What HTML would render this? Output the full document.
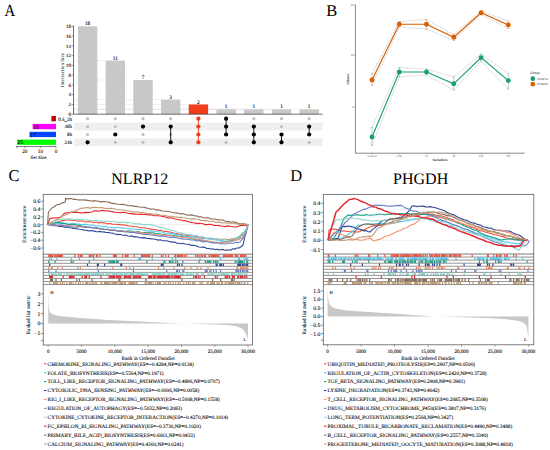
<!DOCTYPE html>
<html><head><meta charset="utf-8"><style>
html,body{margin:0;padding:0;background:#fff;width:550px;height:450px;overflow:hidden}
svg{display:block}
text{text-rendering:geometricPrecision}
.s{stroke:#111;stroke-width:0.1px}
</style></head><body>
<svg width="550" height="450" viewBox="0 0 550 450">
<rect width="550" height="450" fill="#fff"/>
<text x="4.5" y="15.8" font-family='"Liberation Serif", serif' font-size="16.5" transform="translate(4.5,15.8) scale(0.9,1.03) translate(-4.5,-15.8)">A</text>
<line x1="73.50" y1="60.52" x2="105.60" y2="60.52" stroke="#e2e2e2" stroke-width="0.5" />
<line x1="73.50" y1="80.04" x2="133.30" y2="80.04" stroke="#e2e2e2" stroke-width="0.5" />
<line x1="73.50" y1="99.56" x2="161.00" y2="99.56" stroke="#e2e2e2" stroke-width="0.5" />
<line x1="73.50" y1="104.44" x2="188.70" y2="104.44" stroke="#e2e2e2" stroke-width="0.5" />
<line x1="73.50" y1="109.32" x2="216.40" y2="109.32" stroke="#e2e2e2" stroke-width="0.5" />
<line x1="73.50" y1="109.32" x2="244.10" y2="109.32" stroke="#e2e2e2" stroke-width="0.5" />
<line x1="73.50" y1="109.32" x2="271.80" y2="109.32" stroke="#e2e2e2" stroke-width="0.5" />
<line x1="73.50" y1="109.32" x2="299.50" y2="109.32" stroke="#e2e2e2" stroke-width="0.5" />
<rect x="77.90" y="26.36" width="19.40" height="87.84" fill="#c8c8c8"/>
<text class="s" x="87.60" y="25.46" font-family='"Liberation Serif", serif' font-size="5.4" text-anchor="middle" fill="#111" >18</text>
<rect x="105.60" y="60.52" width="19.40" height="53.68" fill="#c8c8c8"/>
<text class="s" x="115.30" y="59.62" font-family='"Liberation Serif", serif' font-size="5.4" text-anchor="middle" fill="#111" >11</text>
<rect x="133.30" y="80.04" width="19.40" height="34.16" fill="#c8c8c8"/>
<text class="s" x="143.00" y="79.14" font-family='"Liberation Serif", serif' font-size="5.4" text-anchor="middle" fill="#111" >7</text>
<rect x="161.00" y="99.56" width="19.40" height="14.64" fill="#c8c8c8"/>
<text class="s" x="170.70" y="98.66" font-family='"Liberation Serif", serif' font-size="5.4" text-anchor="middle" fill="#111" >3</text>
<rect x="188.70" y="104.44" width="19.40" height="9.76" fill="#f23d1a"/>
<text class="s" x="198.40" y="103.54" font-family='"Liberation Serif", serif' font-size="5.4" text-anchor="middle" fill="#111" >2</text>
<rect x="216.40" y="109.32" width="19.40" height="4.88" fill="#c8c8c8"/>
<text class="s" x="226.10" y="108.42" font-family='"Liberation Serif", serif' font-size="5.4" text-anchor="middle" fill="#111" >1</text>
<rect x="244.10" y="109.32" width="19.40" height="4.88" fill="#c8c8c8"/>
<text class="s" x="253.80" y="108.42" font-family='"Liberation Serif", serif' font-size="5.4" text-anchor="middle" fill="#111" >1</text>
<rect x="271.80" y="109.32" width="19.40" height="4.88" fill="#c8c8c8"/>
<text class="s" x="281.50" y="108.42" font-family='"Liberation Serif", serif' font-size="5.4" text-anchor="middle" fill="#111" >1</text>
<rect x="299.50" y="109.32" width="19.40" height="4.88" fill="#c8c8c8"/>
<text class="s" x="309.20" y="108.42" font-family='"Liberation Serif", serif' font-size="5.4" text-anchor="middle" fill="#111" >1</text>
<line x1="73.50" y1="25.50" x2="73.50" y2="114.20" stroke="#333" stroke-width="0.7" />
<line x1="73.50" y1="114.20" x2="322.70" y2="114.20" stroke="#333" stroke-width="0.7" />
<line x1="71.50" y1="114.20" x2="73.50" y2="114.20" stroke="#333" stroke-width="0.5" />
<text class="s" x="70.90" y="115.90" font-family='"Liberation Serif", serif' font-size="5.0" text-anchor="end" fill="#111" stroke="none">0</text>
<line x1="71.50" y1="104.44" x2="73.50" y2="104.44" stroke="#333" stroke-width="0.5" />
<text class="s" x="70.90" y="106.14" font-family='"Liberation Serif", serif' font-size="5.0" text-anchor="end" fill="#111" stroke="none">2</text>
<line x1="71.50" y1="94.68" x2="73.50" y2="94.68" stroke="#333" stroke-width="0.5" />
<text class="s" x="70.90" y="96.38" font-family='"Liberation Serif", serif' font-size="5.0" text-anchor="end" fill="#111" stroke="none">4</text>
<line x1="71.50" y1="84.92" x2="73.50" y2="84.92" stroke="#333" stroke-width="0.5" />
<text class="s" x="70.90" y="86.62" font-family='"Liberation Serif", serif' font-size="5.0" text-anchor="end" fill="#111" stroke="none">6</text>
<line x1="71.50" y1="75.16" x2="73.50" y2="75.16" stroke="#333" stroke-width="0.5" />
<text class="s" x="70.90" y="76.86" font-family='"Liberation Serif", serif' font-size="5.0" text-anchor="end" fill="#111" stroke="none">8</text>
<line x1="71.50" y1="65.40" x2="73.50" y2="65.40" stroke="#333" stroke-width="0.5" />
<text class="s" x="70.90" y="67.10" font-family='"Liberation Serif", serif' font-size="5.0" text-anchor="end" fill="#111" stroke="none">10</text>
<line x1="71.50" y1="55.64" x2="73.50" y2="55.64" stroke="#333" stroke-width="0.5" />
<text class="s" x="70.90" y="57.34" font-family='"Liberation Serif", serif' font-size="5.0" text-anchor="end" fill="#111" stroke="none">12</text>
<line x1="71.50" y1="45.88" x2="73.50" y2="45.88" stroke="#333" stroke-width="0.5" />
<text class="s" x="70.90" y="47.58" font-family='"Liberation Serif", serif' font-size="5.0" text-anchor="end" fill="#111" stroke="none">14</text>
<line x1="71.50" y1="36.12" x2="73.50" y2="36.12" stroke="#333" stroke-width="0.5" />
<text class="s" x="70.90" y="37.82" font-family='"Liberation Serif", serif' font-size="5.0" text-anchor="end" fill="#111" stroke="none">16</text>
<line x1="71.50" y1="26.36" x2="73.50" y2="26.36" stroke="#333" stroke-width="0.5" />
<text class="s" x="70.90" y="28.06" font-family='"Liberation Serif", serif' font-size="5.0" text-anchor="end" fill="#111" stroke="none">18</text>
<text transform="translate(64.4,70) rotate(-90)" font-family='"Liberation Serif", serif' font-size="5.1" text-anchor="middle" fill="#111">Intersection Size</text>
<rect x="74.00" y="122.70" width="248.70" height="7.80" fill="#efefef"/>
<rect x="74.00" y="138.40" width="248.70" height="7.80" fill="#efefef"/>
<text class="s" x="72.00" y="120.50" font-family='"Liberation Serif", serif' font-size="5.0" text-anchor="end" fill="#111" >0.5_2h</text>
<text class="s" x="72.00" y="128.40" font-family='"Liberation Serif", serif' font-size="5.0" text-anchor="end" fill="#111" >48h</text>
<text class="s" x="72.00" y="136.30" font-family='"Liberation Serif", serif' font-size="5.0" text-anchor="end" fill="#111" >8h</text>
<text class="s" x="72.00" y="144.10" font-family='"Liberation Serif", serif' font-size="5.0" text-anchor="end" fill="#111" >24h</text>
<circle cx="87.60" cy="118.70" r="1.60" fill="#c0c0c0"/>
<circle cx="87.60" cy="126.60" r="1.60" fill="#c0c0c0"/>
<circle cx="87.60" cy="134.50" r="1.60" fill="#c0c0c0"/>
<circle cx="87.60" cy="142.30" r="1.60" fill="#c0c0c0"/>
<circle cx="87.60" cy="142.30" r="2.10" fill="#000"/>
<circle cx="115.30" cy="118.70" r="1.60" fill="#c0c0c0"/>
<circle cx="115.30" cy="126.60" r="1.60" fill="#c0c0c0"/>
<circle cx="115.30" cy="134.50" r="1.60" fill="#c0c0c0"/>
<circle cx="115.30" cy="142.30" r="1.60" fill="#c0c0c0"/>
<circle cx="115.30" cy="134.50" r="2.10" fill="#000"/>
<circle cx="143.00" cy="118.70" r="1.60" fill="#c0c0c0"/>
<circle cx="143.00" cy="126.60" r="1.60" fill="#c0c0c0"/>
<circle cx="143.00" cy="134.50" r="1.60" fill="#c0c0c0"/>
<circle cx="143.00" cy="142.30" r="1.60" fill="#c0c0c0"/>
<circle cx="143.00" cy="126.60" r="2.10" fill="#000"/>
<circle cx="170.70" cy="118.70" r="1.60" fill="#c0c0c0"/>
<circle cx="170.70" cy="126.60" r="1.60" fill="#c0c0c0"/>
<circle cx="170.70" cy="134.50" r="1.60" fill="#c0c0c0"/>
<circle cx="170.70" cy="142.30" r="1.60" fill="#c0c0c0"/>
<line x1="170.70" y1="126.60" x2="170.70" y2="142.30" stroke="#000" stroke-width="0.9" />
<circle cx="170.70" cy="126.60" r="2.10" fill="#000"/>
<circle cx="170.70" cy="142.30" r="2.10" fill="#000"/>
<circle cx="198.40" cy="118.70" r="1.60" fill="#c0c0c0"/>
<circle cx="198.40" cy="126.60" r="1.60" fill="#c0c0c0"/>
<circle cx="198.40" cy="134.50" r="1.60" fill="#c0c0c0"/>
<circle cx="198.40" cy="142.30" r="1.60" fill="#c0c0c0"/>
<line x1="198.40" y1="118.70" x2="198.40" y2="142.30" stroke="#f23d1a" stroke-width="0.9" />
<circle cx="198.40" cy="118.70" r="2.10" fill="#f23d1a"/>
<circle cx="198.40" cy="126.60" r="2.10" fill="#f23d1a"/>
<circle cx="198.40" cy="134.50" r="2.10" fill="#f23d1a"/>
<circle cx="198.40" cy="142.30" r="2.10" fill="#f23d1a"/>
<circle cx="226.10" cy="118.70" r="1.60" fill="#c0c0c0"/>
<circle cx="226.10" cy="126.60" r="1.60" fill="#c0c0c0"/>
<circle cx="226.10" cy="134.50" r="1.60" fill="#c0c0c0"/>
<circle cx="226.10" cy="142.30" r="1.60" fill="#c0c0c0"/>
<line x1="226.10" y1="118.70" x2="226.10" y2="134.50" stroke="#000" stroke-width="0.9" />
<circle cx="226.10" cy="118.70" r="2.10" fill="#000"/>
<circle cx="226.10" cy="126.60" r="2.10" fill="#000"/>
<circle cx="226.10" cy="134.50" r="2.10" fill="#000"/>
<circle cx="253.80" cy="118.70" r="1.60" fill="#c0c0c0"/>
<circle cx="253.80" cy="126.60" r="1.60" fill="#c0c0c0"/>
<circle cx="253.80" cy="134.50" r="1.60" fill="#c0c0c0"/>
<circle cx="253.80" cy="142.30" r="1.60" fill="#c0c0c0"/>
<line x1="253.80" y1="126.60" x2="253.80" y2="142.30" stroke="#000" stroke-width="0.9" />
<circle cx="253.80" cy="126.60" r="2.10" fill="#000"/>
<circle cx="253.80" cy="134.50" r="2.10" fill="#000"/>
<circle cx="253.80" cy="142.30" r="2.10" fill="#000"/>
<circle cx="281.50" cy="118.70" r="1.60" fill="#c0c0c0"/>
<circle cx="281.50" cy="126.60" r="1.60" fill="#c0c0c0"/>
<circle cx="281.50" cy="134.50" r="1.60" fill="#c0c0c0"/>
<circle cx="281.50" cy="142.30" r="1.60" fill="#c0c0c0"/>
<line x1="281.50" y1="134.50" x2="281.50" y2="142.30" stroke="#000" stroke-width="0.9" />
<circle cx="281.50" cy="134.50" r="2.10" fill="#000"/>
<circle cx="281.50" cy="142.30" r="2.10" fill="#000"/>
<circle cx="309.20" cy="118.70" r="1.60" fill="#c0c0c0"/>
<circle cx="309.20" cy="126.60" r="1.60" fill="#c0c0c0"/>
<circle cx="309.20" cy="134.50" r="1.60" fill="#c0c0c0"/>
<circle cx="309.20" cy="142.30" r="1.60" fill="#c0c0c0"/>
<line x1="309.20" y1="126.60" x2="309.20" y2="134.50" stroke="#000" stroke-width="0.9" />
<circle cx="309.20" cy="126.60" r="2.10" fill="#000"/>
<circle cx="309.20" cy="134.50" r="2.10" fill="#000"/>
<rect x="51.32" y="116.00" width="4.68" height="5.30" fill="#ff0000"/>
<text class="s" x="51.92" y="120.70" font-family='"Liberation Serif", serif' font-size="5.6" text-anchor="start" fill="#111" >3</text>
<rect x="32.60" y="123.90" width="23.40" height="5.30" fill="#ff00ff"/>
<text class="s" x="33.20" y="128.60" font-family='"Liberation Serif", serif' font-size="5.6" text-anchor="start" fill="#111" >15</text>
<rect x="29.48" y="131.80" width="26.52" height="5.30" fill="#0047ff"/>
<text class="s" x="30.08" y="136.50" font-family='"Liberation Serif", serif' font-size="5.6" text-anchor="start" fill="#111" >17</text>
<rect x="17.00" y="139.60" width="39.00" height="5.30" fill="#00ff00"/>
<text class="s" x="17.60" y="144.30" font-family='"Liberation Serif", serif' font-size="5.6" text-anchor="start" fill="#111" >25</text>
<line x1="16.00" y1="146.50" x2="56.00" y2="146.50" stroke="#333" stroke-width="0.6" />
<line x1="56.00" y1="146.50" x2="56.00" y2="148.30" stroke="#333" stroke-width="0.5" />
<line x1="40.40" y1="146.50" x2="40.40" y2="148.30" stroke="#333" stroke-width="0.5" />
<line x1="24.80" y1="146.50" x2="24.80" y2="148.30" stroke="#333" stroke-width="0.5" />
<line x1="17.00" y1="146.50" x2="17.00" y2="148.30" stroke="#333" stroke-width="0.5" />
<text class="s" x="56.00" y="153.30" font-family='"Liberation Serif", serif' font-size="5.2" text-anchor="middle" fill="#111" >0</text>
<text class="s" x="40.40" y="153.30" font-family='"Liberation Serif", serif' font-size="5.2" text-anchor="middle" fill="#111" >10</text>
<text class="s" x="24.80" y="153.30" font-family='"Liberation Serif", serif' font-size="5.2" text-anchor="middle" fill="#111" >20</text>
<text class="s" x="38.50" y="158.60" font-family='"Liberation Serif", serif' font-size="4.9" text-anchor="middle" fill="#111" >Set Size</text>
<text x="326.20" y="15.90" font-family='"Liberation Serif", serif' font-size="16.5" text-anchor="start" fill="#000" >B</text>
<line x1="355.40" y1="4.50" x2="355.40" y2="153.20" stroke="#555" stroke-width="0.7" />
<line x1="355.40" y1="153.20" x2="524.70" y2="153.20" stroke="#555" stroke-width="0.7" />
<line x1="354.20" y1="5.30" x2="355.40" y2="5.30" stroke="#555" stroke-width="0.4" />
<text x="353.80" y="6.20" font-family='"Liberation Sans", sans-serif' font-size="2.8" text-anchor="end" fill="#666" >15</text>
<line x1="354.20" y1="55.40" x2="355.40" y2="55.40" stroke="#555" stroke-width="0.4" />
<text x="353.80" y="56.30" font-family='"Liberation Sans", sans-serif' font-size="2.8" text-anchor="end" fill="#666" >10</text>
<line x1="354.20" y1="106.70" x2="355.40" y2="106.70" stroke="#555" stroke-width="0.4" />
<text x="353.80" y="107.60" font-family='"Liberation Sans", sans-serif' font-size="2.8" text-anchor="end" fill="#666" >5</text>
<line x1="372.00" y1="153.20" x2="372.00" y2="154.40" stroke="#555" stroke-width="0.4" />
<text x="372.00" y="157.20" font-family='"Liberation Sans", sans-serif' font-size="2.8" text-anchor="middle" fill="#666" >Control</text>
<line x1="399.30" y1="153.20" x2="399.30" y2="154.40" stroke="#555" stroke-width="0.4" />
<text x="399.30" y="157.20" font-family='"Liberation Sans", sans-serif' font-size="2.8" text-anchor="middle" fill="#666" >2.5h</text>
<line x1="426.50" y1="153.20" x2="426.50" y2="154.40" stroke="#555" stroke-width="0.4" />
<text x="426.50" y="157.20" font-family='"Liberation Sans", sans-serif' font-size="2.8" text-anchor="middle" fill="#666" >24</text>
<line x1="453.80" y1="153.20" x2="453.80" y2="154.40" stroke="#555" stroke-width="0.4" />
<text x="453.80" y="157.20" font-family='"Liberation Sans", sans-serif' font-size="2.8" text-anchor="middle" fill="#666" >48</text>
<line x1="481.10" y1="153.20" x2="481.10" y2="154.40" stroke="#555" stroke-width="0.4" />
<text x="481.10" y="157.20" font-family='"Liberation Sans", sans-serif' font-size="2.8" text-anchor="middle" fill="#666" >148</text>
<line x1="508.30" y1="153.20" x2="508.30" y2="154.40" stroke="#555" stroke-width="0.4" />
<text x="508.30" y="157.20" font-family='"Liberation Sans", sans-serif' font-size="2.8" text-anchor="middle" fill="#666" >407</text>
<text x="440.00" y="160.60" font-family='"Liberation Sans", sans-serif' font-size="3.4" text-anchor="middle" fill="#444" font-weight="bold">Variables</text>
<text transform="translate(349.2,79.3) rotate(-90)" font-family='"Liberation Sans", sans-serif' font-size="3.4" text-anchor="middle" fill="#444" font-weight="bold">Values</text>
<polyline points="372.0,73.5 399.3,21.5 426.5,19.5 453.8,34.5 481.1,11.0 508.3,21.0" fill="none" stroke="#aaaaaa" stroke-width="0.6" stroke-dasharray="1.6,1.2"/>
<polyline points="372.0,85.5 399.3,27.0 426.5,29.0 453.8,40.5 481.1,14.5 508.3,28.5" fill="none" stroke="#aaaaaa" stroke-width="0.6" stroke-dasharray="1.6,1.2"/>
<polyline points="372.0,80.0 399.3,24.2 426.5,24.2 453.8,37.3 481.1,12.7 508.3,24.9" fill="none" stroke="#d95f02" stroke-width="1.15"/>
<line x1="372.00" y1="73.50" x2="372.00" y2="85.50" stroke="#e8a070" stroke-width="0.6" />
<line x1="370.80" y1="73.50" x2="373.20" y2="73.50" stroke="#e8a070" stroke-width="0.6" />
<line x1="370.80" y1="85.50" x2="373.20" y2="85.50" stroke="#e8a070" stroke-width="0.6" />
<line x1="399.30" y1="21.50" x2="399.30" y2="27.00" stroke="#e8a070" stroke-width="0.6" />
<line x1="398.10" y1="21.50" x2="400.50" y2="21.50" stroke="#e8a070" stroke-width="0.6" />
<line x1="398.10" y1="27.00" x2="400.50" y2="27.00" stroke="#e8a070" stroke-width="0.6" />
<line x1="426.50" y1="19.50" x2="426.50" y2="29.00" stroke="#e8a070" stroke-width="0.6" />
<line x1="425.30" y1="19.50" x2="427.70" y2="19.50" stroke="#e8a070" stroke-width="0.6" />
<line x1="425.30" y1="29.00" x2="427.70" y2="29.00" stroke="#e8a070" stroke-width="0.6" />
<line x1="453.80" y1="34.50" x2="453.80" y2="40.50" stroke="#e8a070" stroke-width="0.6" />
<line x1="452.60" y1="34.50" x2="455.00" y2="34.50" stroke="#e8a070" stroke-width="0.6" />
<line x1="452.60" y1="40.50" x2="455.00" y2="40.50" stroke="#e8a070" stroke-width="0.6" />
<line x1="481.10" y1="11.00" x2="481.10" y2="14.50" stroke="#e8a070" stroke-width="0.6" />
<line x1="479.90" y1="11.00" x2="482.30" y2="11.00" stroke="#e8a070" stroke-width="0.6" />
<line x1="479.90" y1="14.50" x2="482.30" y2="14.50" stroke="#e8a070" stroke-width="0.6" />
<line x1="508.30" y1="21.00" x2="508.30" y2="28.50" stroke="#e8a070" stroke-width="0.6" />
<line x1="507.10" y1="21.00" x2="509.50" y2="21.00" stroke="#e8a070" stroke-width="0.6" />
<line x1="507.10" y1="28.50" x2="509.50" y2="28.50" stroke="#e8a070" stroke-width="0.6" />
<circle cx="372.00" cy="80.00" r="2.45" fill="#d95f02"/>
<circle cx="399.30" cy="24.20" r="2.45" fill="#d95f02"/>
<circle cx="426.50" cy="24.20" r="2.45" fill="#d95f02"/>
<circle cx="453.80" cy="37.30" r="2.45" fill="#d95f02"/>
<circle cx="481.10" cy="12.70" r="2.45" fill="#d95f02"/>
<circle cx="508.30" cy="24.90" r="2.45" fill="#d95f02"/>
<polyline points="372.0,127.5 399.3,67.5 426.5,69.0 453.8,77.0 481.1,54.0 508.3,73.5" fill="none" stroke="#aaaaaa" stroke-width="0.6" stroke-dasharray="1.6,1.2"/>
<polyline points="372.0,145.5 399.3,77.0 426.5,75.0 453.8,90.0 481.1,61.0 508.3,89.0" fill="none" stroke="#aaaaaa" stroke-width="0.6" stroke-dasharray="1.6,1.2"/>
<polyline points="372.0,137.0 399.3,72.0 426.5,72.0 453.8,83.8 481.1,57.6 508.3,80.6" fill="none" stroke="#1b9e77" stroke-width="1.15"/>
<line x1="372.00" y1="127.50" x2="372.00" y2="145.50" stroke="#70c0a8" stroke-width="0.6" />
<line x1="370.80" y1="127.50" x2="373.20" y2="127.50" stroke="#70c0a8" stroke-width="0.6" />
<line x1="370.80" y1="145.50" x2="373.20" y2="145.50" stroke="#70c0a8" stroke-width="0.6" />
<line x1="399.30" y1="67.50" x2="399.30" y2="77.00" stroke="#70c0a8" stroke-width="0.6" />
<line x1="398.10" y1="67.50" x2="400.50" y2="67.50" stroke="#70c0a8" stroke-width="0.6" />
<line x1="398.10" y1="77.00" x2="400.50" y2="77.00" stroke="#70c0a8" stroke-width="0.6" />
<line x1="426.50" y1="69.00" x2="426.50" y2="75.00" stroke="#70c0a8" stroke-width="0.6" />
<line x1="425.30" y1="69.00" x2="427.70" y2="69.00" stroke="#70c0a8" stroke-width="0.6" />
<line x1="425.30" y1="75.00" x2="427.70" y2="75.00" stroke="#70c0a8" stroke-width="0.6" />
<line x1="453.80" y1="77.00" x2="453.80" y2="90.00" stroke="#70c0a8" stroke-width="0.6" />
<line x1="452.60" y1="77.00" x2="455.00" y2="77.00" stroke="#70c0a8" stroke-width="0.6" />
<line x1="452.60" y1="90.00" x2="455.00" y2="90.00" stroke="#70c0a8" stroke-width="0.6" />
<line x1="481.10" y1="54.00" x2="481.10" y2="61.00" stroke="#70c0a8" stroke-width="0.6" />
<line x1="479.90" y1="54.00" x2="482.30" y2="54.00" stroke="#70c0a8" stroke-width="0.6" />
<line x1="479.90" y1="61.00" x2="482.30" y2="61.00" stroke="#70c0a8" stroke-width="0.6" />
<line x1="508.30" y1="73.50" x2="508.30" y2="89.00" stroke="#70c0a8" stroke-width="0.6" />
<line x1="507.10" y1="73.50" x2="509.50" y2="73.50" stroke="#70c0a8" stroke-width="0.6" />
<line x1="507.10" y1="89.00" x2="509.50" y2="89.00" stroke="#70c0a8" stroke-width="0.6" />
<circle cx="372.00" cy="137.00" r="2.45" fill="#1b9e77"/>
<circle cx="399.30" cy="72.00" r="2.45" fill="#1b9e77"/>
<circle cx="426.50" cy="72.00" r="2.45" fill="#1b9e77"/>
<circle cx="453.80" cy="83.80" r="2.45" fill="#1b9e77"/>
<circle cx="481.10" cy="57.60" r="2.45" fill="#1b9e77"/>
<circle cx="508.30" cy="80.60" r="2.45" fill="#1b9e77"/>
<text x="530.00" y="73.80" font-family='"Liberation Sans", sans-serif' font-size="3.5" text-anchor="start" fill="#222" >Group</text>
<circle cx="532.80" cy="78.70" r="2.35" fill="#1b9e77"/>
<circle cx="532.80" cy="84.20" r="2.35" fill="#d95f02"/>
<text x="537.30" y="79.70" font-family='"Liberation Sans", sans-serif' font-size="2.9" text-anchor="start" fill="#444" >NLRP12</text>
<text x="537.30" y="85.20" font-family='"Liberation Sans", sans-serif' font-size="2.9" text-anchor="start" fill="#444" >PHGDH</text>
<text x="8.50" y="180.60" font-family='"Liberation Serif", serif' font-size="16.5" text-anchor="start" fill="#000" >C</text>
<text x="111.30" y="184.20" font-family='"Liberation Serif", serif' font-size="16" text-anchor="start" fill="#000" >NLRP12</text>
<rect x="43.2" y="194.3" width="209.39999999999998" height="150.7" fill="none" stroke="#555" stroke-width="0.75"/>
<line x1="43.20" y1="254.20" x2="252.60" y2="254.20" stroke="#333" stroke-width="0.65" />
<line x1="40.70" y1="201.20" x2="43.20" y2="201.20" stroke="#444" stroke-width="0.55" />
<text class="s" x="40.30" y="203.15" font-family='"Liberation Serif", serif' font-size="5.7" text-anchor="end" fill="#111" >0.6</text>
<line x1="40.70" y1="209.00" x2="43.20" y2="209.00" stroke="#444" stroke-width="0.55" />
<text class="s" x="40.30" y="210.95" font-family='"Liberation Serif", serif' font-size="5.7" text-anchor="end" fill="#111" >0.4</text>
<line x1="40.70" y1="216.80" x2="43.20" y2="216.80" stroke="#444" stroke-width="0.55" />
<text class="s" x="40.30" y="218.75" font-family='"Liberation Serif", serif' font-size="5.7" text-anchor="end" fill="#111" >0.2</text>
<line x1="40.70" y1="224.60" x2="43.20" y2="224.60" stroke="#444" stroke-width="0.55" />
<text class="s" x="40.30" y="226.55" font-family='"Liberation Serif", serif' font-size="5.7" text-anchor="end" fill="#111" >0.0</text>
<line x1="40.70" y1="232.40" x2="43.20" y2="232.40" stroke="#444" stroke-width="0.55" />
<text class="s" x="40.30" y="234.35" font-family='"Liberation Serif", serif' font-size="5.7" text-anchor="end" fill="#111" >−0.2</text>
<line x1="40.70" y1="240.20" x2="43.20" y2="240.20" stroke="#444" stroke-width="0.55" />
<text class="s" x="40.30" y="242.15" font-family='"Liberation Serif", serif' font-size="5.7" text-anchor="end" fill="#111" >−0.4</text>
<line x1="40.70" y1="248.00" x2="43.20" y2="248.00" stroke="#444" stroke-width="0.55" />
<text class="s" x="40.30" y="249.95" font-family='"Liberation Serif", serif' font-size="5.7" text-anchor="end" fill="#111" >−0.6</text>
<text transform="translate(25.8,224.2) rotate(-90)" font-family='"Liberation Serif", serif' font-size="5.3" text-anchor="middle" fill="#000" stroke="#000" stroke-width="0.06">Enrichment score</text>
<line x1="43.20" y1="224.60" x2="252.60" y2="224.60" stroke="#dddddd" stroke-width="0.5" />
<polyline points="47.6,224.6 49.6,223.9 51.7,223.3 53.7,223.2 55.8,222.2 57.8,222.1 59.9,221.4 61.9,220.6 64.0,220.5 66.0,220.0 68.0,219.7 70.0,220.2 72.0,220.1 74.0,220.2 76.0,220.7 78.0,221.2 80.0,220.7 82.0,221.0 84.0,221.5 86.0,221.9 88.0,221.8 90.0,221.8 92.0,222.0 94.0,222.6 96.0,222.0 98.0,222.9 100.0,222.6 102.0,222.7 104.0,222.9 106.0,223.2 108.0,223.9 110.0,223.5 112.0,224.1 114.0,224.3 116.0,224.3 118.0,224.6 120.0,224.4 122.0,225.0 124.0,224.9 126.0,225.3 128.0,226.0 130.0,226.0 132.0,226.2 134.0,226.7 136.0,226.8 138.0,227.0 140.0,227.7 142.0,227.8 144.0,227.7 146.0,228.3 148.0,228.5 150.0,229.1 152.0,229.0 154.1,229.6 156.1,229.6 158.2,230.6 160.2,230.2 162.3,230.8 164.4,231.5 166.4,231.3 168.5,232.0 170.6,232.0 172.6,232.9 174.7,233.4 176.8,233.6 178.8,234.2 180.9,234.1 182.9,234.8 185.0,235.0 187.0,235.4 189.0,235.6 191.0,235.8 193.0,236.4 195.0,236.8 197.0,236.6 199.0,237.1 201.0,236.8 203.0,237.7 205.0,237.9 207.0,238.5 209.0,238.6 211.0,238.4 213.0,238.8 215.0,239.3 217.0,239.0 219.0,239.7 221.0,240.0 223.0,239.6 225.0,239.4 227.0,239.2 229.0,239.7 231.0,239.0 233.0,238.9 235.0,239.0 237.0,237.9 239.0,237.3 241.0,235.6 243.0,235.0 246.0,230.0 248.0,224.6" fill="none" stroke="#f0503c" stroke-width="1.1" stroke-linejoin="round"/>
<polyline points="47.6,224.6 49.7,224.3 51.7,224.1 53.8,224.1 55.9,223.8 57.9,223.6 60.0,223.0 62.0,222.9 64.0,223.2 66.0,223.3 68.0,223.9 70.0,224.1 72.0,223.5 74.0,223.6 76.0,223.8 78.0,224.0 80.0,224.3 82.0,224.5 84.0,224.4 86.0,224.3 88.0,224.8 90.0,225.0 92.0,225.1 94.0,225.5 96.0,226.0 98.0,226.0 100.0,226.0 102.0,226.3 104.0,226.6 106.0,226.2 108.0,227.2 110.0,227.3 112.0,227.5 114.0,227.7 116.0,227.5 118.0,227.7 120.0,227.6 122.0,228.3 124.0,228.0 126.0,228.2 128.0,228.5 130.0,229.0 132.0,228.9 134.0,229.3 136.0,229.2 138.0,229.4 140.0,229.7 142.0,229.8 144.0,230.3 146.0,230.2 148.0,231.1 150.0,231.1 152.0,230.9 154.0,231.2 156.0,231.5 158.0,231.7 160.0,232.0 162.0,232.0 164.0,232.9 166.0,233.3 168.0,233.2 170.0,233.5 172.0,233.4 174.0,233.7 176.0,234.3 178.0,234.5 180.0,235.3 182.0,235.0 184.0,235.2 186.0,236.3 188.0,236.2 190.0,236.2 192.0,236.8 194.0,236.7 196.0,237.4 198.0,238.1 200.0,238.0 202.1,238.6 204.2,238.7 206.2,238.5 208.3,238.9 210.4,239.0 212.5,239.7 214.6,239.8 216.7,240.3 218.8,240.1 220.8,240.3 222.9,241.0 225.0,241.0 227.0,241.3 229.0,241.0 231.0,240.8 233.0,240.6 235.0,240.4 237.0,240.0 239.3,238.4 241.7,237.3 244.0,236.0 246.0,230.2 248.0,224.6" fill="none" stroke="#5cc6ee" stroke-width="1.1" stroke-linejoin="round"/>
<polyline points="47.6,224.6 49.7,223.7 51.8,223.3 53.8,223.1 55.9,222.6 58.0,222.4 60.0,222.9 62.0,223.4 64.0,223.3 66.0,224.0 68.0,224.3 70.0,224.6 72.0,224.4 74.0,224.5 76.0,224.9 78.0,225.1 80.0,225.4 82.0,226.0 84.0,226.4 86.0,226.9 88.0,227.1 90.0,227.0 92.0,227.5 94.0,227.9 96.0,227.5 98.0,228.3 100.0,228.8 102.0,228.9 104.0,229.2 106.0,229.2 108.0,229.2 110.0,230.0 112.0,230.0 114.0,230.0 116.0,230.6 118.0,230.9 120.0,230.5 122.0,230.7 124.0,231.3 126.0,231.3 128.0,230.9 130.0,231.0 132.0,231.2 134.0,232.0 136.0,232.1 138.0,231.6 140.0,232.4 142.0,232.7 144.0,232.5 146.0,232.4 148.0,232.7 150.0,232.5 152.0,233.0 154.1,232.8 156.1,233.9 158.2,233.9 160.2,234.0 162.3,234.6 164.4,234.4 166.4,235.1 168.5,235.3 170.6,235.0 172.6,235.3 174.7,235.6 176.8,235.8 178.8,236.3 180.9,236.3 182.9,236.7 185.0,237.0 187.0,237.1 189.0,238.2 191.0,238.1 193.0,238.6 195.0,239.1 197.0,239.8 199.0,239.7 201.0,240.6 203.0,240.6 205.0,241.0 207.0,241.4 209.0,241.4 211.0,242.1 213.0,242.3 215.0,243.0 217.0,242.3 219.0,242.8 221.0,242.0 223.0,242.0 225.0,242.0 227.0,241.6 229.0,241.1 231.0,241.0 233.2,239.8 235.5,238.5 237.8,237.5 240.0,236.0 242.0,233.6 244.0,232.1 246.0,230.0 248.0,224.6" fill="none" stroke="#14a38b" stroke-width="1.1" stroke-linejoin="round"/>
<polyline points="47.6,224.6 49.7,224.6 51.7,224.9 53.8,225.6 55.8,225.6 57.9,225.9 59.9,226.4 62.0,226.4 64.0,227.1 66.0,227.0 68.0,227.5 70.0,227.7 72.0,228.0 74.0,228.5 76.0,228.6 78.0,229.0 80.0,229.3 82.0,229.5 84.0,230.1 86.0,230.2 88.0,230.6 90.0,230.9 92.0,230.5 94.0,231.1 96.0,231.6 98.0,231.8 100.0,231.4 102.0,232.0 104.0,231.9 106.0,232.5 108.0,232.5 110.0,232.9 112.0,233.0 114.0,233.8 116.0,234.2 118.0,234.6 120.0,234.2 122.0,235.0 124.0,235.2 126.0,235.0 128.0,236.0 130.0,236.3 132.0,235.9 134.0,236.9 136.0,236.7 138.0,237.0 140.0,237.8 142.0,237.9 144.0,237.6 146.0,238.1 148.0,238.5 150.0,238.6 152.0,239.0 154.1,239.0 156.1,239.5 158.2,240.1 160.2,239.8 162.3,240.6 164.4,240.8 166.4,240.8 168.5,241.3 170.6,241.9 172.6,242.1 174.7,242.0 176.8,243.2 178.8,243.3 180.9,243.8 182.9,243.3 185.0,244.0 187.0,244.2 189.0,244.3 191.0,245.4 193.0,245.3 195.0,245.5 197.0,246.2 199.0,247.0 201.0,247.3 203.0,247.1 205.0,247.4 207.0,248.5 209.0,248.5 211.0,249.0 213.0,248.9 215.0,249.6 217.0,249.3 219.0,249.9 221.0,249.7 223.0,249.4 225.0,250.3 227.0,250.1 229.0,250.0 231.0,249.9 233.0,248.8 235.0,249.1 237.0,248.0 239.0,248.0 241.0,246.8 243.0,245.0 245.0,236.0 248.0,224.6" fill="none" stroke="#2e4596" stroke-width="1.1" stroke-linejoin="round"/>
<polyline points="47.6,224.6 49.6,224.7 51.7,224.7 53.7,225.0 55.7,225.5 57.8,225.0 59.8,225.0 61.8,225.4 63.9,225.3 65.9,225.3 67.9,225.5 70.0,225.5 72.0,226.0 74.0,225.9 76.0,226.2 78.0,226.4 80.0,227.0 82.0,226.8 84.0,227.2 86.0,227.1 88.0,227.5 90.0,227.4 92.0,227.8 94.0,227.8 96.0,228.6 98.0,228.6 100.0,228.5 102.0,229.0 104.0,229.2 106.0,229.8 108.0,229.2 110.0,230.1 112.0,229.9 114.0,230.2 116.0,230.7 118.0,230.5 120.0,230.8 122.0,231.2 124.0,231.6 126.0,231.3 128.0,231.9 130.0,232.0 132.0,232.1 134.0,232.1 136.0,232.3 138.0,232.2 140.0,232.5 142.0,232.6 144.0,233.4 146.0,233.2 148.0,233.3 150.0,233.4 152.0,234.0 154.0,234.5 156.0,234.8 158.0,234.8 160.0,234.6 162.0,234.8 164.0,235.1 166.0,235.4 168.0,235.4 170.0,235.8 172.0,235.9 174.0,236.7 176.0,237.0 178.0,236.8 180.0,236.7 182.0,237.6 184.0,237.2 186.0,237.4 188.0,237.3 190.0,238.0 192.1,238.3 194.2,238.7 196.2,239.2 198.3,239.3 200.4,239.9 202.5,239.9 204.5,240.5 206.6,240.7 208.7,241.4 210.8,241.4 212.8,241.8 214.9,242.4 217.0,243.0 219.0,242.5 221.0,242.6 223.0,242.3 225.0,242.2 227.0,241.9 229.0,241.7 231.0,241.6 233.0,241.0 235.0,240.3 237.0,239.6 239.0,239.6 241.0,238.3 243.0,238.0 246.0,232.0 248.0,224.6" fill="none" stroke="#f5906a" stroke-width="1.1" stroke-linejoin="round"/>
<polyline points="47.6,224.6 49.7,224.9 51.7,224.8 53.8,224.4 55.8,225.1 57.9,225.2 59.9,225.1 62.0,225.0 64.1,225.6 66.3,226.1 68.4,226.0 70.6,226.7 72.7,227.1 74.9,227.9 77.0,228.0 78.0,226.0 80.0,226.5 82.0,226.8 84.0,226.8 86.0,227.4 88.0,227.4 90.0,227.7 92.0,227.5 94.0,227.6 96.0,227.9 98.0,228.4 100.0,228.4 102.0,229.0 104.0,229.5 106.0,229.5 108.0,229.8 110.0,230.1 112.0,230.4 114.0,230.4 116.0,230.2 118.0,231.2 120.0,231.4 122.0,231.4 124.0,231.7 126.0,232.0 128.0,231.7 130.0,232.6 132.0,232.4 134.0,232.5 136.0,232.9 138.0,233.5 140.0,233.3 142.0,234.0 144.0,234.5 146.0,234.3 148.0,234.4 150.0,234.7 152.0,235.0 154.0,235.4 156.0,235.7 158.0,235.9 160.0,236.1 162.0,235.9 164.0,236.2 166.0,236.5 168.0,237.2 170.0,237.1 172.0,237.6 174.0,237.3 176.0,237.6 178.0,238.0 180.0,238.7 182.0,238.9 184.0,239.2 186.0,239.1 188.0,239.5 190.0,239.7 192.0,240.0 194.0,239.9 196.0,240.9 198.0,240.5 200.0,241.0 202.1,241.7 204.2,241.9 206.2,241.3 208.3,242.0 210.4,242.5 212.5,242.9 214.6,242.7 216.7,242.8 218.8,243.0 220.8,243.9 222.9,243.5 225.0,244.0 227.1,243.8 229.3,243.1 231.4,243.2 233.6,243.3 235.7,242.2 237.9,242.6 240.0,242.0 242.0,239.3 244.0,237.0 246.0,234.0 248.0,224.6" fill="none" stroke="#7080c4" stroke-width="1.1" stroke-linejoin="round"/>
<polyline points="47.6,224.6 49.7,224.0 51.7,222.8 53.8,222.6 55.8,221.4 57.9,220.2 59.9,219.4 62.0,219.0 64.0,219.1 66.0,219.1 68.0,219.0 70.0,218.9 72.0,219.2 74.0,219.2 76.0,219.7 78.0,219.0 80.0,219.8 82.0,219.6 84.0,220.0 86.0,219.5 88.0,220.4 90.0,220.4 92.0,220.7 94.0,220.3 96.0,220.5 98.0,220.6 100.0,221.3 102.0,221.0 104.0,221.2 106.0,221.1 108.0,221.3 110.0,221.3 112.0,221.3 114.0,221.4 116.0,222.2 118.0,221.9 120.0,222.6 122.0,222.1 124.0,222.3 126.0,222.6 128.0,222.5 130.0,222.8 132.0,223.0 134.0,223.6 136.0,223.7 138.0,223.9 140.0,223.9 142.0,224.4 144.0,224.6 146.0,224.4 148.0,224.8 150.0,224.4 152.0,225.0 154.1,225.8 156.1,226.1 158.2,226.9 160.2,227.4 162.3,227.6 164.4,228.0 166.4,229.3 168.5,229.2 170.6,230.0 172.6,230.5 174.7,231.0 176.8,232.0 178.8,232.7 180.9,232.7 182.9,233.6 185.0,234.0 187.0,234.2 189.0,234.7 191.0,234.9 193.0,235.0 195.0,235.4 197.0,235.7 199.0,236.7 201.0,236.7 203.0,236.7 205.0,237.7 207.0,238.1 209.0,238.0 211.0,238.0 213.0,238.4 215.0,239.0 217.0,238.8 219.0,239.1 221.0,239.1 223.0,239.3 225.0,239.5 227.0,239.9 229.0,240.0 231.0,239.8 233.0,239.2 235.0,238.4 237.0,238.0 239.0,236.4 241.0,235.0 243.0,233.4 245.0,232.0 248.0,224.6" fill="none" stroke="#8fd6cf" stroke-width="1.1" stroke-linejoin="round"/>
<polyline points="47.6,224.6 50.0,218.4 52.0,218.1 54.0,217.7 56.0,218.0 58.0,217.6 60.0,217.6 62.0,216.0 64.0,213.6 66.0,212.9 68.0,212.8 70.0,212.5 72.0,212.0 74.0,212.5 76.0,212.1 78.0,212.4 80.0,212.6 82.0,213.0 84.0,212.6 86.0,212.4 88.0,212.6 90.0,212.3 92.0,212.0 94.0,211.0 96.0,210.8 98.0,211.1 100.0,211.0 102.0,210.4 104.0,210.6 106.0,211.0 108.0,210.7 110.0,211.3 112.0,211.6 114.0,212.2 116.0,212.3 118.0,212.5 120.0,212.8 122.0,212.4 124.0,212.4 126.0,212.7 128.0,213.2 130.0,213.6 132.0,213.6 134.0,214.1 136.0,214.1 138.0,214.2 140.0,214.4 142.0,214.3 144.0,214.5 146.0,214.2 148.0,215.0 150.0,214.6 152.0,215.0 154.2,215.7 156.3,215.8 158.5,215.8 160.7,216.0 162.8,216.4 165.0,217.0 167.0,217.5 169.0,218.0 171.0,217.9 173.0,218.2 175.0,219.0 177.0,219.5 179.0,219.7 181.0,220.0 183.0,220.7 185.0,220.6 187.0,221.2 189.0,221.8 191.0,222.6 193.0,222.7 195.0,223.0 197.0,223.6 199.0,223.4 201.0,223.5 203.0,223.7 205.0,224.6 207.0,224.6 209.0,224.4 211.0,224.4 213.0,225.1 215.0,225.5 217.0,225.5 219.0,225.6 221.0,226.0 223.0,226.3 225.0,226.6 227.0,226.1 229.0,226.1 231.0,226.5 233.0,226.7 235.0,227.0 237.0,227.0 240.0,225.6 242.0,225.1 244.0,225.4 246.0,225.1 248.0,224.6" fill="none" stroke="#e8242b" stroke-width="1.1" stroke-linejoin="round"/>
<polyline points="47.6,224.6 48.4,212.0 52.0,208.0 54.0,206.8 56.0,205.3 58.0,204.4 60.0,204.2 62.0,202.9 64.0,202.4 65.2,202.0 65.6,198.4 67.6,198.9 69.7,198.6 71.8,198.7 73.8,199.4 75.8,199.2 77.9,200.0 80.0,199.8 82.0,200.0 84.0,199.9 86.0,200.1 88.0,200.4 90.0,200.8 92.0,201.2 94.0,200.6 96.0,201.0 98.0,201.0 100.0,201.9 102.0,201.6 104.0,201.6 106.0,201.8 108.0,202.0 110.0,202.6 112.0,203.4 114.0,203.6 116.0,203.8 118.0,204.3 120.0,204.5 122.0,204.4 124.0,204.6 126.0,204.7 128.0,205.7 130.0,205.8 132.0,205.5 134.0,206.4 136.0,206.4 138.0,206.7 140.0,207.0 142.0,207.2 144.0,207.3 146.0,207.9 148.0,208.3 150.0,209.1 152.0,209.0 154.0,209.0 156.1,210.1 158.1,209.7 160.2,210.2 162.2,211.0 164.3,211.3 166.3,211.3 168.4,211.3 170.4,212.0 172.5,212.2 174.5,213.0 176.6,212.7 178.6,213.2 180.7,214.0 182.7,213.6 184.8,214.3 186.8,214.9 188.9,215.2 190.9,214.9 193.0,215.2 195.0,216.0 197.0,215.9 199.0,217.0 201.0,216.7 203.0,217.5 205.0,218.0 207.0,217.8 209.0,218.0 211.0,219.0 213.0,219.0 215.0,219.0 217.0,219.7 219.0,219.7 221.0,220.0 223.0,220.0 225.0,221.0 227.0,221.5 229.0,221.6 231.0,222.2 233.0,221.7 235.0,222.2 237.0,222.7 239.0,223.5 241.0,223.8 243.0,223.6 245.0,224.0 248.0,224.6" fill="none" stroke="#8a6a55" stroke-width="1.1" stroke-linejoin="round"/>
<polyline points="47.6,224.6 49.7,223.2 51.9,222.1 54.0,221.0 56.0,219.7 58.0,218.9 60.0,217.0 62.0,216.0 64.0,215.5 66.0,214.6 68.0,213.9 70.0,213.0 72.0,212.0 74.0,211.3 76.0,210.2 78.0,209.4 80.0,208.7 82.0,208.0 84.0,208.2 86.0,207.5 88.0,207.6 90.0,208.1 92.0,207.6 94.0,207.4 96.0,207.3 98.0,207.7 100.0,207.5 102.0,207.6 104.0,208.3 106.0,208.4 108.0,208.8 110.0,208.3 112.0,208.4 114.0,208.7 116.0,209.3 118.0,209.7 120.0,209.7 122.0,210.0 124.0,210.0 126.0,210.5 128.0,210.9 130.0,211.2 132.0,211.6 134.0,211.9 136.0,212.0 138.0,211.8 140.0,212.7 142.0,212.5 144.0,213.0 146.0,213.1 148.0,213.7 150.0,213.5 152.0,214.0 154.1,214.0 156.1,214.3 158.2,214.4 160.2,215.3 162.3,215.3 164.4,215.3 166.4,215.7 168.5,216.4 170.6,216.3 172.6,216.3 174.7,217.0 176.8,217.1 178.8,217.7 180.9,217.1 182.9,217.7 185.0,218.0 187.0,218.5 189.0,218.8 191.0,219.1 193.0,218.6 195.0,219.1 197.0,219.2 199.0,219.5 201.0,220.4 203.0,220.3 205.0,220.9 207.0,220.6 209.0,221.3 211.0,221.2 213.0,221.3 215.0,222.0 217.0,222.4 219.0,221.9 221.0,222.6 223.0,222.9 225.0,223.0 227.0,222.9 229.0,223.2 231.0,223.1 233.0,223.3 235.0,223.5 237.0,223.9 239.0,224.1 241.0,223.9 243.0,223.8 245.0,224.4 248.0,224.6" fill="none" stroke="#c19a72" stroke-width="1.1" stroke-linejoin="round"/>
<rect x="48.20" y="254.50" width="1.20" height="2.43" fill="#f0503c"/>
<rect x="49.10" y="254.50" width="1.20" height="2.43" fill="#f0503c"/>
<rect x="50.00" y="254.50" width="1.20" height="2.43" fill="#f0503c"/>
<rect x="50.90" y="254.50" width="1.20" height="2.43" fill="#f0503c"/>
<rect x="51.80" y="254.50" width="1.20" height="2.43" fill="#f0503c"/>
<rect x="53.60" y="254.50" width="1.20" height="2.43" fill="#f0503c"/>
<rect x="54.50" y="254.50" width="1.20" height="2.43" fill="#f0503c"/>
<rect x="55.40" y="254.50" width="1.20" height="2.43" fill="#f0503c"/>
<rect x="56.30" y="254.50" width="1.20" height="2.43" fill="#f0503c"/>
<rect x="57.20" y="254.50" width="1.20" height="2.43" fill="#f0503c"/>
<rect x="58.10" y="254.50" width="1.20" height="2.43" fill="#f0503c"/>
<rect x="59.00" y="254.50" width="1.20" height="2.43" fill="#f0503c"/>
<rect x="59.90" y="254.50" width="1.20" height="2.43" fill="#f0503c"/>
<rect x="60.80" y="254.50" width="1.20" height="2.43" fill="#f0503c"/>
<rect x="61.70" y="254.50" width="1.20" height="2.43" fill="#f0503c"/>
<rect x="74.30" y="254.50" width="1.20" height="2.43" fill="#f0503c"/>
<rect x="77.90" y="254.50" width="1.20" height="2.43" fill="#f0503c"/>
<rect x="79.70" y="254.50" width="1.20" height="2.43" fill="#f0503c"/>
<rect x="80.60" y="254.50" width="1.20" height="2.43" fill="#f0503c"/>
<rect x="81.50" y="254.50" width="1.20" height="2.43" fill="#f0503c"/>
<rect x="88.70" y="254.50" width="1.20" height="2.43" fill="#f0503c"/>
<rect x="89.60" y="254.50" width="1.20" height="2.43" fill="#f0503c"/>
<rect x="90.50" y="254.50" width="1.20" height="2.43" fill="#f0503c"/>
<rect x="92.30" y="254.50" width="1.20" height="2.43" fill="#f0503c"/>
<rect x="93.20" y="254.50" width="1.20" height="2.43" fill="#f0503c"/>
<rect x="95.90" y="254.50" width="1.20" height="2.43" fill="#f0503c"/>
<rect x="96.80" y="254.50" width="1.20" height="2.43" fill="#f0503c"/>
<rect x="99.50" y="254.50" width="1.20" height="2.43" fill="#f0503c"/>
<rect x="113.00" y="254.50" width="1.20" height="2.43" fill="#f0503c"/>
<rect x="113.90" y="254.50" width="1.20" height="2.43" fill="#f0503c"/>
<rect x="114.80" y="254.50" width="1.20" height="2.43" fill="#f0503c"/>
<rect x="115.70" y="254.50" width="1.20" height="2.43" fill="#f0503c"/>
<rect x="122.00" y="254.50" width="1.20" height="2.43" fill="#f0503c"/>
<rect x="124.70" y="254.50" width="1.20" height="2.43" fill="#f0503c"/>
<rect x="125.60" y="254.50" width="1.20" height="2.43" fill="#f0503c"/>
<rect x="126.50" y="254.50" width="1.20" height="2.43" fill="#f0503c"/>
<rect x="127.40" y="254.50" width="1.20" height="2.43" fill="#f0503c"/>
<rect x="133.70" y="254.50" width="1.20" height="2.43" fill="#f0503c"/>
<rect x="140.90" y="254.50" width="1.20" height="2.43" fill="#f0503c"/>
<rect x="141.80" y="254.50" width="1.20" height="2.43" fill="#f0503c"/>
<rect x="142.70" y="254.50" width="1.20" height="2.43" fill="#f0503c"/>
<rect x="143.60" y="254.50" width="1.20" height="2.43" fill="#f0503c"/>
<rect x="144.50" y="254.50" width="1.20" height="2.43" fill="#f0503c"/>
<rect x="145.40" y="254.50" width="1.20" height="2.43" fill="#f0503c"/>
<rect x="146.30" y="254.50" width="1.20" height="2.43" fill="#f0503c"/>
<rect x="147.20" y="254.50" width="1.20" height="2.43" fill="#f0503c"/>
<rect x="148.10" y="254.50" width="1.20" height="2.43" fill="#f0503c"/>
<rect x="149.00" y="254.50" width="1.20" height="2.43" fill="#f0503c"/>
<rect x="151.70" y="254.50" width="1.20" height="2.43" fill="#f0503c"/>
<rect x="160.70" y="254.50" width="1.20" height="2.43" fill="#f0503c"/>
<rect x="162.50" y="254.50" width="1.20" height="2.43" fill="#f0503c"/>
<rect x="165.20" y="254.50" width="1.20" height="2.43" fill="#f0503c"/>
<rect x="167.90" y="254.50" width="1.20" height="2.43" fill="#f0503c"/>
<rect x="174.20" y="254.50" width="1.20" height="2.43" fill="#f0503c"/>
<rect x="175.10" y="254.50" width="1.20" height="2.43" fill="#f0503c"/>
<rect x="176.90" y="254.50" width="1.20" height="2.43" fill="#f0503c"/>
<rect x="177.80" y="254.50" width="1.20" height="2.43" fill="#f0503c"/>
<rect x="178.70" y="254.50" width="1.20" height="2.43" fill="#f0503c"/>
<rect x="179.60" y="254.50" width="1.20" height="2.43" fill="#f0503c"/>
<rect x="180.50" y="254.50" width="1.20" height="2.43" fill="#f0503c"/>
<rect x="181.40" y="254.50" width="1.20" height="2.43" fill="#f0503c"/>
<rect x="182.30" y="254.50" width="1.20" height="2.43" fill="#f0503c"/>
<rect x="184.10" y="254.50" width="1.20" height="2.43" fill="#f0503c"/>
<rect x="185.90" y="254.50" width="1.20" height="2.43" fill="#f0503c"/>
<rect x="194.90" y="254.50" width="1.20" height="2.43" fill="#f0503c"/>
<rect x="196.70" y="254.50" width="1.20" height="2.43" fill="#f0503c"/>
<rect x="197.60" y="254.50" width="1.20" height="2.43" fill="#f0503c"/>
<rect x="199.40" y="254.50" width="1.20" height="2.43" fill="#f0503c"/>
<rect x="201.20" y="254.50" width="1.20" height="2.43" fill="#f0503c"/>
<rect x="202.10" y="254.50" width="1.20" height="2.43" fill="#f0503c"/>
<rect x="203.90" y="254.50" width="1.20" height="2.43" fill="#f0503c"/>
<rect x="204.80" y="254.50" width="1.20" height="2.43" fill="#f0503c"/>
<rect x="208.40" y="254.50" width="1.20" height="2.43" fill="#f0503c"/>
<rect x="209.30" y="254.50" width="1.20" height="2.43" fill="#f0503c"/>
<rect x="211.10" y="254.50" width="1.20" height="2.43" fill="#f0503c"/>
<rect x="212.00" y="254.50" width="1.20" height="2.43" fill="#f0503c"/>
<rect x="212.90" y="254.50" width="1.20" height="2.43" fill="#f0503c"/>
<rect x="213.80" y="254.50" width="1.20" height="2.43" fill="#f0503c"/>
<rect x="214.70" y="254.50" width="1.20" height="2.43" fill="#f0503c"/>
<rect x="215.60" y="254.50" width="1.20" height="2.43" fill="#f0503c"/>
<rect x="216.50" y="254.50" width="1.20" height="2.43" fill="#f0503c"/>
<rect x="217.40" y="254.50" width="1.20" height="2.43" fill="#f0503c"/>
<rect x="218.30" y="254.50" width="1.20" height="2.43" fill="#f0503c"/>
<rect x="222.80" y="254.50" width="1.20" height="2.43" fill="#f0503c"/>
<rect x="223.70" y="254.50" width="1.20" height="2.43" fill="#f0503c"/>
<rect x="224.60" y="254.50" width="1.20" height="2.43" fill="#f0503c"/>
<rect x="225.50" y="254.50" width="1.20" height="2.43" fill="#f0503c"/>
<rect x="226.40" y="254.50" width="1.20" height="2.43" fill="#f0503c"/>
<rect x="227.30" y="254.50" width="1.20" height="2.43" fill="#f0503c"/>
<rect x="228.20" y="254.50" width="1.20" height="2.43" fill="#f0503c"/>
<rect x="229.10" y="254.50" width="1.20" height="2.43" fill="#f0503c"/>
<rect x="230.00" y="254.50" width="1.20" height="2.43" fill="#f0503c"/>
<rect x="230.90" y="254.50" width="1.20" height="2.43" fill="#f0503c"/>
<rect x="231.80" y="254.50" width="1.20" height="2.43" fill="#f0503c"/>
<rect x="234.50" y="254.50" width="1.20" height="2.43" fill="#f0503c"/>
<rect x="235.40" y="254.50" width="1.20" height="2.43" fill="#f0503c"/>
<rect x="236.30" y="254.50" width="1.20" height="2.43" fill="#f0503c"/>
<rect x="237.20" y="254.50" width="1.20" height="2.43" fill="#f0503c"/>
<rect x="239.90" y="254.50" width="1.20" height="2.43" fill="#f0503c"/>
<rect x="240.80" y="254.50" width="1.20" height="2.43" fill="#f0503c"/>
<rect x="241.70" y="254.50" width="1.20" height="2.43" fill="#f0503c"/>
<rect x="242.60" y="254.50" width="1.20" height="2.43" fill="#f0503c"/>
<rect x="243.50" y="254.50" width="1.20" height="2.43" fill="#f0503c"/>
<rect x="244.40" y="254.50" width="1.20" height="2.43" fill="#f0503c"/>
<rect x="245.30" y="254.50" width="1.20" height="2.43" fill="#f0503c"/>
<line x1="43.20" y1="257.23" x2="252.60" y2="257.23" stroke="#3a3a3a" stroke-width="0.55" />
<rect x="49.10" y="257.53" width="1.20" height="2.43" fill="#5cc6ee"/>
<rect x="50.90" y="257.53" width="1.20" height="2.43" fill="#5cc6ee"/>
<rect x="56.30" y="257.53" width="1.20" height="2.43" fill="#5cc6ee"/>
<rect x="70.70" y="257.53" width="1.20" height="2.43" fill="#5cc6ee"/>
<rect x="78.80" y="257.53" width="1.20" height="2.43" fill="#5cc6ee"/>
<rect x="93.20" y="257.53" width="1.20" height="2.43" fill="#5cc6ee"/>
<rect x="138.20" y="257.53" width="1.20" height="2.43" fill="#5cc6ee"/>
<rect x="139.10" y="257.53" width="1.20" height="2.43" fill="#5cc6ee"/>
<rect x="140.00" y="257.53" width="1.20" height="2.43" fill="#5cc6ee"/>
<rect x="151.70" y="257.53" width="1.20" height="2.43" fill="#5cc6ee"/>
<rect x="171.50" y="257.53" width="1.20" height="2.43" fill="#5cc6ee"/>
<rect x="175.10" y="257.53" width="1.20" height="2.43" fill="#5cc6ee"/>
<rect x="199.40" y="257.53" width="1.20" height="2.43" fill="#5cc6ee"/>
<rect x="220.10" y="257.53" width="1.20" height="2.43" fill="#5cc6ee"/>
<rect x="238.10" y="257.53" width="1.20" height="2.43" fill="#5cc6ee"/>
<rect x="239.00" y="257.53" width="1.20" height="2.43" fill="#5cc6ee"/>
<rect x="243.50" y="257.53" width="1.20" height="2.43" fill="#5cc6ee"/>
<rect x="245.30" y="257.53" width="1.20" height="2.43" fill="#5cc6ee"/>
<rect x="246.20" y="257.53" width="1.20" height="2.43" fill="#5cc6ee"/>
<rect x="247.10" y="257.53" width="1.20" height="2.43" fill="#5cc6ee"/>
<line x1="43.20" y1="260.26" x2="252.60" y2="260.26" stroke="#3a3a3a" stroke-width="0.55" />
<rect x="48.20" y="260.56" width="1.20" height="2.43" fill="#14a38b"/>
<rect x="54.50" y="260.56" width="1.20" height="2.43" fill="#14a38b"/>
<rect x="70.70" y="260.56" width="1.20" height="2.43" fill="#14a38b"/>
<rect x="72.50" y="260.56" width="1.20" height="2.43" fill="#14a38b"/>
<rect x="88.70" y="260.56" width="1.20" height="2.43" fill="#14a38b"/>
<rect x="108.50" y="260.56" width="1.20" height="2.43" fill="#14a38b"/>
<rect x="109.40" y="260.56" width="1.20" height="2.43" fill="#14a38b"/>
<rect x="110.30" y="260.56" width="1.20" height="2.43" fill="#14a38b"/>
<rect x="111.20" y="260.56" width="1.20" height="2.43" fill="#14a38b"/>
<rect x="112.10" y="260.56" width="1.20" height="2.43" fill="#14a38b"/>
<rect x="113.00" y="260.56" width="1.20" height="2.43" fill="#14a38b"/>
<rect x="113.90" y="260.56" width="1.20" height="2.43" fill="#14a38b"/>
<rect x="115.70" y="260.56" width="1.20" height="2.43" fill="#14a38b"/>
<rect x="116.60" y="260.56" width="1.20" height="2.43" fill="#14a38b"/>
<rect x="117.50" y="260.56" width="1.20" height="2.43" fill="#14a38b"/>
<rect x="146.30" y="260.56" width="1.20" height="2.43" fill="#14a38b"/>
<rect x="163.40" y="260.56" width="1.20" height="2.43" fill="#14a38b"/>
<rect x="164.30" y="260.56" width="1.20" height="2.43" fill="#14a38b"/>
<rect x="168.80" y="260.56" width="1.20" height="2.43" fill="#14a38b"/>
<rect x="169.70" y="260.56" width="1.20" height="2.43" fill="#14a38b"/>
<rect x="171.50" y="260.56" width="1.20" height="2.43" fill="#14a38b"/>
<rect x="172.40" y="260.56" width="1.20" height="2.43" fill="#14a38b"/>
<rect x="175.10" y="260.56" width="1.20" height="2.43" fill="#14a38b"/>
<rect x="176.90" y="260.56" width="1.20" height="2.43" fill="#14a38b"/>
<rect x="182.30" y="260.56" width="1.20" height="2.43" fill="#14a38b"/>
<rect x="198.50" y="260.56" width="1.20" height="2.43" fill="#14a38b"/>
<rect x="204.80" y="260.56" width="1.20" height="2.43" fill="#14a38b"/>
<rect x="206.60" y="260.56" width="1.20" height="2.43" fill="#14a38b"/>
<rect x="207.50" y="260.56" width="1.20" height="2.43" fill="#14a38b"/>
<rect x="208.40" y="260.56" width="1.20" height="2.43" fill="#14a38b"/>
<rect x="209.30" y="260.56" width="1.20" height="2.43" fill="#14a38b"/>
<rect x="210.20" y="260.56" width="1.20" height="2.43" fill="#14a38b"/>
<rect x="212.90" y="260.56" width="1.20" height="2.43" fill="#14a38b"/>
<rect x="214.70" y="260.56" width="1.20" height="2.43" fill="#14a38b"/>
<rect x="215.60" y="260.56" width="1.20" height="2.43" fill="#14a38b"/>
<rect x="217.40" y="260.56" width="1.20" height="2.43" fill="#14a38b"/>
<rect x="234.50" y="260.56" width="1.20" height="2.43" fill="#14a38b"/>
<rect x="236.30" y="260.56" width="1.20" height="2.43" fill="#14a38b"/>
<rect x="238.10" y="260.56" width="1.20" height="2.43" fill="#14a38b"/>
<rect x="239.00" y="260.56" width="1.20" height="2.43" fill="#14a38b"/>
<rect x="239.90" y="260.56" width="1.20" height="2.43" fill="#14a38b"/>
<rect x="240.80" y="260.56" width="1.20" height="2.43" fill="#14a38b"/>
<rect x="241.70" y="260.56" width="1.20" height="2.43" fill="#14a38b"/>
<rect x="243.50" y="260.56" width="1.20" height="2.43" fill="#14a38b"/>
<rect x="246.20" y="260.56" width="1.20" height="2.43" fill="#14a38b"/>
<rect x="247.10" y="260.56" width="1.20" height="2.43" fill="#14a38b"/>
<line x1="43.20" y1="263.29" x2="252.60" y2="263.29" stroke="#3a3a3a" stroke-width="0.55" />
<rect x="49.10" y="263.59" width="1.20" height="2.43" fill="#2e4596"/>
<rect x="86.90" y="263.59" width="1.20" height="2.43" fill="#2e4596"/>
<rect x="96.80" y="263.59" width="1.20" height="2.43" fill="#2e4596"/>
<rect x="97.70" y="263.59" width="1.20" height="2.43" fill="#2e4596"/>
<rect x="104.00" y="263.59" width="1.20" height="2.43" fill="#2e4596"/>
<rect x="120.20" y="263.59" width="1.20" height="2.43" fill="#2e4596"/>
<rect x="121.10" y="263.59" width="1.20" height="2.43" fill="#2e4596"/>
<rect x="160.70" y="263.59" width="1.20" height="2.43" fill="#2e4596"/>
<rect x="161.60" y="263.59" width="1.20" height="2.43" fill="#2e4596"/>
<rect x="162.50" y="263.59" width="1.20" height="2.43" fill="#2e4596"/>
<rect x="176.90" y="263.59" width="1.20" height="2.43" fill="#2e4596"/>
<rect x="178.70" y="263.59" width="1.20" height="2.43" fill="#2e4596"/>
<rect x="181.40" y="263.59" width="1.20" height="2.43" fill="#2e4596"/>
<rect x="215.60" y="263.59" width="1.20" height="2.43" fill="#2e4596"/>
<rect x="216.50" y="263.59" width="1.20" height="2.43" fill="#2e4596"/>
<rect x="219.20" y="263.59" width="1.20" height="2.43" fill="#2e4596"/>
<rect x="220.10" y="263.59" width="1.20" height="2.43" fill="#2e4596"/>
<rect x="221.00" y="263.59" width="1.20" height="2.43" fill="#2e4596"/>
<rect x="222.80" y="263.59" width="1.20" height="2.43" fill="#2e4596"/>
<rect x="237.20" y="263.59" width="1.20" height="2.43" fill="#2e4596"/>
<rect x="238.10" y="263.59" width="1.20" height="2.43" fill="#2e4596"/>
<rect x="239.00" y="263.59" width="1.20" height="2.43" fill="#2e4596"/>
<rect x="239.90" y="263.59" width="1.20" height="2.43" fill="#2e4596"/>
<rect x="241.70" y="263.59" width="1.20" height="2.43" fill="#2e4596"/>
<rect x="242.60" y="263.59" width="1.20" height="2.43" fill="#2e4596"/>
<rect x="243.50" y="263.59" width="1.20" height="2.43" fill="#2e4596"/>
<rect x="245.30" y="263.59" width="1.20" height="2.43" fill="#2e4596"/>
<rect x="246.20" y="263.59" width="1.20" height="2.43" fill="#2e4596"/>
<rect x="247.10" y="263.59" width="1.20" height="2.43" fill="#2e4596"/>
<line x1="43.20" y1="266.32" x2="252.60" y2="266.32" stroke="#3a3a3a" stroke-width="0.55" />
<rect x="48.20" y="266.62" width="1.20" height="2.43" fill="#f5906a"/>
<rect x="50.90" y="266.62" width="1.20" height="2.43" fill="#f5906a"/>
<rect x="51.80" y="266.62" width="1.20" height="2.43" fill="#f5906a"/>
<rect x="57.20" y="266.62" width="1.20" height="2.43" fill="#f5906a"/>
<rect x="61.70" y="266.62" width="1.20" height="2.43" fill="#f5906a"/>
<rect x="77.00" y="266.62" width="1.20" height="2.43" fill="#f5906a"/>
<rect x="79.70" y="266.62" width="1.20" height="2.43" fill="#f5906a"/>
<rect x="96.80" y="266.62" width="1.20" height="2.43" fill="#f5906a"/>
<rect x="112.10" y="266.62" width="1.20" height="2.43" fill="#f5906a"/>
<rect x="125.60" y="266.62" width="1.20" height="2.43" fill="#f5906a"/>
<rect x="129.20" y="266.62" width="1.20" height="2.43" fill="#f5906a"/>
<rect x="132.80" y="266.62" width="1.20" height="2.43" fill="#f5906a"/>
<rect x="158.00" y="266.62" width="1.20" height="2.43" fill="#f5906a"/>
<rect x="163.40" y="266.62" width="1.20" height="2.43" fill="#f5906a"/>
<rect x="173.30" y="266.62" width="1.20" height="2.43" fill="#f5906a"/>
<rect x="184.10" y="266.62" width="1.20" height="2.43" fill="#f5906a"/>
<rect x="190.40" y="266.62" width="1.20" height="2.43" fill="#f5906a"/>
<rect x="196.70" y="266.62" width="1.20" height="2.43" fill="#f5906a"/>
<rect x="200.30" y="266.62" width="1.20" height="2.43" fill="#f5906a"/>
<rect x="207.50" y="266.62" width="1.20" height="2.43" fill="#f5906a"/>
<rect x="236.30" y="266.62" width="1.20" height="2.43" fill="#f5906a"/>
<rect x="237.20" y="266.62" width="1.20" height="2.43" fill="#f5906a"/>
<rect x="239.90" y="266.62" width="1.20" height="2.43" fill="#f5906a"/>
<rect x="240.80" y="266.62" width="1.20" height="2.43" fill="#f5906a"/>
<rect x="241.70" y="266.62" width="1.20" height="2.43" fill="#f5906a"/>
<rect x="242.60" y="266.62" width="1.20" height="2.43" fill="#f5906a"/>
<rect x="243.50" y="266.62" width="1.20" height="2.43" fill="#f5906a"/>
<rect x="244.40" y="266.62" width="1.20" height="2.43" fill="#f5906a"/>
<rect x="245.30" y="266.62" width="1.20" height="2.43" fill="#f5906a"/>
<rect x="246.20" y="266.62" width="1.20" height="2.43" fill="#f5906a"/>
<rect x="247.10" y="266.62" width="1.20" height="2.43" fill="#f5906a"/>
<line x1="43.20" y1="269.35" x2="252.60" y2="269.35" stroke="#3a3a3a" stroke-width="0.55" />
<rect x="48.20" y="269.65" width="1.20" height="2.43" fill="#7080c4"/>
<rect x="55.40" y="269.65" width="1.20" height="2.43" fill="#7080c4"/>
<rect x="97.70" y="269.65" width="1.20" height="2.43" fill="#7080c4"/>
<rect x="132.80" y="269.65" width="1.20" height="2.43" fill="#7080c4"/>
<rect x="166.10" y="269.65" width="1.20" height="2.43" fill="#7080c4"/>
<rect x="176.00" y="269.65" width="1.20" height="2.43" fill="#7080c4"/>
<rect x="176.90" y="269.65" width="1.20" height="2.43" fill="#7080c4"/>
<rect x="178.70" y="269.65" width="1.20" height="2.43" fill="#7080c4"/>
<rect x="182.30" y="269.65" width="1.20" height="2.43" fill="#7080c4"/>
<rect x="183.20" y="269.65" width="1.20" height="2.43" fill="#7080c4"/>
<rect x="204.80" y="269.65" width="1.20" height="2.43" fill="#7080c4"/>
<rect x="205.70" y="269.65" width="1.20" height="2.43" fill="#7080c4"/>
<rect x="206.60" y="269.65" width="1.20" height="2.43" fill="#7080c4"/>
<rect x="209.30" y="269.65" width="1.20" height="2.43" fill="#7080c4"/>
<rect x="210.20" y="269.65" width="1.20" height="2.43" fill="#7080c4"/>
<rect x="212.90" y="269.65" width="1.20" height="2.43" fill="#7080c4"/>
<rect x="215.60" y="269.65" width="1.20" height="2.43" fill="#7080c4"/>
<rect x="220.10" y="269.65" width="1.20" height="2.43" fill="#7080c4"/>
<rect x="235.40" y="269.65" width="1.20" height="2.43" fill="#7080c4"/>
<rect x="236.30" y="269.65" width="1.20" height="2.43" fill="#7080c4"/>
<rect x="237.20" y="269.65" width="1.20" height="2.43" fill="#7080c4"/>
<rect x="238.10" y="269.65" width="1.20" height="2.43" fill="#7080c4"/>
<rect x="239.90" y="269.65" width="1.20" height="2.43" fill="#7080c4"/>
<rect x="241.70" y="269.65" width="1.20" height="2.43" fill="#7080c4"/>
<rect x="242.60" y="269.65" width="1.20" height="2.43" fill="#7080c4"/>
<rect x="244.40" y="269.65" width="1.20" height="2.43" fill="#7080c4"/>
<rect x="246.20" y="269.65" width="1.20" height="2.43" fill="#7080c4"/>
<rect x="247.10" y="269.65" width="1.20" height="2.43" fill="#7080c4"/>
<line x1="43.20" y1="272.38" x2="252.60" y2="272.38" stroke="#3a3a3a" stroke-width="0.55" />
<rect x="48.20" y="272.68" width="1.20" height="2.43" fill="#8fd6cf"/>
<rect x="49.10" y="272.68" width="1.20" height="2.43" fill="#8fd6cf"/>
<rect x="50.90" y="272.68" width="1.20" height="2.43" fill="#8fd6cf"/>
<rect x="51.80" y="272.68" width="1.20" height="2.43" fill="#8fd6cf"/>
<rect x="52.70" y="272.68" width="1.20" height="2.43" fill="#8fd6cf"/>
<rect x="53.60" y="272.68" width="1.20" height="2.43" fill="#8fd6cf"/>
<rect x="54.50" y="272.68" width="1.20" height="2.43" fill="#8fd6cf"/>
<rect x="56.30" y="272.68" width="1.20" height="2.43" fill="#8fd6cf"/>
<rect x="58.10" y="272.68" width="1.20" height="2.43" fill="#8fd6cf"/>
<rect x="59.00" y="272.68" width="1.20" height="2.43" fill="#8fd6cf"/>
<rect x="59.90" y="272.68" width="1.20" height="2.43" fill="#8fd6cf"/>
<rect x="60.80" y="272.68" width="1.20" height="2.43" fill="#8fd6cf"/>
<rect x="63.50" y="272.68" width="1.20" height="2.43" fill="#8fd6cf"/>
<rect x="66.20" y="272.68" width="1.20" height="2.43" fill="#8fd6cf"/>
<rect x="67.10" y="272.68" width="1.20" height="2.43" fill="#8fd6cf"/>
<rect x="68.90" y="272.68" width="1.20" height="2.43" fill="#8fd6cf"/>
<rect x="70.70" y="272.68" width="1.20" height="2.43" fill="#8fd6cf"/>
<rect x="71.60" y="272.68" width="1.20" height="2.43" fill="#8fd6cf"/>
<rect x="73.40" y="272.68" width="1.20" height="2.43" fill="#8fd6cf"/>
<rect x="74.30" y="272.68" width="1.20" height="2.43" fill="#8fd6cf"/>
<rect x="76.10" y="272.68" width="1.20" height="2.43" fill="#8fd6cf"/>
<rect x="77.90" y="272.68" width="1.20" height="2.43" fill="#8fd6cf"/>
<rect x="78.80" y="272.68" width="1.20" height="2.43" fill="#8fd6cf"/>
<rect x="79.70" y="272.68" width="1.20" height="2.43" fill="#8fd6cf"/>
<rect x="80.60" y="272.68" width="1.20" height="2.43" fill="#8fd6cf"/>
<rect x="82.40" y="272.68" width="1.20" height="2.43" fill="#8fd6cf"/>
<rect x="83.30" y="272.68" width="1.20" height="2.43" fill="#8fd6cf"/>
<rect x="84.20" y="272.68" width="1.20" height="2.43" fill="#8fd6cf"/>
<rect x="85.10" y="272.68" width="1.20" height="2.43" fill="#8fd6cf"/>
<rect x="86.00" y="272.68" width="1.20" height="2.43" fill="#8fd6cf"/>
<rect x="86.90" y="272.68" width="1.20" height="2.43" fill="#8fd6cf"/>
<rect x="87.80" y="272.68" width="1.20" height="2.43" fill="#8fd6cf"/>
<rect x="88.70" y="272.68" width="1.20" height="2.43" fill="#8fd6cf"/>
<rect x="90.50" y="272.68" width="1.20" height="2.43" fill="#8fd6cf"/>
<rect x="91.40" y="272.68" width="1.20" height="2.43" fill="#8fd6cf"/>
<rect x="92.30" y="272.68" width="1.20" height="2.43" fill="#8fd6cf"/>
<rect x="93.20" y="272.68" width="1.20" height="2.43" fill="#8fd6cf"/>
<rect x="94.10" y="272.68" width="1.20" height="2.43" fill="#8fd6cf"/>
<rect x="95.00" y="272.68" width="1.20" height="2.43" fill="#8fd6cf"/>
<rect x="95.90" y="272.68" width="1.20" height="2.43" fill="#8fd6cf"/>
<rect x="96.80" y="272.68" width="1.20" height="2.43" fill="#8fd6cf"/>
<rect x="97.70" y="272.68" width="1.20" height="2.43" fill="#8fd6cf"/>
<rect x="98.60" y="272.68" width="1.20" height="2.43" fill="#8fd6cf"/>
<rect x="99.50" y="272.68" width="1.20" height="2.43" fill="#8fd6cf"/>
<rect x="100.40" y="272.68" width="1.20" height="2.43" fill="#8fd6cf"/>
<rect x="102.20" y="272.68" width="1.20" height="2.43" fill="#8fd6cf"/>
<rect x="103.10" y="272.68" width="1.20" height="2.43" fill="#8fd6cf"/>
<rect x="105.80" y="272.68" width="1.20" height="2.43" fill="#8fd6cf"/>
<rect x="106.70" y="272.68" width="1.20" height="2.43" fill="#8fd6cf"/>
<rect x="108.50" y="272.68" width="1.20" height="2.43" fill="#8fd6cf"/>
<rect x="110.30" y="272.68" width="1.20" height="2.43" fill="#8fd6cf"/>
<rect x="112.10" y="272.68" width="1.20" height="2.43" fill="#8fd6cf"/>
<rect x="113.00" y="272.68" width="1.20" height="2.43" fill="#8fd6cf"/>
<rect x="113.90" y="272.68" width="1.20" height="2.43" fill="#8fd6cf"/>
<rect x="114.80" y="272.68" width="1.20" height="2.43" fill="#8fd6cf"/>
<rect x="115.70" y="272.68" width="1.20" height="2.43" fill="#8fd6cf"/>
<rect x="116.60" y="272.68" width="1.20" height="2.43" fill="#8fd6cf"/>
<rect x="118.40" y="272.68" width="1.20" height="2.43" fill="#8fd6cf"/>
<rect x="119.30" y="272.68" width="1.20" height="2.43" fill="#8fd6cf"/>
<rect x="120.20" y="272.68" width="1.20" height="2.43" fill="#8fd6cf"/>
<rect x="121.10" y="272.68" width="1.20" height="2.43" fill="#8fd6cf"/>
<rect x="122.00" y="272.68" width="1.20" height="2.43" fill="#8fd6cf"/>
<rect x="123.80" y="272.68" width="1.20" height="2.43" fill="#8fd6cf"/>
<rect x="124.70" y="272.68" width="1.20" height="2.43" fill="#8fd6cf"/>
<rect x="125.60" y="272.68" width="1.20" height="2.43" fill="#8fd6cf"/>
<rect x="126.50" y="272.68" width="1.20" height="2.43" fill="#8fd6cf"/>
<rect x="128.30" y="272.68" width="1.20" height="2.43" fill="#8fd6cf"/>
<rect x="129.20" y="272.68" width="1.20" height="2.43" fill="#8fd6cf"/>
<rect x="130.10" y="272.68" width="1.20" height="2.43" fill="#8fd6cf"/>
<rect x="131.00" y="272.68" width="1.20" height="2.43" fill="#8fd6cf"/>
<rect x="131.90" y="272.68" width="1.20" height="2.43" fill="#8fd6cf"/>
<rect x="132.80" y="272.68" width="1.20" height="2.43" fill="#8fd6cf"/>
<rect x="133.70" y="272.68" width="1.20" height="2.43" fill="#8fd6cf"/>
<rect x="135.50" y="272.68" width="1.20" height="2.43" fill="#8fd6cf"/>
<rect x="136.40" y="272.68" width="1.20" height="2.43" fill="#8fd6cf"/>
<rect x="137.30" y="272.68" width="1.20" height="2.43" fill="#8fd6cf"/>
<rect x="138.20" y="272.68" width="1.20" height="2.43" fill="#8fd6cf"/>
<rect x="139.10" y="272.68" width="1.20" height="2.43" fill="#8fd6cf"/>
<rect x="140.00" y="272.68" width="1.20" height="2.43" fill="#8fd6cf"/>
<rect x="140.90" y="272.68" width="1.20" height="2.43" fill="#8fd6cf"/>
<rect x="141.80" y="272.68" width="1.20" height="2.43" fill="#8fd6cf"/>
<rect x="142.70" y="272.68" width="1.20" height="2.43" fill="#8fd6cf"/>
<rect x="143.60" y="272.68" width="1.20" height="2.43" fill="#8fd6cf"/>
<rect x="144.50" y="272.68" width="1.20" height="2.43" fill="#8fd6cf"/>
<rect x="146.30" y="272.68" width="1.20" height="2.43" fill="#8fd6cf"/>
<rect x="147.20" y="272.68" width="1.20" height="2.43" fill="#8fd6cf"/>
<rect x="151.70" y="272.68" width="1.20" height="2.43" fill="#8fd6cf"/>
<rect x="152.60" y="272.68" width="1.20" height="2.43" fill="#8fd6cf"/>
<rect x="153.50" y="272.68" width="1.20" height="2.43" fill="#8fd6cf"/>
<rect x="154.40" y="272.68" width="1.20" height="2.43" fill="#8fd6cf"/>
<rect x="155.30" y="272.68" width="1.20" height="2.43" fill="#8fd6cf"/>
<rect x="156.20" y="272.68" width="1.20" height="2.43" fill="#8fd6cf"/>
<rect x="157.10" y="272.68" width="1.20" height="2.43" fill="#8fd6cf"/>
<rect x="158.00" y="272.68" width="1.20" height="2.43" fill="#8fd6cf"/>
<rect x="158.90" y="272.68" width="1.20" height="2.43" fill="#8fd6cf"/>
<rect x="159.80" y="272.68" width="1.20" height="2.43" fill="#8fd6cf"/>
<rect x="161.60" y="272.68" width="1.20" height="2.43" fill="#8fd6cf"/>
<rect x="162.50" y="272.68" width="1.20" height="2.43" fill="#8fd6cf"/>
<rect x="163.40" y="272.68" width="1.20" height="2.43" fill="#8fd6cf"/>
<rect x="164.30" y="272.68" width="1.20" height="2.43" fill="#8fd6cf"/>
<rect x="167.00" y="272.68" width="1.20" height="2.43" fill="#8fd6cf"/>
<rect x="167.90" y="272.68" width="1.20" height="2.43" fill="#8fd6cf"/>
<rect x="168.80" y="272.68" width="1.20" height="2.43" fill="#8fd6cf"/>
<rect x="169.70" y="272.68" width="1.20" height="2.43" fill="#8fd6cf"/>
<rect x="170.60" y="272.68" width="1.20" height="2.43" fill="#8fd6cf"/>
<rect x="171.50" y="272.68" width="1.20" height="2.43" fill="#8fd6cf"/>
<rect x="172.40" y="272.68" width="1.20" height="2.43" fill="#8fd6cf"/>
<rect x="173.30" y="272.68" width="1.20" height="2.43" fill="#8fd6cf"/>
<rect x="174.20" y="272.68" width="1.20" height="2.43" fill="#8fd6cf"/>
<rect x="175.10" y="272.68" width="1.20" height="2.43" fill="#8fd6cf"/>
<rect x="176.00" y="272.68" width="1.20" height="2.43" fill="#8fd6cf"/>
<rect x="177.80" y="272.68" width="1.20" height="2.43" fill="#8fd6cf"/>
<rect x="179.60" y="272.68" width="1.20" height="2.43" fill="#8fd6cf"/>
<rect x="180.50" y="272.68" width="1.20" height="2.43" fill="#8fd6cf"/>
<rect x="181.40" y="272.68" width="1.20" height="2.43" fill="#8fd6cf"/>
<rect x="182.30" y="272.68" width="1.20" height="2.43" fill="#8fd6cf"/>
<rect x="183.20" y="272.68" width="1.20" height="2.43" fill="#8fd6cf"/>
<rect x="185.90" y="272.68" width="1.20" height="2.43" fill="#8fd6cf"/>
<rect x="186.80" y="272.68" width="1.20" height="2.43" fill="#8fd6cf"/>
<rect x="188.60" y="272.68" width="1.20" height="2.43" fill="#8fd6cf"/>
<rect x="189.50" y="272.68" width="1.20" height="2.43" fill="#8fd6cf"/>
<rect x="190.40" y="272.68" width="1.20" height="2.43" fill="#8fd6cf"/>
<rect x="191.30" y="272.68" width="1.20" height="2.43" fill="#8fd6cf"/>
<rect x="193.10" y="272.68" width="1.20" height="2.43" fill="#8fd6cf"/>
<rect x="195.80" y="272.68" width="1.20" height="2.43" fill="#8fd6cf"/>
<rect x="196.70" y="272.68" width="1.20" height="2.43" fill="#8fd6cf"/>
<rect x="197.60" y="272.68" width="1.20" height="2.43" fill="#8fd6cf"/>
<rect x="201.20" y="272.68" width="1.20" height="2.43" fill="#8fd6cf"/>
<rect x="203.00" y="272.68" width="1.20" height="2.43" fill="#8fd6cf"/>
<rect x="207.50" y="272.68" width="1.20" height="2.43" fill="#8fd6cf"/>
<rect x="208.40" y="272.68" width="1.20" height="2.43" fill="#8fd6cf"/>
<rect x="209.30" y="272.68" width="1.20" height="2.43" fill="#8fd6cf"/>
<rect x="211.10" y="272.68" width="1.20" height="2.43" fill="#8fd6cf"/>
<rect x="212.00" y="272.68" width="1.20" height="2.43" fill="#8fd6cf"/>
<rect x="213.80" y="272.68" width="1.20" height="2.43" fill="#8fd6cf"/>
<rect x="215.60" y="272.68" width="1.20" height="2.43" fill="#8fd6cf"/>
<rect x="218.30" y="272.68" width="1.20" height="2.43" fill="#8fd6cf"/>
<rect x="219.20" y="272.68" width="1.20" height="2.43" fill="#8fd6cf"/>
<rect x="221.00" y="272.68" width="1.20" height="2.43" fill="#8fd6cf"/>
<rect x="221.90" y="272.68" width="1.20" height="2.43" fill="#8fd6cf"/>
<rect x="222.80" y="272.68" width="1.20" height="2.43" fill="#8fd6cf"/>
<rect x="223.70" y="272.68" width="1.20" height="2.43" fill="#8fd6cf"/>
<rect x="224.60" y="272.68" width="1.20" height="2.43" fill="#8fd6cf"/>
<rect x="225.50" y="272.68" width="1.20" height="2.43" fill="#8fd6cf"/>
<rect x="226.40" y="272.68" width="1.20" height="2.43" fill="#8fd6cf"/>
<rect x="227.30" y="272.68" width="1.20" height="2.43" fill="#8fd6cf"/>
<rect x="228.20" y="272.68" width="1.20" height="2.43" fill="#8fd6cf"/>
<rect x="230.90" y="272.68" width="1.20" height="2.43" fill="#8fd6cf"/>
<rect x="231.80" y="272.68" width="1.20" height="2.43" fill="#8fd6cf"/>
<rect x="232.70" y="272.68" width="1.20" height="2.43" fill="#8fd6cf"/>
<rect x="233.60" y="272.68" width="1.20" height="2.43" fill="#8fd6cf"/>
<rect x="235.40" y="272.68" width="1.20" height="2.43" fill="#8fd6cf"/>
<rect x="236.30" y="272.68" width="1.20" height="2.43" fill="#8fd6cf"/>
<rect x="238.10" y="272.68" width="1.20" height="2.43" fill="#8fd6cf"/>
<rect x="239.00" y="272.68" width="1.20" height="2.43" fill="#8fd6cf"/>
<rect x="239.90" y="272.68" width="1.20" height="2.43" fill="#8fd6cf"/>
<rect x="241.70" y="272.68" width="1.20" height="2.43" fill="#8fd6cf"/>
<rect x="243.50" y="272.68" width="1.20" height="2.43" fill="#8fd6cf"/>
<rect x="245.30" y="272.68" width="1.20" height="2.43" fill="#8fd6cf"/>
<rect x="246.20" y="272.68" width="1.20" height="2.43" fill="#8fd6cf"/>
<line x1="43.20" y1="275.41" x2="252.60" y2="275.41" stroke="#3a3a3a" stroke-width="0.55" />
<rect x="49.10" y="275.71" width="1.20" height="2.43" fill="#e8242b"/>
<rect x="50.00" y="275.71" width="1.20" height="2.43" fill="#e8242b"/>
<rect x="50.90" y="275.71" width="1.20" height="2.43" fill="#e8242b"/>
<rect x="51.80" y="275.71" width="1.20" height="2.43" fill="#e8242b"/>
<rect x="62.60" y="275.71" width="1.20" height="2.43" fill="#e8242b"/>
<rect x="68.90" y="275.71" width="1.20" height="2.43" fill="#e8242b"/>
<rect x="69.80" y="275.71" width="1.20" height="2.43" fill="#e8242b"/>
<rect x="70.70" y="275.71" width="1.20" height="2.43" fill="#e8242b"/>
<rect x="71.60" y="275.71" width="1.20" height="2.43" fill="#e8242b"/>
<rect x="72.50" y="275.71" width="1.20" height="2.43" fill="#e8242b"/>
<rect x="73.40" y="275.71" width="1.20" height="2.43" fill="#e8242b"/>
<rect x="81.50" y="275.71" width="1.20" height="2.43" fill="#e8242b"/>
<rect x="84.20" y="275.71" width="1.20" height="2.43" fill="#e8242b"/>
<rect x="85.10" y="275.71" width="1.20" height="2.43" fill="#e8242b"/>
<rect x="86.00" y="275.71" width="1.20" height="2.43" fill="#e8242b"/>
<rect x="88.70" y="275.71" width="1.20" height="2.43" fill="#e8242b"/>
<rect x="100.40" y="275.71" width="1.20" height="2.43" fill="#e8242b"/>
<rect x="108.50" y="275.71" width="1.20" height="2.43" fill="#e8242b"/>
<rect x="109.40" y="275.71" width="1.20" height="2.43" fill="#e8242b"/>
<rect x="110.30" y="275.71" width="1.20" height="2.43" fill="#e8242b"/>
<rect x="111.20" y="275.71" width="1.20" height="2.43" fill="#e8242b"/>
<rect x="112.10" y="275.71" width="1.20" height="2.43" fill="#e8242b"/>
<rect x="113.00" y="275.71" width="1.20" height="2.43" fill="#e8242b"/>
<rect x="113.90" y="275.71" width="1.20" height="2.43" fill="#e8242b"/>
<rect x="115.70" y="275.71" width="1.20" height="2.43" fill="#e8242b"/>
<rect x="116.60" y="275.71" width="1.20" height="2.43" fill="#e8242b"/>
<rect x="117.50" y="275.71" width="1.20" height="2.43" fill="#e8242b"/>
<rect x="118.40" y="275.71" width="1.20" height="2.43" fill="#e8242b"/>
<rect x="119.30" y="275.71" width="1.20" height="2.43" fill="#e8242b"/>
<rect x="120.20" y="275.71" width="1.20" height="2.43" fill="#e8242b"/>
<rect x="123.80" y="275.71" width="1.20" height="2.43" fill="#e8242b"/>
<rect x="124.70" y="275.71" width="1.20" height="2.43" fill="#e8242b"/>
<rect x="125.60" y="275.71" width="1.20" height="2.43" fill="#e8242b"/>
<rect x="126.50" y="275.71" width="1.20" height="2.43" fill="#e8242b"/>
<rect x="127.40" y="275.71" width="1.20" height="2.43" fill="#e8242b"/>
<rect x="128.30" y="275.71" width="1.20" height="2.43" fill="#e8242b"/>
<rect x="129.20" y="275.71" width="1.20" height="2.43" fill="#e8242b"/>
<rect x="130.10" y="275.71" width="1.20" height="2.43" fill="#e8242b"/>
<rect x="132.80" y="275.71" width="1.20" height="2.43" fill="#e8242b"/>
<rect x="133.70" y="275.71" width="1.20" height="2.43" fill="#e8242b"/>
<rect x="134.60" y="275.71" width="1.20" height="2.43" fill="#e8242b"/>
<rect x="135.50" y="275.71" width="1.20" height="2.43" fill="#e8242b"/>
<rect x="136.40" y="275.71" width="1.20" height="2.43" fill="#e8242b"/>
<rect x="137.30" y="275.71" width="1.20" height="2.43" fill="#e8242b"/>
<rect x="138.20" y="275.71" width="1.20" height="2.43" fill="#e8242b"/>
<rect x="139.10" y="275.71" width="1.20" height="2.43" fill="#e8242b"/>
<rect x="140.00" y="275.71" width="1.20" height="2.43" fill="#e8242b"/>
<rect x="148.10" y="275.71" width="1.20" height="2.43" fill="#e8242b"/>
<rect x="149.00" y="275.71" width="1.20" height="2.43" fill="#e8242b"/>
<rect x="149.90" y="275.71" width="1.20" height="2.43" fill="#e8242b"/>
<rect x="150.80" y="275.71" width="1.20" height="2.43" fill="#e8242b"/>
<rect x="152.60" y="275.71" width="1.20" height="2.43" fill="#e8242b"/>
<rect x="153.50" y="275.71" width="1.20" height="2.43" fill="#e8242b"/>
<rect x="154.40" y="275.71" width="1.20" height="2.43" fill="#e8242b"/>
<rect x="155.30" y="275.71" width="1.20" height="2.43" fill="#e8242b"/>
<rect x="157.10" y="275.71" width="1.20" height="2.43" fill="#e8242b"/>
<rect x="158.00" y="275.71" width="1.20" height="2.43" fill="#e8242b"/>
<rect x="158.90" y="275.71" width="1.20" height="2.43" fill="#e8242b"/>
<rect x="159.80" y="275.71" width="1.20" height="2.43" fill="#e8242b"/>
<rect x="160.70" y="275.71" width="1.20" height="2.43" fill="#e8242b"/>
<rect x="161.60" y="275.71" width="1.20" height="2.43" fill="#e8242b"/>
<rect x="162.50" y="275.71" width="1.20" height="2.43" fill="#e8242b"/>
<rect x="163.40" y="275.71" width="1.20" height="2.43" fill="#e8242b"/>
<rect x="164.30" y="275.71" width="1.20" height="2.43" fill="#e8242b"/>
<rect x="165.20" y="275.71" width="1.20" height="2.43" fill="#e8242b"/>
<rect x="166.10" y="275.71" width="1.20" height="2.43" fill="#e8242b"/>
<rect x="167.00" y="275.71" width="1.20" height="2.43" fill="#e8242b"/>
<rect x="167.90" y="275.71" width="1.20" height="2.43" fill="#e8242b"/>
<rect x="168.80" y="275.71" width="1.20" height="2.43" fill="#e8242b"/>
<rect x="170.60" y="275.71" width="1.20" height="2.43" fill="#e8242b"/>
<rect x="171.50" y="275.71" width="1.20" height="2.43" fill="#e8242b"/>
<rect x="173.30" y="275.71" width="1.20" height="2.43" fill="#e8242b"/>
<rect x="174.20" y="275.71" width="1.20" height="2.43" fill="#e8242b"/>
<rect x="175.10" y="275.71" width="1.20" height="2.43" fill="#e8242b"/>
<rect x="176.00" y="275.71" width="1.20" height="2.43" fill="#e8242b"/>
<rect x="176.90" y="275.71" width="1.20" height="2.43" fill="#e8242b"/>
<rect x="177.80" y="275.71" width="1.20" height="2.43" fill="#e8242b"/>
<rect x="178.70" y="275.71" width="1.20" height="2.43" fill="#e8242b"/>
<rect x="179.60" y="275.71" width="1.20" height="2.43" fill="#e8242b"/>
<rect x="193.10" y="275.71" width="1.20" height="2.43" fill="#e8242b"/>
<rect x="194.90" y="275.71" width="1.20" height="2.43" fill="#e8242b"/>
<rect x="195.80" y="275.71" width="1.20" height="2.43" fill="#e8242b"/>
<rect x="197.60" y="275.71" width="1.20" height="2.43" fill="#e8242b"/>
<rect x="199.40" y="275.71" width="1.20" height="2.43" fill="#e8242b"/>
<rect x="203.90" y="275.71" width="1.20" height="2.43" fill="#e8242b"/>
<rect x="214.70" y="275.71" width="1.20" height="2.43" fill="#e8242b"/>
<rect x="216.50" y="275.71" width="1.20" height="2.43" fill="#e8242b"/>
<rect x="224.60" y="275.71" width="1.20" height="2.43" fill="#e8242b"/>
<rect x="225.50" y="275.71" width="1.20" height="2.43" fill="#e8242b"/>
<rect x="226.40" y="275.71" width="1.20" height="2.43" fill="#e8242b"/>
<rect x="227.30" y="275.71" width="1.20" height="2.43" fill="#e8242b"/>
<rect x="229.10" y="275.71" width="1.20" height="2.43" fill="#e8242b"/>
<rect x="231.80" y="275.71" width="1.20" height="2.43" fill="#e8242b"/>
<rect x="232.70" y="275.71" width="1.20" height="2.43" fill="#e8242b"/>
<rect x="233.60" y="275.71" width="1.20" height="2.43" fill="#e8242b"/>
<rect x="237.20" y="275.71" width="1.20" height="2.43" fill="#e8242b"/>
<rect x="238.10" y="275.71" width="1.20" height="2.43" fill="#e8242b"/>
<rect x="239.90" y="275.71" width="1.20" height="2.43" fill="#e8242b"/>
<rect x="240.80" y="275.71" width="1.20" height="2.43" fill="#e8242b"/>
<rect x="241.70" y="275.71" width="1.20" height="2.43" fill="#e8242b"/>
<rect x="243.50" y="275.71" width="1.20" height="2.43" fill="#e8242b"/>
<rect x="244.40" y="275.71" width="1.20" height="2.43" fill="#e8242b"/>
<rect x="246.20" y="275.71" width="1.20" height="2.43" fill="#e8242b"/>
<line x1="43.20" y1="278.44" x2="252.60" y2="278.44" stroke="#3a3a3a" stroke-width="0.55" />
<rect x="50.00" y="278.74" width="1.20" height="2.43" fill="#8a6a55"/>
<rect x="50.90" y="278.74" width="1.20" height="2.43" fill="#8a6a55"/>
<rect x="51.80" y="278.74" width="1.20" height="2.43" fill="#8a6a55"/>
<rect x="55.40" y="278.74" width="1.20" height="2.43" fill="#8a6a55"/>
<rect x="60.80" y="278.74" width="1.20" height="2.43" fill="#8a6a55"/>
<rect x="76.10" y="278.74" width="1.20" height="2.43" fill="#8a6a55"/>
<rect x="78.80" y="278.74" width="1.20" height="2.43" fill="#8a6a55"/>
<rect x="91.40" y="278.74" width="1.20" height="2.43" fill="#8a6a55"/>
<rect x="118.40" y="278.74" width="1.20" height="2.43" fill="#8a6a55"/>
<rect x="119.30" y="278.74" width="1.20" height="2.43" fill="#8a6a55"/>
<rect x="145.40" y="278.74" width="1.20" height="2.43" fill="#8a6a55"/>
<rect x="181.40" y="278.74" width="1.20" height="2.43" fill="#8a6a55"/>
<rect x="212.00" y="278.74" width="1.20" height="2.43" fill="#8a6a55"/>
<rect x="220.10" y="278.74" width="1.20" height="2.43" fill="#8a6a55"/>
<rect x="230.90" y="278.74" width="1.20" height="2.43" fill="#8a6a55"/>
<rect x="231.80" y="278.74" width="1.20" height="2.43" fill="#8a6a55"/>
<rect x="233.60" y="278.74" width="1.20" height="2.43" fill="#8a6a55"/>
<line x1="43.20" y1="281.47" x2="252.60" y2="281.47" stroke="#3a3a3a" stroke-width="0.55" />
<rect x="49.10" y="281.77" width="1.20" height="2.43" fill="#c19a72"/>
<rect x="52.70" y="281.77" width="1.20" height="2.43" fill="#c19a72"/>
<rect x="53.60" y="281.77" width="1.20" height="2.43" fill="#c19a72"/>
<rect x="54.50" y="281.77" width="1.20" height="2.43" fill="#c19a72"/>
<rect x="55.40" y="281.77" width="1.20" height="2.43" fill="#c19a72"/>
<rect x="56.30" y="281.77" width="1.20" height="2.43" fill="#c19a72"/>
<rect x="57.20" y="281.77" width="1.20" height="2.43" fill="#c19a72"/>
<rect x="59.90" y="281.77" width="1.20" height="2.43" fill="#c19a72"/>
<rect x="61.70" y="281.77" width="1.20" height="2.43" fill="#c19a72"/>
<rect x="63.50" y="281.77" width="1.20" height="2.43" fill="#c19a72"/>
<rect x="66.20" y="281.77" width="1.20" height="2.43" fill="#c19a72"/>
<rect x="68.90" y="281.77" width="1.20" height="2.43" fill="#c19a72"/>
<rect x="69.80" y="281.77" width="1.20" height="2.43" fill="#c19a72"/>
<rect x="70.70" y="281.77" width="1.20" height="2.43" fill="#c19a72"/>
<rect x="72.50" y="281.77" width="1.20" height="2.43" fill="#c19a72"/>
<rect x="75.20" y="281.77" width="1.20" height="2.43" fill="#c19a72"/>
<rect x="77.90" y="281.77" width="1.20" height="2.43" fill="#c19a72"/>
<rect x="79.70" y="281.77" width="1.20" height="2.43" fill="#c19a72"/>
<rect x="82.40" y="281.77" width="1.20" height="2.43" fill="#c19a72"/>
<rect x="85.10" y="281.77" width="1.20" height="2.43" fill="#c19a72"/>
<rect x="86.00" y="281.77" width="1.20" height="2.43" fill="#c19a72"/>
<rect x="86.90" y="281.77" width="1.20" height="2.43" fill="#c19a72"/>
<rect x="88.70" y="281.77" width="1.20" height="2.43" fill="#c19a72"/>
<rect x="90.50" y="281.77" width="1.20" height="2.43" fill="#c19a72"/>
<rect x="92.30" y="281.77" width="1.20" height="2.43" fill="#c19a72"/>
<rect x="93.20" y="281.77" width="1.20" height="2.43" fill="#c19a72"/>
<rect x="95.00" y="281.77" width="1.20" height="2.43" fill="#c19a72"/>
<rect x="95.90" y="281.77" width="1.20" height="2.43" fill="#c19a72"/>
<rect x="100.40" y="281.77" width="1.20" height="2.43" fill="#c19a72"/>
<rect x="101.30" y="281.77" width="1.20" height="2.43" fill="#c19a72"/>
<rect x="104.00" y="281.77" width="1.20" height="2.43" fill="#c19a72"/>
<rect x="104.90" y="281.77" width="1.20" height="2.43" fill="#c19a72"/>
<rect x="105.80" y="281.77" width="1.20" height="2.43" fill="#c19a72"/>
<rect x="106.70" y="281.77" width="1.20" height="2.43" fill="#c19a72"/>
<rect x="107.60" y="281.77" width="1.20" height="2.43" fill="#c19a72"/>
<rect x="108.50" y="281.77" width="1.20" height="2.43" fill="#c19a72"/>
<rect x="110.30" y="281.77" width="1.20" height="2.43" fill="#c19a72"/>
<rect x="112.10" y="281.77" width="1.20" height="2.43" fill="#c19a72"/>
<rect x="113.00" y="281.77" width="1.20" height="2.43" fill="#c19a72"/>
<rect x="113.90" y="281.77" width="1.20" height="2.43" fill="#c19a72"/>
<rect x="114.80" y="281.77" width="1.20" height="2.43" fill="#c19a72"/>
<rect x="115.70" y="281.77" width="1.20" height="2.43" fill="#c19a72"/>
<rect x="117.50" y="281.77" width="1.20" height="2.43" fill="#c19a72"/>
<rect x="119.30" y="281.77" width="1.20" height="2.43" fill="#c19a72"/>
<rect x="120.20" y="281.77" width="1.20" height="2.43" fill="#c19a72"/>
<rect x="121.10" y="281.77" width="1.20" height="2.43" fill="#c19a72"/>
<rect x="122.00" y="281.77" width="1.20" height="2.43" fill="#c19a72"/>
<rect x="123.80" y="281.77" width="1.20" height="2.43" fill="#c19a72"/>
<rect x="124.70" y="281.77" width="1.20" height="2.43" fill="#c19a72"/>
<rect x="128.30" y="281.77" width="1.20" height="2.43" fill="#c19a72"/>
<rect x="129.20" y="281.77" width="1.20" height="2.43" fill="#c19a72"/>
<rect x="130.10" y="281.77" width="1.20" height="2.43" fill="#c19a72"/>
<rect x="131.00" y="281.77" width="1.20" height="2.43" fill="#c19a72"/>
<rect x="131.90" y="281.77" width="1.20" height="2.43" fill="#c19a72"/>
<rect x="132.80" y="281.77" width="1.20" height="2.43" fill="#c19a72"/>
<rect x="133.70" y="281.77" width="1.20" height="2.43" fill="#c19a72"/>
<rect x="135.50" y="281.77" width="1.20" height="2.43" fill="#c19a72"/>
<rect x="136.40" y="281.77" width="1.20" height="2.43" fill="#c19a72"/>
<rect x="144.50" y="281.77" width="1.20" height="2.43" fill="#c19a72"/>
<rect x="145.40" y="281.77" width="1.20" height="2.43" fill="#c19a72"/>
<rect x="146.30" y="281.77" width="1.20" height="2.43" fill="#c19a72"/>
<rect x="148.10" y="281.77" width="1.20" height="2.43" fill="#c19a72"/>
<rect x="149.00" y="281.77" width="1.20" height="2.43" fill="#c19a72"/>
<rect x="149.90" y="281.77" width="1.20" height="2.43" fill="#c19a72"/>
<rect x="150.80" y="281.77" width="1.20" height="2.43" fill="#c19a72"/>
<rect x="152.60" y="281.77" width="1.20" height="2.43" fill="#c19a72"/>
<rect x="155.30" y="281.77" width="1.20" height="2.43" fill="#c19a72"/>
<rect x="157.10" y="281.77" width="1.20" height="2.43" fill="#c19a72"/>
<rect x="158.00" y="281.77" width="1.20" height="2.43" fill="#c19a72"/>
<rect x="158.90" y="281.77" width="1.20" height="2.43" fill="#c19a72"/>
<rect x="159.80" y="281.77" width="1.20" height="2.43" fill="#c19a72"/>
<rect x="163.40" y="281.77" width="1.20" height="2.43" fill="#c19a72"/>
<rect x="165.20" y="281.77" width="1.20" height="2.43" fill="#c19a72"/>
<rect x="167.90" y="281.77" width="1.20" height="2.43" fill="#c19a72"/>
<rect x="169.70" y="281.77" width="1.20" height="2.43" fill="#c19a72"/>
<rect x="172.40" y="281.77" width="1.20" height="2.43" fill="#c19a72"/>
<rect x="175.10" y="281.77" width="1.20" height="2.43" fill="#c19a72"/>
<rect x="177.80" y="281.77" width="1.20" height="2.43" fill="#c19a72"/>
<rect x="179.60" y="281.77" width="1.20" height="2.43" fill="#c19a72"/>
<rect x="183.20" y="281.77" width="1.20" height="2.43" fill="#c19a72"/>
<rect x="185.90" y="281.77" width="1.20" height="2.43" fill="#c19a72"/>
<rect x="187.70" y="281.77" width="1.20" height="2.43" fill="#c19a72"/>
<rect x="189.50" y="281.77" width="1.20" height="2.43" fill="#c19a72"/>
<rect x="192.20" y="281.77" width="1.20" height="2.43" fill="#c19a72"/>
<rect x="193.10" y="281.77" width="1.20" height="2.43" fill="#c19a72"/>
<rect x="194.00" y="281.77" width="1.20" height="2.43" fill="#c19a72"/>
<rect x="199.40" y="281.77" width="1.20" height="2.43" fill="#c19a72"/>
<rect x="200.30" y="281.77" width="1.20" height="2.43" fill="#c19a72"/>
<rect x="202.10" y="281.77" width="1.20" height="2.43" fill="#c19a72"/>
<rect x="206.60" y="281.77" width="1.20" height="2.43" fill="#c19a72"/>
<rect x="207.50" y="281.77" width="1.20" height="2.43" fill="#c19a72"/>
<rect x="210.20" y="281.77" width="1.20" height="2.43" fill="#c19a72"/>
<rect x="211.10" y="281.77" width="1.20" height="2.43" fill="#c19a72"/>
<rect x="212.00" y="281.77" width="1.20" height="2.43" fill="#c19a72"/>
<rect x="212.90" y="281.77" width="1.20" height="2.43" fill="#c19a72"/>
<rect x="213.80" y="281.77" width="1.20" height="2.43" fill="#c19a72"/>
<rect x="216.50" y="281.77" width="1.20" height="2.43" fill="#c19a72"/>
<rect x="217.40" y="281.77" width="1.20" height="2.43" fill="#c19a72"/>
<rect x="218.30" y="281.77" width="1.20" height="2.43" fill="#c19a72"/>
<rect x="221.00" y="281.77" width="1.20" height="2.43" fill="#c19a72"/>
<rect x="221.90" y="281.77" width="1.20" height="2.43" fill="#c19a72"/>
<rect x="224.60" y="281.77" width="1.20" height="2.43" fill="#c19a72"/>
<rect x="226.40" y="281.77" width="1.20" height="2.43" fill="#c19a72"/>
<rect x="228.20" y="281.77" width="1.20" height="2.43" fill="#c19a72"/>
<rect x="229.10" y="281.77" width="1.20" height="2.43" fill="#c19a72"/>
<rect x="230.00" y="281.77" width="1.20" height="2.43" fill="#c19a72"/>
<rect x="230.90" y="281.77" width="1.20" height="2.43" fill="#c19a72"/>
<rect x="231.80" y="281.77" width="1.20" height="2.43" fill="#c19a72"/>
<rect x="232.70" y="281.77" width="1.20" height="2.43" fill="#c19a72"/>
<rect x="234.50" y="281.77" width="1.20" height="2.43" fill="#c19a72"/>
<rect x="235.40" y="281.77" width="1.20" height="2.43" fill="#c19a72"/>
<rect x="237.20" y="281.77" width="1.20" height="2.43" fill="#c19a72"/>
<rect x="238.10" y="281.77" width="1.20" height="2.43" fill="#c19a72"/>
<rect x="239.00" y="281.77" width="1.20" height="2.43" fill="#c19a72"/>
<rect x="240.80" y="281.77" width="1.20" height="2.43" fill="#c19a72"/>
<rect x="243.50" y="281.77" width="1.20" height="2.43" fill="#c19a72"/>
<rect x="244.40" y="281.77" width="1.20" height="2.43" fill="#c19a72"/>
<rect x="247.10" y="281.77" width="1.20" height="2.43" fill="#c19a72"/>
<line x1="43.20" y1="284.50" x2="252.60" y2="284.50" stroke="#3a3a3a" stroke-width="0.55" />
<line x1="40.70" y1="293.70" x2="43.20" y2="293.70" stroke="#444" stroke-width="0.55" />
<text class="s" x="40.30" y="295.65" font-family='"Liberation Serif", serif' font-size="5.7" text-anchor="end" fill="#111" >3</text>
<line x1="40.70" y1="303.60" x2="43.20" y2="303.60" stroke="#444" stroke-width="0.55" />
<text class="s" x="40.30" y="305.55" font-family='"Liberation Serif", serif' font-size="5.7" text-anchor="end" fill="#111" >2</text>
<line x1="40.70" y1="313.60" x2="43.20" y2="313.60" stroke="#444" stroke-width="0.55" />
<text class="s" x="40.30" y="315.55" font-family='"Liberation Serif", serif' font-size="5.7" text-anchor="end" fill="#111" >1</text>
<line x1="40.70" y1="323.50" x2="43.20" y2="323.50" stroke="#444" stroke-width="0.55" />
<text class="s" x="40.30" y="325.45" font-family='"Liberation Serif", serif' font-size="5.7" text-anchor="end" fill="#111" >0</text>
<line x1="40.70" y1="333.50" x2="43.20" y2="333.50" stroke="#444" stroke-width="0.55" />
<text class="s" x="40.30" y="335.45" font-family='"Liberation Serif", serif' font-size="5.7" text-anchor="end" fill="#111" >−1</text>
<line x1="40.70" y1="340.60" x2="43.20" y2="340.60" stroke="#444" stroke-width="0.55" />
<text transform="translate(30.0,315.0) rotate(-90)" font-family='"Liberation Serif", serif' font-size="5.3" text-anchor="middle" fill="#000" stroke="#000" stroke-width="0.06">Ranked list metric</text>
<path d="M48.20,323.50 L48.20,288.50 L48.50,301.50 L49.00,309.50 L50.00,312.00 L52.00,314.00 L56.00,315.20 L60.00,315.90 L70.00,317.00 L80.00,317.90 L95.00,318.90 L108.00,319.90 L130.00,321.00 L150.00,321.90 L170.00,322.90 L185.00,323.50 L200.00,324.00 L215.00,324.50 L230.00,325.20 L237.00,326.50 L241.00,328.00 L244.00,330.50 L246.00,334.00 L247.30,337.00 L248.00,340.00 L248.00,323.50 Z" fill="#c8c8c8" stroke="none"/>
<text class="s" x="50.20" y="293.80" font-family='"Liberation Serif", serif' font-size="4.6" text-anchor="start" fill="#333" >H</text>
<text class="s" x="243.50" y="340.50" font-family='"Liberation Serif", serif' font-size="4.6" text-anchor="start" fill="#333" >L</text>
<line x1="48.20" y1="345.00" x2="48.20" y2="346.80" stroke="#444" stroke-width="0.5" />
<text class="s" x="48.20" y="352.80" font-family='"Liberation Serif", serif' font-size="5.1" text-anchor="middle" fill="#111" >0</text>
<line x1="81.50" y1="345.00" x2="81.50" y2="346.80" stroke="#444" stroke-width="0.5" />
<text class="s" x="81.50" y="352.80" font-family='"Liberation Serif", serif' font-size="5.1" text-anchor="middle" fill="#111" >5000</text>
<line x1="114.80" y1="345.00" x2="114.80" y2="346.80" stroke="#444" stroke-width="0.5" />
<text class="s" x="114.80" y="352.80" font-family='"Liberation Serif", serif' font-size="5.1" text-anchor="middle" fill="#111" >10,000</text>
<line x1="148.10" y1="345.00" x2="148.10" y2="346.80" stroke="#444" stroke-width="0.5" />
<text class="s" x="148.10" y="352.80" font-family='"Liberation Serif", serif' font-size="5.1" text-anchor="middle" fill="#111" >15,000</text>
<line x1="181.40" y1="345.00" x2="181.40" y2="346.80" stroke="#444" stroke-width="0.5" />
<text class="s" x="181.40" y="352.80" font-family='"Liberation Serif", serif' font-size="5.1" text-anchor="middle" fill="#111" >20,000</text>
<line x1="214.70" y1="345.00" x2="214.70" y2="346.80" stroke="#444" stroke-width="0.5" />
<text class="s" x="214.70" y="352.80" font-family='"Liberation Serif", serif' font-size="5.1" text-anchor="middle" fill="#111" >25,000</text>
<line x1="248.00" y1="345.00" x2="248.00" y2="346.80" stroke="#444" stroke-width="0.5" />
<text class="s" x="248.00" y="352.80" font-family='"Liberation Serif", serif' font-size="5.1" text-anchor="middle" fill="#111" >30,000</text>
<text class="s" x="148.10" y="359.80" font-family='"Liberation Serif", serif' font-size="5.3" text-anchor="middle" fill="#111" >Rank in Ordered DataSet</text>
<rect x="44.00" y="363.20" width="2.40" height="1.10" fill="#f0503c"/>
<text class="s" x="47.60" y="365.60" font-family='"Liberation Serif", serif' font-size="5.3" fill="#111" textLength="146.2" lengthAdjust="spacingAndGlyphs">CHEMOKINE_SIGNALING_PATHWAY(ES=−0.4284,NP=0.0134)</text>
<rect x="44.00" y="372.12" width="2.40" height="1.10" fill="#5cc6ee"/>
<text class="s" x="47.60" y="374.52" font-family='"Liberation Serif", serif' font-size="5.3" fill="#111" textLength="116.0" lengthAdjust="spacingAndGlyphs">FOLATE_BIOSYNTHESIS(ES=−0.5564,NP=0.1971)</text>
<rect x="44.00" y="381.04" width="2.40" height="1.10" fill="#14a38b"/>
<text class="s" x="47.60" y="383.44" font-family='"Liberation Serif", serif' font-size="5.3" fill="#111" textLength="172.2" lengthAdjust="spacingAndGlyphs">TOLL_LIKE_RECEPTOR_SIGNALING_PATHWAY(ES=−0.4896,NP=0.0707)</text>
<rect x="44.00" y="389.96" width="2.40" height="1.10" fill="#2e4596"/>
<text class="s" x="47.60" y="392.36" font-family='"Liberation Serif", serif' font-size="5.3" fill="#111" textLength="151.7" lengthAdjust="spacingAndGlyphs">CYTOSOLIC_DNA_SENSING_PATHWAY(ES=−0.6606,NP=0.0058)</text>
<rect x="44.00" y="398.88" width="2.40" height="1.10" fill="#f5906a"/>
<text class="s" x="47.60" y="401.28" font-family='"Liberation Serif", serif' font-size="5.3" fill="#111" textLength="172.3" lengthAdjust="spacingAndGlyphs">RIG_I_LIKE_RECEPTOR_SIGNALING_PATHWAY(ES=−0.5008,NP=0.1558)</text>
<rect x="44.00" y="407.80" width="2.40" height="1.10" fill="#7080c4"/>
<text class="s" x="47.60" y="410.20" font-family='"Liberation Serif", serif' font-size="5.3" fill="#111" textLength="134.4" lengthAdjust="spacingAndGlyphs">REGULATION_OF_AUTOPHAGY(ES=−0.5032,NP=0.2083)</text>
<rect x="44.00" y="416.72" width="2.40" height="1.10" fill="#8fd6cf"/>
<text class="s" x="47.60" y="419.12" font-family='"Liberation Serif", serif' font-size="5.3" fill="#111" textLength="180.5" lengthAdjust="spacingAndGlyphs">CYTOKINE_CYTOKINE_RECEPTOR_INTERACTION(ES=−0.4270,NP=0.1014)</text>
<rect x="44.00" y="425.64" width="2.40" height="1.10" fill="#e8242b"/>
<text class="s" x="47.60" y="428.04" font-family='"Liberation Serif", serif' font-size="5.3" fill="#111" textLength="153.3" lengthAdjust="spacingAndGlyphs">FC_EPSILON_RI_SIGNALING_PATHWAY(ES=−0.3730,NP=0.1020)</text>
<rect x="44.00" y="434.56" width="2.40" height="1.10" fill="#8a6a55"/>
<text class="s" x="47.60" y="436.96" font-family='"Liberation Serif", serif' font-size="5.3" fill="#111" textLength="147.2" lengthAdjust="spacingAndGlyphs">PRIMARY_BILE_ACID_BIOSYNTHESIS(ES=0.6661,NP=0.0433)</text>
<rect x="44.00" y="443.48" width="2.40" height="1.10" fill="#c19a72"/>
<text class="s" x="47.60" y="445.88" font-family='"Liberation Serif", serif' font-size="5.3" fill="#111" textLength="135.9" lengthAdjust="spacingAndGlyphs">CALCIUM_SIGNALING_PATHWAY(ES=0.4360,NP=0.0241)</text>
<text x="290.30" y="180.60" font-family='"Liberation Serif", serif' font-size="16.5" text-anchor="start" fill="#000" >D</text>
<text x="393.10" y="184.20" font-family='"Liberation Serif", serif' font-size="16" text-anchor="start" fill="#000" >PHGDH</text>
<rect x="323.3" y="194.4" width="210.49999999999994" height="150.4" fill="none" stroke="#555" stroke-width="0.75"/>
<line x1="323.30" y1="254.00" x2="533.80" y2="254.00" stroke="#333" stroke-width="0.65" />
<line x1="320.80" y1="203.30" x2="323.30" y2="203.30" stroke="#444" stroke-width="0.55" />
<text class="s" x="320.40" y="205.25" font-family='"Liberation Serif", serif' font-size="5.7" text-anchor="end" fill="#111" >0.4</text>
<line x1="320.80" y1="212.55" x2="323.30" y2="212.55" stroke="#444" stroke-width="0.55" />
<text class="s" x="320.40" y="214.50" font-family='"Liberation Serif", serif' font-size="5.7" text-anchor="end" fill="#111" >0.3</text>
<line x1="320.80" y1="221.80" x2="323.30" y2="221.80" stroke="#444" stroke-width="0.55" />
<text class="s" x="320.40" y="223.75" font-family='"Liberation Serif", serif' font-size="5.7" text-anchor="end" fill="#111" >0.2</text>
<line x1="320.80" y1="231.05" x2="323.30" y2="231.05" stroke="#444" stroke-width="0.55" />
<text class="s" x="320.40" y="233.00" font-family='"Liberation Serif", serif' font-size="5.7" text-anchor="end" fill="#111" >0.1</text>
<line x1="320.80" y1="240.30" x2="323.30" y2="240.30" stroke="#444" stroke-width="0.55" />
<text class="s" x="320.40" y="242.25" font-family='"Liberation Serif", serif' font-size="5.7" text-anchor="end" fill="#111" >0.0</text>
<line x1="320.80" y1="249.55" x2="323.30" y2="249.55" stroke="#444" stroke-width="0.55" />
<text class="s" x="320.40" y="251.50" font-family='"Liberation Serif", serif' font-size="5.7" text-anchor="end" fill="#111" >−0.1</text>
<text transform="translate(305.8,224.2) rotate(-90)" font-family='"Liberation Serif", serif' font-size="5.3" text-anchor="middle" fill="#000" stroke="#000" stroke-width="0.06">Enrichment score</text>
<line x1="323.30" y1="240.30" x2="533.80" y2="240.30" stroke="#dddddd" stroke-width="0.5" />
<polyline points="328.0,240.2 329.0,230.0 331.5,229.1 334.0,229.0 336.0,229.4 338.0,229.9 340.0,230.7 342.0,231.0 344.0,230.9 346.0,231.2 348.0,231.5 350.0,231.8 352.0,231.5 354.0,231.6 356.0,231.9 358.0,232.0 360.0,231.5 362.0,230.0 364.0,229.9 366.0,228.8 368.0,227.6 370.0,227.0 372.0,226.0 374.0,225.6 376.0,225.2 378.0,225.6 380.0,225.1 382.0,225.0 384.0,224.4 386.0,223.8 388.0,223.6 390.0,222.8 392.0,222.0 394.0,220.8 396.0,220.5 398.0,219.6 400.0,218.8 402.0,218.0 404.0,217.9 406.0,217.1 408.0,216.8 410.0,216.8 412.0,215.9 414.0,215.6 416.0,215.2 418.0,215.1 420.0,214.6 422.0,214.0 424.0,214.2 426.0,213.9 428.0,213.6 430.0,214.2 432.0,214.0 434.2,214.5 436.3,215.2 438.5,215.7 440.7,215.7 442.8,216.2 445.0,217.0 447.0,217.4 449.0,218.9 451.0,219.0 453.0,219.8 455.0,221.2 457.0,221.9 459.0,222.2 461.0,223.6 463.0,224.4 465.0,225.0 467.0,225.7 469.0,226.0 471.0,227.3 473.0,227.7 475.0,228.6 477.0,229.6 479.0,230.2 481.0,230.9 483.0,231.0 485.0,232.0 487.1,232.4 489.3,233.2 491.4,233.3 493.6,234.7 495.7,234.7 497.9,235.2 500.0,236.0 502.1,236.4 504.3,236.9 506.4,238.0 508.6,238.3 510.7,238.9 512.9,239.4 515.0,240.0 517.3,239.6 519.7,239.8 522.0,240.0 524.0,240.4 526.0,240.4 528.0,240.2" fill="none" stroke="#f0503c" stroke-width="1.1" stroke-linejoin="round"/>
<polyline points="328.0,240.2 330.0,240.2 332.0,239.4 334.0,239.0 336.0,238.5 338.0,238.7 340.0,238.2 342.0,238.0 344.0,236.8 346.0,235.6 348.0,234.5 350.0,233.1 352.0,232.0 354.0,229.9 356.0,227.1 358.0,225.0 360.0,225.2 362.0,224.8 364.0,224.2 366.0,224.3 368.0,224.3 370.0,224.1 372.0,224.0 374.0,224.0 376.0,223.6 378.0,223.5 380.0,223.9 382.0,223.3 384.0,223.6 386.0,223.6 388.0,223.3 390.0,223.1 392.0,223.0 394.0,223.1 396.0,222.4 398.0,222.4 400.0,221.4 402.0,221.4 404.0,221.3 406.0,220.5 408.0,220.9 410.0,219.9 412.0,220.0 414.0,219.7 416.0,218.9 418.0,219.2 420.0,218.5 422.0,218.0 424.1,218.6 426.2,218.7 428.3,219.2 430.4,219.6 432.5,219.6 434.5,219.9 436.6,220.8 438.7,220.6 440.8,221.6 442.9,221.4 445.0,222.0 447.0,222.3 449.0,223.0 451.0,224.4 453.0,225.2 455.0,225.4 457.0,226.3 459.0,226.7 461.0,228.0 463.0,228.5 465.0,229.0 467.0,229.4 469.0,230.0 471.0,231.3 473.0,231.4 475.0,232.8 477.0,233.0 479.0,233.7 481.0,234.7 483.0,235.1 485.0,236.0 487.0,236.7 489.0,236.9 491.0,238.2 493.0,238.2 495.0,239.3 497.0,239.3 499.0,240.5 501.0,241.2 503.0,241.3 505.0,242.0 507.0,241.9 509.0,242.5 511.0,243.0 513.0,242.9 515.0,243.5 517.0,243.3 519.0,244.0 521.5,242.0 524.0,240.0 526.0,240.3 528.0,240.2" fill="none" stroke="#5cc6ee" stroke-width="1.1" stroke-linejoin="round"/>
<polyline points="328.0,240.2 330.0,239.4 332.0,238.9 334.0,238.0 336.0,234.7 338.0,232.3 340.0,229.0 342.0,223.2 344.0,218.0 346.0,216.9 348.0,215.0 350.0,215.4 352.0,215.4 354.0,215.0 356.0,214.8 358.0,214.9 360.0,215.2 362.0,215.0 364.0,215.4 366.0,214.6 368.0,215.0 370.0,215.3 372.0,215.0 374.0,215.0 376.0,214.8 378.0,214.3 380.0,214.3 382.0,214.3 384.0,214.8 386.0,214.6 388.0,214.0 390.0,214.5 392.0,214.0 394.0,213.5 396.0,213.9 398.0,214.2 400.0,213.5 402.0,213.6 404.0,214.1 406.0,213.9 408.0,213.5 410.0,213.8 412.0,214.0 414.0,213.9 416.0,214.5 418.0,214.1 420.0,214.7 422.0,214.4 424.0,214.2 426.0,214.8 428.0,214.4 430.0,215.0 432.0,215.0 434.0,215.8 436.0,216.2 438.0,216.6 440.0,216.8 442.0,217.8 444.0,218.0 446.0,219.0 448.0,219.1 450.0,220.0 452.0,220.9 454.0,221.5 456.0,222.3 458.0,223.3 460.0,223.7 462.0,224.5 464.0,226.0 466.0,226.2 468.0,227.5 470.0,228.0 472.1,229.3 474.3,230.0 476.4,230.7 478.6,231.6 480.7,233.3 482.9,233.7 485.0,235.0 487.0,235.6 489.0,236.3 491.0,236.5 493.0,237.5 495.0,237.8 497.0,238.8 499.0,239.4 501.0,240.0 503.0,239.6 505.0,239.2 507.0,239.2 509.0,239.0 511.2,238.9 513.4,239.1 515.6,239.4 517.8,240.1 520.0,240.0 522.0,240.1 524.0,240.5 526.0,239.7 528.0,240.2" fill="none" stroke="#14a38b" stroke-width="1.1" stroke-linejoin="round"/>
<polyline points="328.0,240.2 330.0,240.2 332.0,239.5 334.0,239.4 336.0,238.8 338.0,238.4 340.0,232.9 342.0,227.0 344.0,226.4 346.0,226.6 348.0,226.0 350.0,226.3 352.0,226.9 354.0,227.3 356.0,228.2 358.0,228.9 360.0,229.2 362.0,230.0 364.0,230.9 366.0,230.6 368.0,231.6 370.0,232.0 372.0,229.9 374.0,228.4 376.0,226.8 378.0,224.9 380.0,222.4 382.0,221.0 384.0,220.4 386.0,220.3 388.0,220.2 390.0,219.0 392.0,219.0 394.0,218.7 396.0,218.4 398.0,218.1 400.0,217.3 402.0,217.0 404.0,215.6 406.0,213.6 408.0,212.0 410.0,209.4 412.0,206.0 414.0,205.7 416.0,206.6 418.0,206.2 420.0,206.3 422.0,206.1 424.0,206.4 426.0,206.9 428.0,207.0 430.0,206.6 432.0,207.0 434.2,207.5 436.3,208.0 438.5,208.7 440.7,209.4 442.8,210.2 445.0,211.0 447.0,212.3 449.0,213.2 451.0,214.0 453.0,214.6 455.0,215.5 457.0,216.7 459.0,217.7 461.0,218.4 463.0,219.2 465.0,220.0 467.0,220.4 469.0,221.5 471.0,222.4 473.0,223.1 475.0,223.1 477.0,224.4 479.0,224.8 481.0,225.3 483.0,226.7 485.0,227.0 487.0,227.6 489.0,228.2 491.0,228.1 493.0,229.2 495.0,229.8 497.0,230.3 499.0,230.4 501.0,230.7 503.0,230.9 505.0,231.0 507.0,231.0 509.0,231.0 511.0,231.7 513.0,232.9 515.0,233.7 517.0,234.5 519.0,235.0 521.0,236.2 523.0,238.1 525.0,239.0 528.0,240.2" fill="none" stroke="#2e4596" stroke-width="1.1" stroke-linejoin="round"/>
<polyline points="328.0,240.2 330.0,237.5 332.0,235.1 334.0,232.0 336.0,232.3 338.0,233.8 340.0,234.3 342.0,234.4 344.0,235.6 346.0,236.0 348.0,236.8 350.0,237.7 352.0,239.0 354.0,239.2 356.0,239.2 358.0,239.6 360.0,240.2 362.0,240.0 364.0,239.7 366.0,239.2 368.0,238.4 370.0,238.0 372.0,239.8 374.0,241.0 376.0,240.5 378.0,239.6 380.0,239.1 382.0,238.2 384.0,237.0 386.0,236.0 388.0,235.7 390.0,235.1 392.0,234.0 394.0,232.9 396.0,232.1 398.0,231.0 400.0,230.6 402.0,229.8 404.0,228.3 406.0,228.0 408.0,227.0 410.0,225.6 412.0,224.6 414.0,224.0 416.0,222.8 418.0,220.9 420.0,219.6 422.0,218.0 424.0,217.6 426.0,217.1 428.0,216.5 430.0,216.3 432.0,216.0 434.0,216.8 436.0,217.0 438.0,217.1 440.0,217.4 442.0,218.0 444.0,218.8 446.0,219.1 448.0,219.7 450.0,220.0 452.0,220.9 454.0,220.9 456.0,222.0 458.0,222.0 460.0,223.3 462.0,223.3 464.0,224.0 466.0,225.2 468.0,225.3 470.0,226.0 472.0,226.4 474.0,227.6 476.0,227.9 478.0,228.8 480.0,228.9 482.0,229.6 484.0,230.6 486.0,230.8 488.0,231.8 490.0,232.0 492.0,231.3 494.0,231.5 496.0,230.5 498.0,230.4 500.0,230.0 502.0,230.2 504.0,230.9 506.0,232.2 508.0,232.4 510.0,233.0 512.0,234.3 514.0,234.8 516.0,235.9 518.0,236.6 520.0,238.0 522.0,238.6 524.0,239.4 526.0,239.7 528.0,240.2" fill="none" stroke="#f5906a" stroke-width="1.1" stroke-linejoin="round"/>
<polyline points="328.0,240.2 330.0,238.0 332.0,236.5 334.0,234.0 336.0,232.4 338.0,230.1 340.0,227.6 342.0,226.1 344.0,224.0 346.0,221.9 348.0,220.4 350.0,217.9 352.0,216.1 354.0,214.0 356.0,213.1 358.0,211.9 360.0,211.0 362.0,210.0 364.0,209.4 366.0,208.9 368.0,207.9 370.0,207.0 372.0,206.9 374.0,205.3 376.0,205.0 378.0,205.4 380.0,205.4 382.0,205.4 384.0,205.5 386.0,205.9 388.0,206.1 390.0,206.1 392.0,206.0 394.0,206.1 396.0,205.4 398.0,205.6 400.0,205.4 402.0,205.6 404.0,207.1 406.0,208.2 408.0,208.6 410.0,210.0 412.0,210.6 414.0,211.1 416.0,211.1 418.0,211.9 420.0,212.7 422.0,213.0 424.0,213.7 426.0,214.0 428.0,215.0 430.0,215.2 432.0,216.0 434.0,216.8 436.0,217.5 438.0,218.8 440.0,219.2 442.0,220.2 444.0,220.8 446.0,221.3 448.0,222.6 450.0,223.0 452.0,224.0 454.0,224.8 456.0,225.2 458.0,225.9 460.0,227.1 462.0,228.1 464.0,228.9 466.0,229.3 468.0,229.9 470.0,231.0 472.1,232.0 474.3,233.3 476.4,233.7 478.6,235.2 480.7,235.7 482.9,236.8 485.0,238.0 487.0,238.4 489.0,239.3 491.0,240.2 493.0,241.5 495.0,242.2 497.0,242.3 499.0,243.1 501.0,244.5 503.0,244.6 505.0,245.6 507.0,245.5 509.0,245.6 511.0,245.4 513.0,245.5 515.0,245.7 517.0,245.7 519.0,246.3 521.0,245.7 523.0,245.7 525.0,246.0 527.0,244.4 529.0,242.0 528.0,240.2" fill="none" stroke="#7080c4" stroke-width="1.1" stroke-linejoin="round"/>
<polyline points="328.0,240.2 330.0,233.1 332.0,226.0 334.0,223.3 336.0,220.0 338.0,219.9 340.0,219.8 342.0,219.1 344.0,218.7 346.0,219.0 348.0,218.5 350.0,218.3 352.0,218.0 354.0,218.5 356.0,218.8 358.0,218.7 360.0,219.1 362.0,219.9 364.0,219.8 366.0,219.9 368.0,220.5 370.0,220.5 372.0,221.0 374.0,221.1 376.0,220.4 378.0,221.0 380.0,220.7 382.0,220.4 384.0,220.8 386.0,220.1 388.0,220.0 390.0,219.7 392.0,220.0 394.0,219.9 396.0,220.0 398.0,219.8 400.0,219.4 402.0,219.6 404.0,218.9 406.0,218.9 408.0,219.1 410.0,219.2 412.0,218.8 414.0,218.7 416.0,218.6 418.0,218.2 420.0,218.5 422.0,218.0 424.1,218.8 426.2,218.9 428.3,219.5 430.4,220.5 432.5,220.6 434.5,221.0 436.6,222.2 438.7,222.4 440.8,222.9 442.9,223.6 445.0,224.0 447.0,225.1 449.0,225.1 451.0,226.0 453.0,226.4 455.0,227.4 457.0,228.2 459.0,229.2 461.0,229.8 463.0,230.4 465.0,231.0 467.0,231.5 469.0,232.3 471.0,232.6 473.0,233.7 475.0,234.3 477.0,234.9 479.0,234.9 481.0,236.0 483.0,236.6 485.0,237.0 487.0,237.7 489.0,238.8 491.0,239.5 493.0,240.0 495.0,240.8 497.0,241.3 499.0,242.2 501.0,242.3 503.0,243.5 505.0,244.0 507.0,245.0 509.0,245.8 511.0,246.4 513.0,247.0 515.0,248.4 517.0,249.4 519.0,250.0 521.0,247.1 523.0,244.4 525.0,242.0 528.0,240.2" fill="none" stroke="#8fd6cf" stroke-width="1.1" stroke-linejoin="round"/>
<polyline points="328.0,240.2 330.0,232.9 332.0,225.7 334.0,219.2 336.0,212.0 338.0,210.4 340.0,208.3 342.0,206.0 344.0,204.0 346.0,202.4 348.0,200.4 350.0,199.3 352.0,199.4 354.0,198.4 356.0,199.1 358.0,199.6 360.0,201.0 362.0,201.5 364.0,202.4 366.0,203.1 368.0,204.3 370.0,205.2 372.0,206.0 374.0,207.0 376.0,207.1 378.0,208.6 380.0,208.7 382.0,209.6 384.0,210.7 386.0,211.2 388.0,211.9 390.0,212.9 392.0,213.6 394.0,213.5 396.0,214.3 398.0,213.9 400.0,214.7 402.0,214.9 404.0,214.8 406.0,214.6 408.0,215.5 410.0,215.0 412.0,215.6 414.0,215.9 416.0,216.2 418.0,216.2 420.0,217.1 422.0,217.5 424.0,217.7 426.0,217.9 428.0,218.3 430.0,218.7 432.0,219.0 434.2,219.8 436.3,221.3 438.5,222.4 440.7,223.3 442.8,224.4 445.0,225.0 447.0,225.6 449.0,227.0 451.0,227.0 453.0,228.2 455.0,228.7 457.0,229.8 459.0,230.8 461.0,231.6 463.0,232.2 465.0,233.0 467.0,233.7 469.0,234.3 471.0,235.3 473.0,236.0 475.0,236.7 477.0,238.0 479.0,238.6 481.0,239.3 483.0,239.9 485.0,241.0 487.0,241.9 489.0,242.1 491.0,242.8 493.0,243.8 495.0,244.4 497.0,244.8 499.0,245.3 501.0,245.4 503.0,245.8 505.0,246.1 507.0,246.2 509.0,246.4 511.0,246.1 513.0,246.5 515.0,247.0 517.0,245.9 519.0,246.0 521.0,245.0 524.0,240.0 526.0,240.3 528.0,240.2" fill="none" stroke="#e8242b" stroke-width="1.45" stroke-linejoin="round"/>
<polyline points="328.0,240.2 330.0,240.1 332.0,239.6 334.0,239.6 336.0,239.2 338.0,239.5 340.0,239.6 342.0,239.0 344.0,238.2 346.0,237.4 348.0,236.9 350.0,236.5 352.0,236.0 354.0,233.4 356.0,230.3 358.0,227.0 360.0,226.2 362.0,225.1 364.0,224.4 366.0,224.0 368.0,223.8 370.0,224.5 372.0,224.3 374.0,224.9 376.0,225.0 378.0,225.0 380.0,224.9 382.0,225.0 384.0,223.8 386.0,221.7 388.0,220.1 390.0,219.0 392.0,218.9 394.0,218.7 396.0,218.2 398.0,218.1 400.0,217.7 402.0,218.0 404.0,217.6 406.0,216.6 408.0,216.0 410.0,215.2 412.0,214.0 414.0,213.7 416.0,213.8 418.0,213.3 420.0,213.5 422.0,213.3 424.0,212.5 426.0,212.2 428.0,212.1 430.0,212.3 432.0,212.0 434.0,212.3 436.0,212.4 438.0,213.6 440.0,214.0 442.0,214.2 444.0,214.3 446.0,215.5 448.0,215.6 450.0,216.0 452.0,216.4 454.0,217.4 456.0,218.5 458.0,219.5 460.0,220.0 462.0,220.9 464.0,221.3 466.0,222.2 468.0,223.6 470.0,224.0 472.0,224.6 474.0,225.0 476.0,226.2 478.0,226.5 480.0,227.2 482.0,228.2 484.0,229.0 486.0,229.7 488.0,230.5 490.0,231.0 492.1,231.5 494.3,231.8 496.4,232.9 498.6,232.9 500.7,233.8 502.9,234.3 505.0,235.0 507.1,235.7 509.3,236.3 511.4,236.5 513.6,237.4 515.7,238.0 517.9,238.4 520.0,239.0 522.0,239.0 524.0,240.0 526.0,240.0 528.0,240.2" fill="none" stroke="#8a6a55" stroke-width="1.1" stroke-linejoin="round"/>
<polyline points="328.0,240.2 330.0,239.8 332.0,239.9 334.0,240.6 336.0,239.9 338.0,240.0 340.0,240.4 342.0,240.4 344.0,240.2 346.0,240.3 348.0,239.6 350.0,239.7 352.0,240.0 354.0,239.8 356.0,239.1 358.0,237.8 360.0,237.2 362.0,237.0 364.0,236.6 366.0,237.0 368.0,236.1 370.0,236.4 372.0,236.0 374.0,233.7 376.0,230.8 378.0,228.0 380.0,227.6 382.0,226.2 384.0,225.3 386.0,224.4 388.0,224.0 390.0,223.9 392.0,223.0 394.0,223.0 396.0,222.4 398.0,221.2 400.0,219.7 402.0,219.3 404.0,217.7 406.0,217.0 408.0,216.5 410.0,215.6 412.0,215.8 414.0,215.4 416.0,214.9 418.0,213.6 420.0,213.8 422.0,213.0 424.0,212.9 426.0,212.9 428.0,212.4 430.0,212.3 432.0,212.0 434.2,212.3 436.3,212.6 438.5,212.1 440.7,212.3 442.8,212.9 445.0,213.0 447.0,213.7 449.0,214.7 451.0,215.3 453.0,216.8 455.0,217.1 457.0,218.7 459.0,219.6 461.0,220.2 463.0,220.8 465.0,222.0 467.0,222.9 469.0,223.3 471.0,224.3 473.0,224.8 475.0,226.4 477.0,226.8 479.0,227.5 481.0,228.0 483.0,229.4 485.0,230.0 487.0,230.9 489.0,231.4 491.0,231.3 493.0,232.1 495.0,232.6 497.0,233.5 499.0,233.5 501.0,234.4 503.0,234.9 505.0,235.7 507.0,235.9 509.0,235.6 511.0,236.1 513.0,236.6 515.0,237.5 517.0,237.8 519.0,238.2 521.0,238.5 523.0,239.0 525.5,239.5 528.0,240.2" fill="none" stroke="#c19a72" stroke-width="1.1" stroke-linejoin="round"/>
<rect x="327.60" y="254.30" width="1.20" height="2.46" fill="#f0503c"/>
<rect x="328.50" y="254.30" width="1.20" height="2.46" fill="#f0503c"/>
<rect x="334.80" y="254.30" width="1.20" height="2.46" fill="#f0503c"/>
<rect x="354.60" y="254.30" width="1.20" height="2.46" fill="#f0503c"/>
<rect x="355.50" y="254.30" width="1.20" height="2.46" fill="#f0503c"/>
<rect x="357.30" y="254.30" width="1.20" height="2.46" fill="#f0503c"/>
<rect x="368.10" y="254.30" width="1.20" height="2.46" fill="#f0503c"/>
<rect x="369.00" y="254.30" width="1.20" height="2.46" fill="#f0503c"/>
<rect x="377.10" y="254.30" width="1.20" height="2.46" fill="#f0503c"/>
<rect x="384.30" y="254.30" width="1.20" height="2.46" fill="#f0503c"/>
<rect x="390.60" y="254.30" width="1.20" height="2.46" fill="#f0503c"/>
<rect x="391.50" y="254.30" width="1.20" height="2.46" fill="#f0503c"/>
<rect x="392.40" y="254.30" width="1.20" height="2.46" fill="#f0503c"/>
<rect x="393.30" y="254.30" width="1.20" height="2.46" fill="#f0503c"/>
<rect x="394.20" y="254.30" width="1.20" height="2.46" fill="#f0503c"/>
<rect x="395.10" y="254.30" width="1.20" height="2.46" fill="#f0503c"/>
<rect x="396.00" y="254.30" width="1.20" height="2.46" fill="#f0503c"/>
<rect x="396.90" y="254.30" width="1.20" height="2.46" fill="#f0503c"/>
<rect x="397.80" y="254.30" width="1.20" height="2.46" fill="#f0503c"/>
<rect x="399.60" y="254.30" width="1.20" height="2.46" fill="#f0503c"/>
<rect x="400.50" y="254.30" width="1.20" height="2.46" fill="#f0503c"/>
<rect x="401.40" y="254.30" width="1.20" height="2.46" fill="#f0503c"/>
<rect x="402.30" y="254.30" width="1.20" height="2.46" fill="#f0503c"/>
<rect x="403.20" y="254.30" width="1.20" height="2.46" fill="#f0503c"/>
<rect x="404.10" y="254.30" width="1.20" height="2.46" fill="#f0503c"/>
<rect x="405.00" y="254.30" width="1.20" height="2.46" fill="#f0503c"/>
<rect x="405.90" y="254.30" width="1.20" height="2.46" fill="#f0503c"/>
<rect x="406.80" y="254.30" width="1.20" height="2.46" fill="#f0503c"/>
<rect x="407.70" y="254.30" width="1.20" height="2.46" fill="#f0503c"/>
<rect x="408.60" y="254.30" width="1.20" height="2.46" fill="#f0503c"/>
<rect x="409.50" y="254.30" width="1.20" height="2.46" fill="#f0503c"/>
<rect x="410.40" y="254.30" width="1.20" height="2.46" fill="#f0503c"/>
<rect x="412.20" y="254.30" width="1.20" height="2.46" fill="#f0503c"/>
<rect x="413.10" y="254.30" width="1.20" height="2.46" fill="#f0503c"/>
<rect x="414.00" y="254.30" width="1.20" height="2.46" fill="#f0503c"/>
<rect x="414.90" y="254.30" width="1.20" height="2.46" fill="#f0503c"/>
<rect x="415.80" y="254.30" width="1.20" height="2.46" fill="#f0503c"/>
<rect x="416.70" y="254.30" width="1.20" height="2.46" fill="#f0503c"/>
<rect x="417.60" y="254.30" width="1.20" height="2.46" fill="#f0503c"/>
<rect x="418.50" y="254.30" width="1.20" height="2.46" fill="#f0503c"/>
<rect x="419.40" y="254.30" width="1.20" height="2.46" fill="#f0503c"/>
<rect x="420.30" y="254.30" width="1.20" height="2.46" fill="#f0503c"/>
<rect x="421.20" y="254.30" width="1.20" height="2.46" fill="#f0503c"/>
<rect x="423.00" y="254.30" width="1.20" height="2.46" fill="#f0503c"/>
<rect x="424.80" y="254.30" width="1.20" height="2.46" fill="#f0503c"/>
<rect x="426.60" y="254.30" width="1.20" height="2.46" fill="#f0503c"/>
<rect x="429.30" y="254.30" width="1.20" height="2.46" fill="#f0503c"/>
<rect x="430.20" y="254.30" width="1.20" height="2.46" fill="#f0503c"/>
<rect x="431.10" y="254.30" width="1.20" height="2.46" fill="#f0503c"/>
<rect x="432.00" y="254.30" width="1.20" height="2.46" fill="#f0503c"/>
<rect x="433.80" y="254.30" width="1.20" height="2.46" fill="#f0503c"/>
<rect x="434.70" y="254.30" width="1.20" height="2.46" fill="#f0503c"/>
<rect x="435.60" y="254.30" width="1.20" height="2.46" fill="#f0503c"/>
<rect x="436.50" y="254.30" width="1.20" height="2.46" fill="#f0503c"/>
<rect x="437.40" y="254.30" width="1.20" height="2.46" fill="#f0503c"/>
<rect x="438.30" y="254.30" width="1.20" height="2.46" fill="#f0503c"/>
<rect x="439.20" y="254.30" width="1.20" height="2.46" fill="#f0503c"/>
<rect x="441.00" y="254.30" width="1.20" height="2.46" fill="#f0503c"/>
<rect x="441.90" y="254.30" width="1.20" height="2.46" fill="#f0503c"/>
<rect x="442.80" y="254.30" width="1.20" height="2.46" fill="#f0503c"/>
<rect x="443.70" y="254.30" width="1.20" height="2.46" fill="#f0503c"/>
<rect x="444.60" y="254.30" width="1.20" height="2.46" fill="#f0503c"/>
<rect x="445.50" y="254.30" width="1.20" height="2.46" fill="#f0503c"/>
<rect x="447.30" y="254.30" width="1.20" height="2.46" fill="#f0503c"/>
<rect x="449.10" y="254.30" width="1.20" height="2.46" fill="#f0503c"/>
<rect x="450.00" y="254.30" width="1.20" height="2.46" fill="#f0503c"/>
<rect x="450.90" y="254.30" width="1.20" height="2.46" fill="#f0503c"/>
<rect x="452.70" y="254.30" width="1.20" height="2.46" fill="#f0503c"/>
<rect x="453.60" y="254.30" width="1.20" height="2.46" fill="#f0503c"/>
<rect x="454.50" y="254.30" width="1.20" height="2.46" fill="#f0503c"/>
<rect x="455.40" y="254.30" width="1.20" height="2.46" fill="#f0503c"/>
<rect x="456.30" y="254.30" width="1.20" height="2.46" fill="#f0503c"/>
<rect x="458.10" y="254.30" width="1.20" height="2.46" fill="#f0503c"/>
<rect x="459.00" y="254.30" width="1.20" height="2.46" fill="#f0503c"/>
<rect x="459.90" y="254.30" width="1.20" height="2.46" fill="#f0503c"/>
<rect x="471.60" y="254.30" width="1.20" height="2.46" fill="#f0503c"/>
<rect x="486.90" y="254.30" width="1.20" height="2.46" fill="#f0503c"/>
<rect x="487.80" y="254.30" width="1.20" height="2.46" fill="#f0503c"/>
<rect x="493.20" y="254.30" width="1.20" height="2.46" fill="#f0503c"/>
<rect x="495.90" y="254.30" width="1.20" height="2.46" fill="#f0503c"/>
<rect x="496.80" y="254.30" width="1.20" height="2.46" fill="#f0503c"/>
<rect x="498.60" y="254.30" width="1.20" height="2.46" fill="#f0503c"/>
<rect x="499.50" y="254.30" width="1.20" height="2.46" fill="#f0503c"/>
<rect x="500.40" y="254.30" width="1.20" height="2.46" fill="#f0503c"/>
<rect x="504.00" y="254.30" width="1.20" height="2.46" fill="#f0503c"/>
<rect x="505.80" y="254.30" width="1.20" height="2.46" fill="#f0503c"/>
<rect x="506.70" y="254.30" width="1.20" height="2.46" fill="#f0503c"/>
<rect x="513.00" y="254.30" width="1.20" height="2.46" fill="#f0503c"/>
<rect x="515.70" y="254.30" width="1.20" height="2.46" fill="#f0503c"/>
<line x1="323.30" y1="257.06" x2="533.80" y2="257.06" stroke="#3a3a3a" stroke-width="0.55" />
<rect x="327.60" y="257.36" width="1.20" height="2.46" fill="#5cc6ee"/>
<rect x="328.50" y="257.36" width="1.20" height="2.46" fill="#5cc6ee"/>
<rect x="329.40" y="257.36" width="1.20" height="2.46" fill="#5cc6ee"/>
<rect x="331.20" y="257.36" width="1.20" height="2.46" fill="#5cc6ee"/>
<rect x="332.10" y="257.36" width="1.20" height="2.46" fill="#5cc6ee"/>
<rect x="333.00" y="257.36" width="1.20" height="2.46" fill="#5cc6ee"/>
<rect x="333.90" y="257.36" width="1.20" height="2.46" fill="#5cc6ee"/>
<rect x="334.80" y="257.36" width="1.20" height="2.46" fill="#5cc6ee"/>
<rect x="335.70" y="257.36" width="1.20" height="2.46" fill="#5cc6ee"/>
<rect x="337.50" y="257.36" width="1.20" height="2.46" fill="#5cc6ee"/>
<rect x="339.30" y="257.36" width="1.20" height="2.46" fill="#5cc6ee"/>
<rect x="340.20" y="257.36" width="1.20" height="2.46" fill="#5cc6ee"/>
<rect x="341.10" y="257.36" width="1.20" height="2.46" fill="#5cc6ee"/>
<rect x="342.90" y="257.36" width="1.20" height="2.46" fill="#5cc6ee"/>
<rect x="343.80" y="257.36" width="1.20" height="2.46" fill="#5cc6ee"/>
<rect x="344.70" y="257.36" width="1.20" height="2.46" fill="#5cc6ee"/>
<rect x="346.50" y="257.36" width="1.20" height="2.46" fill="#5cc6ee"/>
<rect x="348.30" y="257.36" width="1.20" height="2.46" fill="#5cc6ee"/>
<rect x="349.20" y="257.36" width="1.20" height="2.46" fill="#5cc6ee"/>
<rect x="351.00" y="257.36" width="1.20" height="2.46" fill="#5cc6ee"/>
<rect x="352.80" y="257.36" width="1.20" height="2.46" fill="#5cc6ee"/>
<rect x="353.70" y="257.36" width="1.20" height="2.46" fill="#5cc6ee"/>
<rect x="355.50" y="257.36" width="1.20" height="2.46" fill="#5cc6ee"/>
<rect x="356.40" y="257.36" width="1.20" height="2.46" fill="#5cc6ee"/>
<rect x="357.30" y="257.36" width="1.20" height="2.46" fill="#5cc6ee"/>
<rect x="358.20" y="257.36" width="1.20" height="2.46" fill="#5cc6ee"/>
<rect x="359.10" y="257.36" width="1.20" height="2.46" fill="#5cc6ee"/>
<rect x="360.00" y="257.36" width="1.20" height="2.46" fill="#5cc6ee"/>
<rect x="360.90" y="257.36" width="1.20" height="2.46" fill="#5cc6ee"/>
<rect x="362.70" y="257.36" width="1.20" height="2.46" fill="#5cc6ee"/>
<rect x="363.60" y="257.36" width="1.20" height="2.46" fill="#5cc6ee"/>
<rect x="364.50" y="257.36" width="1.20" height="2.46" fill="#5cc6ee"/>
<rect x="365.40" y="257.36" width="1.20" height="2.46" fill="#5cc6ee"/>
<rect x="366.30" y="257.36" width="1.20" height="2.46" fill="#5cc6ee"/>
<rect x="367.20" y="257.36" width="1.20" height="2.46" fill="#5cc6ee"/>
<rect x="368.10" y="257.36" width="1.20" height="2.46" fill="#5cc6ee"/>
<rect x="369.00" y="257.36" width="1.20" height="2.46" fill="#5cc6ee"/>
<rect x="369.90" y="257.36" width="1.20" height="2.46" fill="#5cc6ee"/>
<rect x="371.70" y="257.36" width="1.20" height="2.46" fill="#5cc6ee"/>
<rect x="372.60" y="257.36" width="1.20" height="2.46" fill="#5cc6ee"/>
<rect x="373.50" y="257.36" width="1.20" height="2.46" fill="#5cc6ee"/>
<rect x="374.40" y="257.36" width="1.20" height="2.46" fill="#5cc6ee"/>
<rect x="376.20" y="257.36" width="1.20" height="2.46" fill="#5cc6ee"/>
<rect x="377.10" y="257.36" width="1.20" height="2.46" fill="#5cc6ee"/>
<rect x="378.00" y="257.36" width="1.20" height="2.46" fill="#5cc6ee"/>
<rect x="378.90" y="257.36" width="1.20" height="2.46" fill="#5cc6ee"/>
<rect x="379.80" y="257.36" width="1.20" height="2.46" fill="#5cc6ee"/>
<rect x="380.70" y="257.36" width="1.20" height="2.46" fill="#5cc6ee"/>
<rect x="382.50" y="257.36" width="1.20" height="2.46" fill="#5cc6ee"/>
<rect x="385.20" y="257.36" width="1.20" height="2.46" fill="#5cc6ee"/>
<rect x="387.00" y="257.36" width="1.20" height="2.46" fill="#5cc6ee"/>
<rect x="387.90" y="257.36" width="1.20" height="2.46" fill="#5cc6ee"/>
<rect x="389.70" y="257.36" width="1.20" height="2.46" fill="#5cc6ee"/>
<rect x="390.60" y="257.36" width="1.20" height="2.46" fill="#5cc6ee"/>
<rect x="391.50" y="257.36" width="1.20" height="2.46" fill="#5cc6ee"/>
<rect x="392.40" y="257.36" width="1.20" height="2.46" fill="#5cc6ee"/>
<rect x="395.10" y="257.36" width="1.20" height="2.46" fill="#5cc6ee"/>
<rect x="396.00" y="257.36" width="1.20" height="2.46" fill="#5cc6ee"/>
<rect x="398.70" y="257.36" width="1.20" height="2.46" fill="#5cc6ee"/>
<rect x="399.60" y="257.36" width="1.20" height="2.46" fill="#5cc6ee"/>
<rect x="400.50" y="257.36" width="1.20" height="2.46" fill="#5cc6ee"/>
<rect x="401.40" y="257.36" width="1.20" height="2.46" fill="#5cc6ee"/>
<rect x="402.30" y="257.36" width="1.20" height="2.46" fill="#5cc6ee"/>
<rect x="403.20" y="257.36" width="1.20" height="2.46" fill="#5cc6ee"/>
<rect x="406.80" y="257.36" width="1.20" height="2.46" fill="#5cc6ee"/>
<rect x="407.70" y="257.36" width="1.20" height="2.46" fill="#5cc6ee"/>
<rect x="409.50" y="257.36" width="1.20" height="2.46" fill="#5cc6ee"/>
<rect x="410.40" y="257.36" width="1.20" height="2.46" fill="#5cc6ee"/>
<rect x="411.30" y="257.36" width="1.20" height="2.46" fill="#5cc6ee"/>
<rect x="412.20" y="257.36" width="1.20" height="2.46" fill="#5cc6ee"/>
<rect x="413.10" y="257.36" width="1.20" height="2.46" fill="#5cc6ee"/>
<rect x="414.00" y="257.36" width="1.20" height="2.46" fill="#5cc6ee"/>
<rect x="414.90" y="257.36" width="1.20" height="2.46" fill="#5cc6ee"/>
<rect x="415.80" y="257.36" width="1.20" height="2.46" fill="#5cc6ee"/>
<rect x="416.70" y="257.36" width="1.20" height="2.46" fill="#5cc6ee"/>
<rect x="418.50" y="257.36" width="1.20" height="2.46" fill="#5cc6ee"/>
<rect x="419.40" y="257.36" width="1.20" height="2.46" fill="#5cc6ee"/>
<rect x="420.30" y="257.36" width="1.20" height="2.46" fill="#5cc6ee"/>
<rect x="422.10" y="257.36" width="1.20" height="2.46" fill="#5cc6ee"/>
<rect x="423.00" y="257.36" width="1.20" height="2.46" fill="#5cc6ee"/>
<rect x="423.90" y="257.36" width="1.20" height="2.46" fill="#5cc6ee"/>
<rect x="424.80" y="257.36" width="1.20" height="2.46" fill="#5cc6ee"/>
<rect x="425.70" y="257.36" width="1.20" height="2.46" fill="#5cc6ee"/>
<rect x="426.60" y="257.36" width="1.20" height="2.46" fill="#5cc6ee"/>
<rect x="429.30" y="257.36" width="1.20" height="2.46" fill="#5cc6ee"/>
<rect x="430.20" y="257.36" width="1.20" height="2.46" fill="#5cc6ee"/>
<rect x="432.00" y="257.36" width="1.20" height="2.46" fill="#5cc6ee"/>
<rect x="432.90" y="257.36" width="1.20" height="2.46" fill="#5cc6ee"/>
<rect x="435.60" y="257.36" width="1.20" height="2.46" fill="#5cc6ee"/>
<rect x="437.40" y="257.36" width="1.20" height="2.46" fill="#5cc6ee"/>
<rect x="438.30" y="257.36" width="1.20" height="2.46" fill="#5cc6ee"/>
<rect x="440.10" y="257.36" width="1.20" height="2.46" fill="#5cc6ee"/>
<rect x="441.00" y="257.36" width="1.20" height="2.46" fill="#5cc6ee"/>
<rect x="441.90" y="257.36" width="1.20" height="2.46" fill="#5cc6ee"/>
<rect x="442.80" y="257.36" width="1.20" height="2.46" fill="#5cc6ee"/>
<rect x="443.70" y="257.36" width="1.20" height="2.46" fill="#5cc6ee"/>
<rect x="444.60" y="257.36" width="1.20" height="2.46" fill="#5cc6ee"/>
<rect x="445.50" y="257.36" width="1.20" height="2.46" fill="#5cc6ee"/>
<rect x="446.40" y="257.36" width="1.20" height="2.46" fill="#5cc6ee"/>
<rect x="447.30" y="257.36" width="1.20" height="2.46" fill="#5cc6ee"/>
<rect x="455.40" y="257.36" width="1.20" height="2.46" fill="#5cc6ee"/>
<rect x="474.30" y="257.36" width="1.20" height="2.46" fill="#5cc6ee"/>
<rect x="477.00" y="257.36" width="1.20" height="2.46" fill="#5cc6ee"/>
<rect x="477.90" y="257.36" width="1.20" height="2.46" fill="#5cc6ee"/>
<rect x="478.80" y="257.36" width="1.20" height="2.46" fill="#5cc6ee"/>
<rect x="479.70" y="257.36" width="1.20" height="2.46" fill="#5cc6ee"/>
<rect x="481.50" y="257.36" width="1.20" height="2.46" fill="#5cc6ee"/>
<rect x="482.40" y="257.36" width="1.20" height="2.46" fill="#5cc6ee"/>
<rect x="483.30" y="257.36" width="1.20" height="2.46" fill="#5cc6ee"/>
<rect x="486.00" y="257.36" width="1.20" height="2.46" fill="#5cc6ee"/>
<rect x="486.90" y="257.36" width="1.20" height="2.46" fill="#5cc6ee"/>
<rect x="489.60" y="257.36" width="1.20" height="2.46" fill="#5cc6ee"/>
<rect x="490.50" y="257.36" width="1.20" height="2.46" fill="#5cc6ee"/>
<rect x="491.40" y="257.36" width="1.20" height="2.46" fill="#5cc6ee"/>
<rect x="492.30" y="257.36" width="1.20" height="2.46" fill="#5cc6ee"/>
<rect x="493.20" y="257.36" width="1.20" height="2.46" fill="#5cc6ee"/>
<rect x="494.10" y="257.36" width="1.20" height="2.46" fill="#5cc6ee"/>
<rect x="495.00" y="257.36" width="1.20" height="2.46" fill="#5cc6ee"/>
<rect x="495.90" y="257.36" width="1.20" height="2.46" fill="#5cc6ee"/>
<rect x="496.80" y="257.36" width="1.20" height="2.46" fill="#5cc6ee"/>
<rect x="497.70" y="257.36" width="1.20" height="2.46" fill="#5cc6ee"/>
<rect x="498.60" y="257.36" width="1.20" height="2.46" fill="#5cc6ee"/>
<rect x="499.50" y="257.36" width="1.20" height="2.46" fill="#5cc6ee"/>
<rect x="501.30" y="257.36" width="1.20" height="2.46" fill="#5cc6ee"/>
<rect x="504.00" y="257.36" width="1.20" height="2.46" fill="#5cc6ee"/>
<rect x="504.90" y="257.36" width="1.20" height="2.46" fill="#5cc6ee"/>
<rect x="505.80" y="257.36" width="1.20" height="2.46" fill="#5cc6ee"/>
<rect x="507.60" y="257.36" width="1.20" height="2.46" fill="#5cc6ee"/>
<rect x="508.50" y="257.36" width="1.20" height="2.46" fill="#5cc6ee"/>
<rect x="515.70" y="257.36" width="1.20" height="2.46" fill="#5cc6ee"/>
<rect x="522.00" y="257.36" width="1.20" height="2.46" fill="#5cc6ee"/>
<line x1="323.30" y1="260.12" x2="533.80" y2="260.12" stroke="#3a3a3a" stroke-width="0.55" />
<rect x="327.60" y="260.42" width="1.20" height="2.46" fill="#14a38b"/>
<rect x="328.50" y="260.42" width="1.20" height="2.46" fill="#14a38b"/>
<rect x="329.40" y="260.42" width="1.20" height="2.46" fill="#14a38b"/>
<rect x="332.10" y="260.42" width="1.20" height="2.46" fill="#14a38b"/>
<rect x="342.00" y="260.42" width="1.20" height="2.46" fill="#14a38b"/>
<rect x="342.90" y="260.42" width="1.20" height="2.46" fill="#14a38b"/>
<rect x="343.80" y="260.42" width="1.20" height="2.46" fill="#14a38b"/>
<rect x="351.90" y="260.42" width="1.20" height="2.46" fill="#14a38b"/>
<rect x="354.60" y="260.42" width="1.20" height="2.46" fill="#14a38b"/>
<rect x="356.40" y="260.42" width="1.20" height="2.46" fill="#14a38b"/>
<rect x="368.10" y="260.42" width="1.20" height="2.46" fill="#14a38b"/>
<rect x="384.30" y="260.42" width="1.20" height="2.46" fill="#14a38b"/>
<rect x="385.20" y="260.42" width="1.20" height="2.46" fill="#14a38b"/>
<rect x="387.90" y="260.42" width="1.20" height="2.46" fill="#14a38b"/>
<rect x="388.80" y="260.42" width="1.20" height="2.46" fill="#14a38b"/>
<rect x="389.70" y="260.42" width="1.20" height="2.46" fill="#14a38b"/>
<rect x="390.60" y="260.42" width="1.20" height="2.46" fill="#14a38b"/>
<rect x="391.50" y="260.42" width="1.20" height="2.46" fill="#14a38b"/>
<rect x="394.20" y="260.42" width="1.20" height="2.46" fill="#14a38b"/>
<rect x="395.10" y="260.42" width="1.20" height="2.46" fill="#14a38b"/>
<rect x="396.00" y="260.42" width="1.20" height="2.46" fill="#14a38b"/>
<rect x="396.90" y="260.42" width="1.20" height="2.46" fill="#14a38b"/>
<rect x="398.70" y="260.42" width="1.20" height="2.46" fill="#14a38b"/>
<rect x="399.60" y="260.42" width="1.20" height="2.46" fill="#14a38b"/>
<rect x="401.40" y="260.42" width="1.20" height="2.46" fill="#14a38b"/>
<rect x="402.30" y="260.42" width="1.20" height="2.46" fill="#14a38b"/>
<rect x="403.20" y="260.42" width="1.20" height="2.46" fill="#14a38b"/>
<rect x="404.10" y="260.42" width="1.20" height="2.46" fill="#14a38b"/>
<rect x="405.00" y="260.42" width="1.20" height="2.46" fill="#14a38b"/>
<rect x="406.80" y="260.42" width="1.20" height="2.46" fill="#14a38b"/>
<rect x="407.70" y="260.42" width="1.20" height="2.46" fill="#14a38b"/>
<rect x="409.50" y="260.42" width="1.20" height="2.46" fill="#14a38b"/>
<rect x="410.40" y="260.42" width="1.20" height="2.46" fill="#14a38b"/>
<rect x="411.30" y="260.42" width="1.20" height="2.46" fill="#14a38b"/>
<rect x="412.20" y="260.42" width="1.20" height="2.46" fill="#14a38b"/>
<rect x="414.00" y="260.42" width="1.20" height="2.46" fill="#14a38b"/>
<rect x="414.90" y="260.42" width="1.20" height="2.46" fill="#14a38b"/>
<rect x="418.50" y="260.42" width="1.20" height="2.46" fill="#14a38b"/>
<rect x="420.30" y="260.42" width="1.20" height="2.46" fill="#14a38b"/>
<rect x="421.20" y="260.42" width="1.20" height="2.46" fill="#14a38b"/>
<rect x="422.10" y="260.42" width="1.20" height="2.46" fill="#14a38b"/>
<rect x="424.80" y="260.42" width="1.20" height="2.46" fill="#14a38b"/>
<rect x="425.70" y="260.42" width="1.20" height="2.46" fill="#14a38b"/>
<rect x="427.50" y="260.42" width="1.20" height="2.46" fill="#14a38b"/>
<rect x="429.30" y="260.42" width="1.20" height="2.46" fill="#14a38b"/>
<rect x="430.20" y="260.42" width="1.20" height="2.46" fill="#14a38b"/>
<rect x="431.10" y="260.42" width="1.20" height="2.46" fill="#14a38b"/>
<rect x="432.00" y="260.42" width="1.20" height="2.46" fill="#14a38b"/>
<rect x="433.80" y="260.42" width="1.20" height="2.46" fill="#14a38b"/>
<rect x="435.60" y="260.42" width="1.20" height="2.46" fill="#14a38b"/>
<rect x="436.50" y="260.42" width="1.20" height="2.46" fill="#14a38b"/>
<rect x="438.30" y="260.42" width="1.20" height="2.46" fill="#14a38b"/>
<rect x="439.20" y="260.42" width="1.20" height="2.46" fill="#14a38b"/>
<rect x="440.10" y="260.42" width="1.20" height="2.46" fill="#14a38b"/>
<rect x="442.80" y="260.42" width="1.20" height="2.46" fill="#14a38b"/>
<rect x="443.70" y="260.42" width="1.20" height="2.46" fill="#14a38b"/>
<rect x="445.50" y="260.42" width="1.20" height="2.46" fill="#14a38b"/>
<rect x="478.80" y="260.42" width="1.20" height="2.46" fill="#14a38b"/>
<rect x="483.30" y="260.42" width="1.20" height="2.46" fill="#14a38b"/>
<rect x="486.00" y="260.42" width="1.20" height="2.46" fill="#14a38b"/>
<rect x="486.90" y="260.42" width="1.20" height="2.46" fill="#14a38b"/>
<rect x="495.00" y="260.42" width="1.20" height="2.46" fill="#14a38b"/>
<rect x="497.70" y="260.42" width="1.20" height="2.46" fill="#14a38b"/>
<rect x="498.60" y="260.42" width="1.20" height="2.46" fill="#14a38b"/>
<rect x="500.40" y="260.42" width="1.20" height="2.46" fill="#14a38b"/>
<rect x="526.50" y="260.42" width="1.20" height="2.46" fill="#14a38b"/>
<line x1="323.30" y1="263.18" x2="533.80" y2="263.18" stroke="#3a3a3a" stroke-width="0.55" />
<rect x="350.10" y="263.48" width="1.20" height="2.46" fill="#2e4596"/>
<rect x="361.80" y="263.48" width="1.20" height="2.46" fill="#2e4596"/>
<rect x="378.90" y="263.48" width="1.20" height="2.46" fill="#2e4596"/>
<rect x="396.00" y="263.48" width="1.20" height="2.46" fill="#2e4596"/>
<rect x="398.70" y="263.48" width="1.20" height="2.46" fill="#2e4596"/>
<rect x="399.60" y="263.48" width="1.20" height="2.46" fill="#2e4596"/>
<rect x="402.30" y="263.48" width="1.20" height="2.46" fill="#2e4596"/>
<rect x="405.90" y="263.48" width="1.20" height="2.46" fill="#2e4596"/>
<rect x="407.70" y="263.48" width="1.20" height="2.46" fill="#2e4596"/>
<rect x="418.50" y="263.48" width="1.20" height="2.46" fill="#2e4596"/>
<rect x="424.80" y="263.48" width="1.20" height="2.46" fill="#2e4596"/>
<rect x="426.60" y="263.48" width="1.20" height="2.46" fill="#2e4596"/>
<rect x="427.50" y="263.48" width="1.20" height="2.46" fill="#2e4596"/>
<rect x="428.40" y="263.48" width="1.20" height="2.46" fill="#2e4596"/>
<rect x="432.00" y="263.48" width="1.20" height="2.46" fill="#2e4596"/>
<rect x="433.80" y="263.48" width="1.20" height="2.46" fill="#2e4596"/>
<rect x="436.50" y="263.48" width="1.20" height="2.46" fill="#2e4596"/>
<rect x="439.20" y="263.48" width="1.20" height="2.46" fill="#2e4596"/>
<rect x="463.50" y="263.48" width="1.20" height="2.46" fill="#2e4596"/>
<rect x="477.00" y="263.48" width="1.20" height="2.46" fill="#2e4596"/>
<rect x="477.90" y="263.48" width="1.20" height="2.46" fill="#2e4596"/>
<rect x="478.80" y="263.48" width="1.20" height="2.46" fill="#2e4596"/>
<rect x="479.70" y="263.48" width="1.20" height="2.46" fill="#2e4596"/>
<rect x="486.90" y="263.48" width="1.20" height="2.46" fill="#2e4596"/>
<rect x="488.70" y="263.48" width="1.20" height="2.46" fill="#2e4596"/>
<rect x="492.30" y="263.48" width="1.20" height="2.46" fill="#2e4596"/>
<rect x="510.30" y="263.48" width="1.20" height="2.46" fill="#2e4596"/>
<rect x="511.20" y="263.48" width="1.20" height="2.46" fill="#2e4596"/>
<rect x="513.00" y="263.48" width="1.20" height="2.46" fill="#2e4596"/>
<line x1="323.30" y1="266.24" x2="533.80" y2="266.24" stroke="#3a3a3a" stroke-width="0.55" />
<rect x="332.10" y="266.54" width="1.20" height="2.46" fill="#f5906a"/>
<rect x="334.80" y="266.54" width="1.20" height="2.46" fill="#f5906a"/>
<rect x="350.10" y="266.54" width="1.20" height="2.46" fill="#f5906a"/>
<rect x="353.70" y="266.54" width="1.20" height="2.46" fill="#f5906a"/>
<rect x="371.70" y="266.54" width="1.20" height="2.46" fill="#f5906a"/>
<rect x="373.50" y="266.54" width="1.20" height="2.46" fill="#f5906a"/>
<rect x="375.30" y="266.54" width="1.20" height="2.46" fill="#f5906a"/>
<rect x="378.00" y="266.54" width="1.20" height="2.46" fill="#f5906a"/>
<rect x="379.80" y="266.54" width="1.20" height="2.46" fill="#f5906a"/>
<rect x="388.80" y="266.54" width="1.20" height="2.46" fill="#f5906a"/>
<rect x="390.60" y="266.54" width="1.20" height="2.46" fill="#f5906a"/>
<rect x="391.50" y="266.54" width="1.20" height="2.46" fill="#f5906a"/>
<rect x="392.40" y="266.54" width="1.20" height="2.46" fill="#f5906a"/>
<rect x="396.00" y="266.54" width="1.20" height="2.46" fill="#f5906a"/>
<rect x="403.20" y="266.54" width="1.20" height="2.46" fill="#f5906a"/>
<rect x="404.10" y="266.54" width="1.20" height="2.46" fill="#f5906a"/>
<rect x="415.80" y="266.54" width="1.20" height="2.46" fill="#f5906a"/>
<rect x="417.60" y="266.54" width="1.20" height="2.46" fill="#f5906a"/>
<rect x="419.40" y="266.54" width="1.20" height="2.46" fill="#f5906a"/>
<rect x="424.80" y="266.54" width="1.20" height="2.46" fill="#f5906a"/>
<rect x="425.70" y="266.54" width="1.20" height="2.46" fill="#f5906a"/>
<rect x="427.50" y="266.54" width="1.20" height="2.46" fill="#f5906a"/>
<rect x="429.30" y="266.54" width="1.20" height="2.46" fill="#f5906a"/>
<rect x="432.00" y="266.54" width="1.20" height="2.46" fill="#f5906a"/>
<rect x="436.50" y="266.54" width="1.20" height="2.46" fill="#f5906a"/>
<rect x="438.30" y="266.54" width="1.20" height="2.46" fill="#f5906a"/>
<rect x="439.20" y="266.54" width="1.20" height="2.46" fill="#f5906a"/>
<rect x="441.00" y="266.54" width="1.20" height="2.46" fill="#f5906a"/>
<rect x="441.90" y="266.54" width="1.20" height="2.46" fill="#f5906a"/>
<rect x="443.70" y="266.54" width="1.20" height="2.46" fill="#f5906a"/>
<rect x="457.20" y="266.54" width="1.20" height="2.46" fill="#f5906a"/>
<rect x="458.10" y="266.54" width="1.20" height="2.46" fill="#f5906a"/>
<rect x="486.00" y="266.54" width="1.20" height="2.46" fill="#f5906a"/>
<rect x="487.80" y="266.54" width="1.20" height="2.46" fill="#f5906a"/>
<rect x="488.70" y="266.54" width="1.20" height="2.46" fill="#f5906a"/>
<rect x="489.60" y="266.54" width="1.20" height="2.46" fill="#f5906a"/>
<rect x="490.50" y="266.54" width="1.20" height="2.46" fill="#f5906a"/>
<rect x="491.40" y="266.54" width="1.20" height="2.46" fill="#f5906a"/>
<rect x="506.70" y="266.54" width="1.20" height="2.46" fill="#f5906a"/>
<rect x="507.60" y="266.54" width="1.20" height="2.46" fill="#f5906a"/>
<rect x="518.40" y="266.54" width="1.20" height="2.46" fill="#f5906a"/>
<rect x="519.30" y="266.54" width="1.20" height="2.46" fill="#f5906a"/>
<rect x="523.80" y="266.54" width="1.20" height="2.46" fill="#f5906a"/>
<rect x="528.30" y="266.54" width="1.20" height="2.46" fill="#f5906a"/>
<line x1="323.30" y1="269.30" x2="533.80" y2="269.30" stroke="#3a3a3a" stroke-width="0.55" />
<rect x="343.80" y="269.60" width="1.20" height="2.46" fill="#7080c4"/>
<rect x="344.70" y="269.60" width="1.20" height="2.46" fill="#7080c4"/>
<rect x="351.00" y="269.60" width="1.20" height="2.46" fill="#7080c4"/>
<rect x="366.30" y="269.60" width="1.20" height="2.46" fill="#7080c4"/>
<rect x="367.20" y="269.60" width="1.20" height="2.46" fill="#7080c4"/>
<rect x="387.90" y="269.60" width="1.20" height="2.46" fill="#7080c4"/>
<rect x="390.60" y="269.60" width="1.20" height="2.46" fill="#7080c4"/>
<rect x="393.30" y="269.60" width="1.20" height="2.46" fill="#7080c4"/>
<rect x="394.20" y="269.60" width="1.20" height="2.46" fill="#7080c4"/>
<rect x="395.10" y="269.60" width="1.20" height="2.46" fill="#7080c4"/>
<rect x="396.00" y="269.60" width="1.20" height="2.46" fill="#7080c4"/>
<rect x="400.50" y="269.60" width="1.20" height="2.46" fill="#7080c4"/>
<rect x="405.90" y="269.60" width="1.20" height="2.46" fill="#7080c4"/>
<rect x="412.20" y="269.60" width="1.20" height="2.46" fill="#7080c4"/>
<rect x="415.80" y="269.60" width="1.20" height="2.46" fill="#7080c4"/>
<rect x="417.60" y="269.60" width="1.20" height="2.46" fill="#7080c4"/>
<rect x="418.50" y="269.60" width="1.20" height="2.46" fill="#7080c4"/>
<rect x="420.30" y="269.60" width="1.20" height="2.46" fill="#7080c4"/>
<rect x="421.20" y="269.60" width="1.20" height="2.46" fill="#7080c4"/>
<rect x="450.90" y="269.60" width="1.20" height="2.46" fill="#7080c4"/>
<rect x="455.40" y="269.60" width="1.20" height="2.46" fill="#7080c4"/>
<rect x="464.40" y="269.60" width="1.20" height="2.46" fill="#7080c4"/>
<rect x="474.30" y="269.60" width="1.20" height="2.46" fill="#7080c4"/>
<rect x="475.20" y="269.60" width="1.20" height="2.46" fill="#7080c4"/>
<rect x="498.60" y="269.60" width="1.20" height="2.46" fill="#7080c4"/>
<rect x="500.40" y="269.60" width="1.20" height="2.46" fill="#7080c4"/>
<rect x="527.40" y="269.60" width="1.20" height="2.46" fill="#7080c4"/>
<line x1="323.30" y1="272.36" x2="533.80" y2="272.36" stroke="#3a3a3a" stroke-width="0.55" />
<rect x="327.60" y="272.66" width="1.20" height="2.46" fill="#8fd6cf"/>
<rect x="333.00" y="272.66" width="1.20" height="2.46" fill="#8fd6cf"/>
<rect x="364.50" y="272.66" width="1.20" height="2.46" fill="#8fd6cf"/>
<rect x="367.20" y="272.66" width="1.20" height="2.46" fill="#8fd6cf"/>
<rect x="373.50" y="272.66" width="1.20" height="2.46" fill="#8fd6cf"/>
<rect x="383.40" y="272.66" width="1.20" height="2.46" fill="#8fd6cf"/>
<rect x="387.90" y="272.66" width="1.20" height="2.46" fill="#8fd6cf"/>
<rect x="388.80" y="272.66" width="1.20" height="2.46" fill="#8fd6cf"/>
<rect x="389.70" y="272.66" width="1.20" height="2.46" fill="#8fd6cf"/>
<rect x="391.50" y="272.66" width="1.20" height="2.46" fill="#8fd6cf"/>
<rect x="393.30" y="272.66" width="1.20" height="2.46" fill="#8fd6cf"/>
<rect x="395.10" y="272.66" width="1.20" height="2.46" fill="#8fd6cf"/>
<rect x="399.60" y="272.66" width="1.20" height="2.46" fill="#8fd6cf"/>
<rect x="402.30" y="272.66" width="1.20" height="2.46" fill="#8fd6cf"/>
<rect x="405.90" y="272.66" width="1.20" height="2.46" fill="#8fd6cf"/>
<rect x="406.80" y="272.66" width="1.20" height="2.46" fill="#8fd6cf"/>
<rect x="407.70" y="272.66" width="1.20" height="2.46" fill="#8fd6cf"/>
<rect x="412.20" y="272.66" width="1.20" height="2.46" fill="#8fd6cf"/>
<rect x="414.00" y="272.66" width="1.20" height="2.46" fill="#8fd6cf"/>
<rect x="414.90" y="272.66" width="1.20" height="2.46" fill="#8fd6cf"/>
<rect x="418.50" y="272.66" width="1.20" height="2.46" fill="#8fd6cf"/>
<rect x="420.30" y="272.66" width="1.20" height="2.46" fill="#8fd6cf"/>
<rect x="421.20" y="272.66" width="1.20" height="2.46" fill="#8fd6cf"/>
<rect x="422.10" y="272.66" width="1.20" height="2.46" fill="#8fd6cf"/>
<rect x="423.00" y="272.66" width="1.20" height="2.46" fill="#8fd6cf"/>
<rect x="423.90" y="272.66" width="1.20" height="2.46" fill="#8fd6cf"/>
<rect x="426.60" y="272.66" width="1.20" height="2.46" fill="#8fd6cf"/>
<rect x="430.20" y="272.66" width="1.20" height="2.46" fill="#8fd6cf"/>
<rect x="432.90" y="272.66" width="1.20" height="2.46" fill="#8fd6cf"/>
<rect x="434.70" y="272.66" width="1.20" height="2.46" fill="#8fd6cf"/>
<rect x="436.50" y="272.66" width="1.20" height="2.46" fill="#8fd6cf"/>
<rect x="437.40" y="272.66" width="1.20" height="2.46" fill="#8fd6cf"/>
<rect x="440.10" y="272.66" width="1.20" height="2.46" fill="#8fd6cf"/>
<rect x="441.00" y="272.66" width="1.20" height="2.46" fill="#8fd6cf"/>
<rect x="442.80" y="272.66" width="1.20" height="2.46" fill="#8fd6cf"/>
<rect x="443.70" y="272.66" width="1.20" height="2.46" fill="#8fd6cf"/>
<rect x="446.40" y="272.66" width="1.20" height="2.46" fill="#8fd6cf"/>
<rect x="447.30" y="272.66" width="1.20" height="2.46" fill="#8fd6cf"/>
<rect x="449.10" y="272.66" width="1.20" height="2.46" fill="#8fd6cf"/>
<rect x="451.80" y="272.66" width="1.20" height="2.46" fill="#8fd6cf"/>
<rect x="463.50" y="272.66" width="1.20" height="2.46" fill="#8fd6cf"/>
<rect x="483.30" y="272.66" width="1.20" height="2.46" fill="#8fd6cf"/>
<rect x="484.20" y="272.66" width="1.20" height="2.46" fill="#8fd6cf"/>
<rect x="489.60" y="272.66" width="1.20" height="2.46" fill="#8fd6cf"/>
<rect x="500.40" y="272.66" width="1.20" height="2.46" fill="#8fd6cf"/>
<rect x="508.50" y="272.66" width="1.20" height="2.46" fill="#8fd6cf"/>
<rect x="517.50" y="272.66" width="1.20" height="2.46" fill="#8fd6cf"/>
<rect x="519.30" y="272.66" width="1.20" height="2.46" fill="#8fd6cf"/>
<rect x="520.20" y="272.66" width="1.20" height="2.46" fill="#8fd6cf"/>
<line x1="323.30" y1="275.42" x2="533.80" y2="275.42" stroke="#3a3a3a" stroke-width="0.55" />
<rect x="355.50" y="275.72" width="1.20" height="2.46" fill="#e8242b"/>
<rect x="380.70" y="275.72" width="1.20" height="2.46" fill="#e8242b"/>
<rect x="411.30" y="275.72" width="1.20" height="2.46" fill="#e8242b"/>
<rect x="414.00" y="275.72" width="1.20" height="2.46" fill="#e8242b"/>
<rect x="446.40" y="275.72" width="1.20" height="2.46" fill="#e8242b"/>
<rect x="452.70" y="275.72" width="1.20" height="2.46" fill="#e8242b"/>
<rect x="478.80" y="275.72" width="1.20" height="2.46" fill="#e8242b"/>
<rect x="490.50" y="275.72" width="1.20" height="2.46" fill="#e8242b"/>
<rect x="504.90" y="275.72" width="1.20" height="2.46" fill="#e8242b"/>
<rect x="524.70" y="275.72" width="1.20" height="2.46" fill="#e8242b"/>
<line x1="323.30" y1="278.48" x2="533.80" y2="278.48" stroke="#3a3a3a" stroke-width="0.55" />
<rect x="328.50" y="278.78" width="1.20" height="2.46" fill="#8a6a55"/>
<rect x="329.40" y="278.78" width="1.20" height="2.46" fill="#8a6a55"/>
<rect x="330.30" y="278.78" width="1.20" height="2.46" fill="#8a6a55"/>
<rect x="331.20" y="278.78" width="1.20" height="2.46" fill="#8a6a55"/>
<rect x="336.60" y="278.78" width="1.20" height="2.46" fill="#8a6a55"/>
<rect x="342.00" y="278.78" width="1.20" height="2.46" fill="#8a6a55"/>
<rect x="346.50" y="278.78" width="1.20" height="2.46" fill="#8a6a55"/>
<rect x="350.10" y="278.78" width="1.20" height="2.46" fill="#8a6a55"/>
<rect x="356.40" y="278.78" width="1.20" height="2.46" fill="#8a6a55"/>
<rect x="358.20" y="278.78" width="1.20" height="2.46" fill="#8a6a55"/>
<rect x="359.10" y="278.78" width="1.20" height="2.46" fill="#8a6a55"/>
<rect x="360.00" y="278.78" width="1.20" height="2.46" fill="#8a6a55"/>
<rect x="361.80" y="278.78" width="1.20" height="2.46" fill="#8a6a55"/>
<rect x="363.60" y="278.78" width="1.20" height="2.46" fill="#8a6a55"/>
<rect x="365.40" y="278.78" width="1.20" height="2.46" fill="#8a6a55"/>
<rect x="366.30" y="278.78" width="1.20" height="2.46" fill="#8a6a55"/>
<rect x="369.00" y="278.78" width="1.20" height="2.46" fill="#8a6a55"/>
<rect x="387.90" y="278.78" width="1.20" height="2.46" fill="#8a6a55"/>
<rect x="388.80" y="278.78" width="1.20" height="2.46" fill="#8a6a55"/>
<rect x="390.60" y="278.78" width="1.20" height="2.46" fill="#8a6a55"/>
<rect x="395.10" y="278.78" width="1.20" height="2.46" fill="#8a6a55"/>
<rect x="396.90" y="278.78" width="1.20" height="2.46" fill="#8a6a55"/>
<rect x="397.80" y="278.78" width="1.20" height="2.46" fill="#8a6a55"/>
<rect x="399.60" y="278.78" width="1.20" height="2.46" fill="#8a6a55"/>
<rect x="401.40" y="278.78" width="1.20" height="2.46" fill="#8a6a55"/>
<rect x="402.30" y="278.78" width="1.20" height="2.46" fill="#8a6a55"/>
<rect x="404.10" y="278.78" width="1.20" height="2.46" fill="#8a6a55"/>
<rect x="405.00" y="278.78" width="1.20" height="2.46" fill="#8a6a55"/>
<rect x="405.90" y="278.78" width="1.20" height="2.46" fill="#8a6a55"/>
<rect x="406.80" y="278.78" width="1.20" height="2.46" fill="#8a6a55"/>
<rect x="407.70" y="278.78" width="1.20" height="2.46" fill="#8a6a55"/>
<rect x="408.60" y="278.78" width="1.20" height="2.46" fill="#8a6a55"/>
<rect x="409.50" y="278.78" width="1.20" height="2.46" fill="#8a6a55"/>
<rect x="410.40" y="278.78" width="1.20" height="2.46" fill="#8a6a55"/>
<rect x="411.30" y="278.78" width="1.20" height="2.46" fill="#8a6a55"/>
<rect x="412.20" y="278.78" width="1.20" height="2.46" fill="#8a6a55"/>
<rect x="413.10" y="278.78" width="1.20" height="2.46" fill="#8a6a55"/>
<rect x="414.00" y="278.78" width="1.20" height="2.46" fill="#8a6a55"/>
<rect x="414.90" y="278.78" width="1.20" height="2.46" fill="#8a6a55"/>
<rect x="415.80" y="278.78" width="1.20" height="2.46" fill="#8a6a55"/>
<rect x="417.60" y="278.78" width="1.20" height="2.46" fill="#8a6a55"/>
<rect x="418.50" y="278.78" width="1.20" height="2.46" fill="#8a6a55"/>
<rect x="419.40" y="278.78" width="1.20" height="2.46" fill="#8a6a55"/>
<rect x="420.30" y="278.78" width="1.20" height="2.46" fill="#8a6a55"/>
<rect x="422.10" y="278.78" width="1.20" height="2.46" fill="#8a6a55"/>
<rect x="423.00" y="278.78" width="1.20" height="2.46" fill="#8a6a55"/>
<rect x="423.90" y="278.78" width="1.20" height="2.46" fill="#8a6a55"/>
<rect x="424.80" y="278.78" width="1.20" height="2.46" fill="#8a6a55"/>
<rect x="425.70" y="278.78" width="1.20" height="2.46" fill="#8a6a55"/>
<rect x="430.20" y="278.78" width="1.20" height="2.46" fill="#8a6a55"/>
<rect x="432.00" y="278.78" width="1.20" height="2.46" fill="#8a6a55"/>
<rect x="433.80" y="278.78" width="1.20" height="2.46" fill="#8a6a55"/>
<rect x="437.40" y="278.78" width="1.20" height="2.46" fill="#8a6a55"/>
<rect x="439.20" y="278.78" width="1.20" height="2.46" fill="#8a6a55"/>
<rect x="440.10" y="278.78" width="1.20" height="2.46" fill="#8a6a55"/>
<rect x="441.00" y="278.78" width="1.20" height="2.46" fill="#8a6a55"/>
<rect x="444.60" y="278.78" width="1.20" height="2.46" fill="#8a6a55"/>
<rect x="445.50" y="278.78" width="1.20" height="2.46" fill="#8a6a55"/>
<rect x="446.40" y="278.78" width="1.20" height="2.46" fill="#8a6a55"/>
<rect x="447.30" y="278.78" width="1.20" height="2.46" fill="#8a6a55"/>
<rect x="448.20" y="278.78" width="1.20" height="2.46" fill="#8a6a55"/>
<rect x="449.10" y="278.78" width="1.20" height="2.46" fill="#8a6a55"/>
<rect x="450.00" y="278.78" width="1.20" height="2.46" fill="#8a6a55"/>
<rect x="450.90" y="278.78" width="1.20" height="2.46" fill="#8a6a55"/>
<rect x="452.70" y="278.78" width="1.20" height="2.46" fill="#8a6a55"/>
<rect x="454.50" y="278.78" width="1.20" height="2.46" fill="#8a6a55"/>
<rect x="456.30" y="278.78" width="1.20" height="2.46" fill="#8a6a55"/>
<rect x="457.20" y="278.78" width="1.20" height="2.46" fill="#8a6a55"/>
<rect x="458.10" y="278.78" width="1.20" height="2.46" fill="#8a6a55"/>
<rect x="459.00" y="278.78" width="1.20" height="2.46" fill="#8a6a55"/>
<rect x="461.70" y="278.78" width="1.20" height="2.46" fill="#8a6a55"/>
<rect x="464.40" y="278.78" width="1.20" height="2.46" fill="#8a6a55"/>
<rect x="468.00" y="278.78" width="1.20" height="2.46" fill="#8a6a55"/>
<rect x="479.70" y="278.78" width="1.20" height="2.46" fill="#8a6a55"/>
<rect x="485.10" y="278.78" width="1.20" height="2.46" fill="#8a6a55"/>
<rect x="486.90" y="278.78" width="1.20" height="2.46" fill="#8a6a55"/>
<rect x="487.80" y="278.78" width="1.20" height="2.46" fill="#8a6a55"/>
<rect x="488.70" y="278.78" width="1.20" height="2.46" fill="#8a6a55"/>
<rect x="509.40" y="278.78" width="1.20" height="2.46" fill="#8a6a55"/>
<rect x="510.30" y="278.78" width="1.20" height="2.46" fill="#8a6a55"/>
<rect x="513.00" y="278.78" width="1.20" height="2.46" fill="#8a6a55"/>
<rect x="515.70" y="278.78" width="1.20" height="2.46" fill="#8a6a55"/>
<rect x="516.60" y="278.78" width="1.20" height="2.46" fill="#8a6a55"/>
<rect x="517.50" y="278.78" width="1.20" height="2.46" fill="#8a6a55"/>
<rect x="518.40" y="278.78" width="1.20" height="2.46" fill="#8a6a55"/>
<rect x="521.10" y="278.78" width="1.20" height="2.46" fill="#8a6a55"/>
<rect x="523.80" y="278.78" width="1.20" height="2.46" fill="#8a6a55"/>
<rect x="525.60" y="278.78" width="1.20" height="2.46" fill="#8a6a55"/>
<rect x="526.50" y="278.78" width="1.20" height="2.46" fill="#8a6a55"/>
<rect x="527.40" y="278.78" width="1.20" height="2.46" fill="#8a6a55"/>
<rect x="528.30" y="278.78" width="1.20" height="2.46" fill="#8a6a55"/>
<line x1="323.30" y1="281.54" x2="533.80" y2="281.54" stroke="#3a3a3a" stroke-width="0.55" />
<rect x="327.60" y="281.84" width="1.20" height="2.46" fill="#c19a72"/>
<rect x="328.50" y="281.84" width="1.20" height="2.46" fill="#c19a72"/>
<rect x="330.30" y="281.84" width="1.20" height="2.46" fill="#c19a72"/>
<rect x="343.80" y="281.84" width="1.20" height="2.46" fill="#c19a72"/>
<rect x="344.70" y="281.84" width="1.20" height="2.46" fill="#c19a72"/>
<rect x="345.60" y="281.84" width="1.20" height="2.46" fill="#c19a72"/>
<rect x="351.90" y="281.84" width="1.20" height="2.46" fill="#c19a72"/>
<rect x="352.80" y="281.84" width="1.20" height="2.46" fill="#c19a72"/>
<rect x="353.70" y="281.84" width="1.20" height="2.46" fill="#c19a72"/>
<rect x="354.60" y="281.84" width="1.20" height="2.46" fill="#c19a72"/>
<rect x="355.50" y="281.84" width="1.20" height="2.46" fill="#c19a72"/>
<rect x="356.40" y="281.84" width="1.20" height="2.46" fill="#c19a72"/>
<rect x="357.30" y="281.84" width="1.20" height="2.46" fill="#c19a72"/>
<rect x="358.20" y="281.84" width="1.20" height="2.46" fill="#c19a72"/>
<rect x="359.10" y="281.84" width="1.20" height="2.46" fill="#c19a72"/>
<rect x="360.00" y="281.84" width="1.20" height="2.46" fill="#c19a72"/>
<rect x="360.90" y="281.84" width="1.20" height="2.46" fill="#c19a72"/>
<rect x="363.60" y="281.84" width="1.20" height="2.46" fill="#c19a72"/>
<rect x="364.50" y="281.84" width="1.20" height="2.46" fill="#c19a72"/>
<rect x="365.40" y="281.84" width="1.20" height="2.46" fill="#c19a72"/>
<rect x="369.00" y="281.84" width="1.20" height="2.46" fill="#c19a72"/>
<rect x="370.80" y="281.84" width="1.20" height="2.46" fill="#c19a72"/>
<rect x="371.70" y="281.84" width="1.20" height="2.46" fill="#c19a72"/>
<rect x="375.30" y="281.84" width="1.20" height="2.46" fill="#c19a72"/>
<rect x="376.20" y="281.84" width="1.20" height="2.46" fill="#c19a72"/>
<rect x="377.10" y="281.84" width="1.20" height="2.46" fill="#c19a72"/>
<rect x="378.00" y="281.84" width="1.20" height="2.46" fill="#c19a72"/>
<rect x="379.80" y="281.84" width="1.20" height="2.46" fill="#c19a72"/>
<rect x="380.70" y="281.84" width="1.20" height="2.46" fill="#c19a72"/>
<rect x="381.60" y="281.84" width="1.20" height="2.46" fill="#c19a72"/>
<rect x="383.40" y="281.84" width="1.20" height="2.46" fill="#c19a72"/>
<rect x="385.20" y="281.84" width="1.20" height="2.46" fill="#c19a72"/>
<rect x="387.00" y="281.84" width="1.20" height="2.46" fill="#c19a72"/>
<rect x="387.90" y="281.84" width="1.20" height="2.46" fill="#c19a72"/>
<rect x="388.80" y="281.84" width="1.20" height="2.46" fill="#c19a72"/>
<rect x="391.50" y="281.84" width="1.20" height="2.46" fill="#c19a72"/>
<rect x="392.40" y="281.84" width="1.20" height="2.46" fill="#c19a72"/>
<rect x="393.30" y="281.84" width="1.20" height="2.46" fill="#c19a72"/>
<rect x="394.20" y="281.84" width="1.20" height="2.46" fill="#c19a72"/>
<rect x="395.10" y="281.84" width="1.20" height="2.46" fill="#c19a72"/>
<rect x="396.90" y="281.84" width="1.20" height="2.46" fill="#c19a72"/>
<rect x="397.80" y="281.84" width="1.20" height="2.46" fill="#c19a72"/>
<rect x="399.60" y="281.84" width="1.20" height="2.46" fill="#c19a72"/>
<rect x="401.40" y="281.84" width="1.20" height="2.46" fill="#c19a72"/>
<rect x="402.30" y="281.84" width="1.20" height="2.46" fill="#c19a72"/>
<rect x="404.10" y="281.84" width="1.20" height="2.46" fill="#c19a72"/>
<rect x="405.00" y="281.84" width="1.20" height="2.46" fill="#c19a72"/>
<rect x="405.90" y="281.84" width="1.20" height="2.46" fill="#c19a72"/>
<rect x="406.80" y="281.84" width="1.20" height="2.46" fill="#c19a72"/>
<rect x="407.70" y="281.84" width="1.20" height="2.46" fill="#c19a72"/>
<rect x="408.60" y="281.84" width="1.20" height="2.46" fill="#c19a72"/>
<rect x="409.50" y="281.84" width="1.20" height="2.46" fill="#c19a72"/>
<rect x="410.40" y="281.84" width="1.20" height="2.46" fill="#c19a72"/>
<rect x="414.00" y="281.84" width="1.20" height="2.46" fill="#c19a72"/>
<rect x="414.90" y="281.84" width="1.20" height="2.46" fill="#c19a72"/>
<rect x="415.80" y="281.84" width="1.20" height="2.46" fill="#c19a72"/>
<rect x="416.70" y="281.84" width="1.20" height="2.46" fill="#c19a72"/>
<rect x="418.50" y="281.84" width="1.20" height="2.46" fill="#c19a72"/>
<rect x="419.40" y="281.84" width="1.20" height="2.46" fill="#c19a72"/>
<rect x="422.10" y="281.84" width="1.20" height="2.46" fill="#c19a72"/>
<rect x="423.00" y="281.84" width="1.20" height="2.46" fill="#c19a72"/>
<rect x="423.90" y="281.84" width="1.20" height="2.46" fill="#c19a72"/>
<rect x="425.70" y="281.84" width="1.20" height="2.46" fill="#c19a72"/>
<rect x="427.50" y="281.84" width="1.20" height="2.46" fill="#c19a72"/>
<rect x="428.40" y="281.84" width="1.20" height="2.46" fill="#c19a72"/>
<rect x="430.20" y="281.84" width="1.20" height="2.46" fill="#c19a72"/>
<rect x="431.10" y="281.84" width="1.20" height="2.46" fill="#c19a72"/>
<rect x="432.00" y="281.84" width="1.20" height="2.46" fill="#c19a72"/>
<rect x="432.90" y="281.84" width="1.20" height="2.46" fill="#c19a72"/>
<rect x="433.80" y="281.84" width="1.20" height="2.46" fill="#c19a72"/>
<rect x="434.70" y="281.84" width="1.20" height="2.46" fill="#c19a72"/>
<rect x="435.60" y="281.84" width="1.20" height="2.46" fill="#c19a72"/>
<rect x="436.50" y="281.84" width="1.20" height="2.46" fill="#c19a72"/>
<rect x="438.30" y="281.84" width="1.20" height="2.46" fill="#c19a72"/>
<rect x="439.20" y="281.84" width="1.20" height="2.46" fill="#c19a72"/>
<rect x="441.90" y="281.84" width="1.20" height="2.46" fill="#c19a72"/>
<rect x="444.60" y="281.84" width="1.20" height="2.46" fill="#c19a72"/>
<rect x="445.50" y="281.84" width="1.20" height="2.46" fill="#c19a72"/>
<rect x="448.20" y="281.84" width="1.20" height="2.46" fill="#c19a72"/>
<rect x="450.90" y="281.84" width="1.20" height="2.46" fill="#c19a72"/>
<rect x="453.60" y="281.84" width="1.20" height="2.46" fill="#c19a72"/>
<rect x="456.30" y="281.84" width="1.20" height="2.46" fill="#c19a72"/>
<rect x="457.20" y="281.84" width="1.20" height="2.46" fill="#c19a72"/>
<rect x="458.10" y="281.84" width="1.20" height="2.46" fill="#c19a72"/>
<rect x="459.90" y="281.84" width="1.20" height="2.46" fill="#c19a72"/>
<rect x="468.90" y="281.84" width="1.20" height="2.46" fill="#c19a72"/>
<rect x="472.50" y="281.84" width="1.20" height="2.46" fill="#c19a72"/>
<rect x="477.90" y="281.84" width="1.20" height="2.46" fill="#c19a72"/>
<rect x="478.80" y="281.84" width="1.20" height="2.46" fill="#c19a72"/>
<rect x="480.60" y="281.84" width="1.20" height="2.46" fill="#c19a72"/>
<rect x="481.50" y="281.84" width="1.20" height="2.46" fill="#c19a72"/>
<rect x="483.30" y="281.84" width="1.20" height="2.46" fill="#c19a72"/>
<rect x="485.10" y="281.84" width="1.20" height="2.46" fill="#c19a72"/>
<rect x="486.00" y="281.84" width="1.20" height="2.46" fill="#c19a72"/>
<rect x="488.70" y="281.84" width="1.20" height="2.46" fill="#c19a72"/>
<rect x="489.60" y="281.84" width="1.20" height="2.46" fill="#c19a72"/>
<rect x="490.50" y="281.84" width="1.20" height="2.46" fill="#c19a72"/>
<rect x="491.40" y="281.84" width="1.20" height="2.46" fill="#c19a72"/>
<rect x="497.70" y="281.84" width="1.20" height="2.46" fill="#c19a72"/>
<rect x="513.00" y="281.84" width="1.20" height="2.46" fill="#c19a72"/>
<rect x="513.90" y="281.84" width="1.20" height="2.46" fill="#c19a72"/>
<rect x="514.80" y="281.84" width="1.20" height="2.46" fill="#c19a72"/>
<rect x="515.70" y="281.84" width="1.20" height="2.46" fill="#c19a72"/>
<rect x="517.50" y="281.84" width="1.20" height="2.46" fill="#c19a72"/>
<rect x="518.40" y="281.84" width="1.20" height="2.46" fill="#c19a72"/>
<rect x="520.20" y="281.84" width="1.20" height="2.46" fill="#c19a72"/>
<rect x="521.10" y="281.84" width="1.20" height="2.46" fill="#c19a72"/>
<rect x="523.80" y="281.84" width="1.20" height="2.46" fill="#c19a72"/>
<rect x="524.70" y="281.84" width="1.20" height="2.46" fill="#c19a72"/>
<line x1="323.30" y1="284.60" x2="533.80" y2="284.60" stroke="#3a3a3a" stroke-width="0.55" />
<line x1="320.80" y1="290.90" x2="323.30" y2="290.90" stroke="#444" stroke-width="0.55" />
<text class="s" x="320.40" y="292.85" font-family='"Liberation Serif", serif' font-size="5.7" text-anchor="end" fill="#111" >1.5</text>
<line x1="320.80" y1="299.50" x2="323.30" y2="299.50" stroke="#444" stroke-width="0.55" />
<text class="s" x="320.40" y="301.45" font-family='"Liberation Serif", serif' font-size="5.7" text-anchor="end" fill="#111" >1.0</text>
<line x1="320.80" y1="308.00" x2="323.30" y2="308.00" stroke="#444" stroke-width="0.55" />
<text class="s" x="320.40" y="309.95" font-family='"Liberation Serif", serif' font-size="5.7" text-anchor="end" fill="#111" >0.5</text>
<line x1="320.80" y1="316.50" x2="323.30" y2="316.50" stroke="#444" stroke-width="0.55" />
<text class="s" x="320.40" y="318.45" font-family='"Liberation Serif", serif' font-size="5.7" text-anchor="end" fill="#111" >0.0</text>
<line x1="320.80" y1="325.10" x2="323.30" y2="325.10" stroke="#444" stroke-width="0.55" />
<text class="s" x="320.40" y="327.05" font-family='"Liberation Serif", serif' font-size="5.7" text-anchor="end" fill="#111" >−0.5</text>
<line x1="320.80" y1="333.60" x2="323.30" y2="333.60" stroke="#444" stroke-width="0.55" />
<text class="s" x="320.40" y="335.55" font-family='"Liberation Serif", serif' font-size="5.7" text-anchor="end" fill="#111" >−1.0</text>
<line x1="320.80" y1="340.20" x2="323.30" y2="340.20" stroke="#444" stroke-width="0.55" />
<text transform="translate(306.0,315.0) rotate(-90)" font-family='"Liberation Serif", serif' font-size="5.3" text-anchor="middle" fill="#000" stroke="#000" stroke-width="0.06">Ranked list metric</text>
<path d="M327.60,316.50 L327.60,288.64 L328.00,295.86 L328.70,301.88 L330.00,305.15 L331.00,306.35 L334.00,307.90 L338.00,308.93 L345.00,310.14 L352.70,311.00 L365.00,311.86 L380.00,312.72 L400.00,314.09 L420.00,315.47 L435.00,316.50 L450.00,316.84 L470.00,317.53 L490.00,318.22 L504.50,319.08 L512.00,319.94 L519.00,320.97 L523.00,322.52 L526.40,325.44 L527.60,331.12 L528.40,340.06 L528.40,316.50 Z" fill="#c8c8c8" stroke="none"/>
<text class="s" x="329.60" y="293.80" font-family='"Liberation Serif", serif' font-size="4.6" text-anchor="start" fill="#333" >H</text>
<text class="s" x="523.90" y="340.50" font-family='"Liberation Serif", serif' font-size="4.6" text-anchor="start" fill="#333" >L</text>
<line x1="327.60" y1="344.80" x2="327.60" y2="346.60" stroke="#444" stroke-width="0.5" />
<text class="s" x="327.60" y="352.80" font-family='"Liberation Serif", serif' font-size="5.1" text-anchor="middle" fill="#111" >0</text>
<line x1="361.07" y1="344.80" x2="361.07" y2="346.60" stroke="#444" stroke-width="0.5" />
<text class="s" x="361.07" y="352.80" font-family='"Liberation Serif", serif' font-size="5.1" text-anchor="middle" fill="#111" >5000</text>
<line x1="394.53" y1="344.80" x2="394.53" y2="346.60" stroke="#444" stroke-width="0.5" />
<text class="s" x="394.53" y="352.80" font-family='"Liberation Serif", serif' font-size="5.1" text-anchor="middle" fill="#111" >10,000</text>
<line x1="428.00" y1="344.80" x2="428.00" y2="346.60" stroke="#444" stroke-width="0.5" />
<text class="s" x="428.00" y="352.80" font-family='"Liberation Serif", serif' font-size="5.1" text-anchor="middle" fill="#111" >15,000</text>
<line x1="461.47" y1="344.80" x2="461.47" y2="346.60" stroke="#444" stroke-width="0.5" />
<text class="s" x="461.47" y="352.80" font-family='"Liberation Serif", serif' font-size="5.1" text-anchor="middle" fill="#111" >20,000</text>
<line x1="494.93" y1="344.80" x2="494.93" y2="346.60" stroke="#444" stroke-width="0.5" />
<text class="s" x="494.93" y="352.80" font-family='"Liberation Serif", serif' font-size="5.1" text-anchor="middle" fill="#111" >25,000</text>
<line x1="528.40" y1="344.80" x2="528.40" y2="346.60" stroke="#444" stroke-width="0.5" />
<text class="s" x="528.40" y="352.80" font-family='"Liberation Serif", serif' font-size="5.1" text-anchor="middle" fill="#111" >30,000</text>
<text class="s" x="428.00" y="359.80" font-family='"Liberation Serif", serif' font-size="5.3" text-anchor="middle" fill="#111" >Rank in Ordered DataSet</text>
<rect x="324.00" y="363.20" width="2.40" height="1.10" fill="#f0503c"/>
<text class="s" x="327.60" y="365.60" font-family='"Liberation Serif", serif' font-size="5.3" fill="#111" textLength="147.5" lengthAdjust="spacingAndGlyphs">UBIQUITIN_MEDIATED_PROTEOLYSIS(ES=0.2907,NP=0.0500)</text>
<rect x="324.00" y="372.12" width="2.40" height="1.10" fill="#5cc6ee"/>
<text class="s" x="327.60" y="374.52" font-family='"Liberation Serif", serif' font-size="5.3" fill="#111" textLength="159.0" lengthAdjust="spacingAndGlyphs">REGULATION_OF_ACTIN_CYTOSKELETON(ES=0.2420,NP=0.3728)</text>
<rect x="324.00" y="381.04" width="2.40" height="1.10" fill="#14a38b"/>
<text class="s" x="327.60" y="383.44" font-family='"Liberation Serif", serif' font-size="5.3" fill="#111" textLength="137.5" lengthAdjust="spacingAndGlyphs">TGF_BETA_SIGNALING_PATHWAY(ES=0.2908,NP=0.3981)</text>
<rect x="324.00" y="389.96" width="2.40" height="1.10" fill="#2e4596"/>
<text class="s" x="327.60" y="392.36" font-family='"Liberation Serif", serif' font-size="5.3" fill="#111" textLength="111.9" lengthAdjust="spacingAndGlyphs">LYSINE_DEGRADATION(ES=0.3743,NP=0.4642)</text>
<rect x="324.00" y="398.88" width="2.40" height="1.10" fill="#f5906a"/>
<text class="s" x="327.60" y="401.28" font-family='"Liberation Serif", serif' font-size="5.3" fill="#111" textLength="160.2" lengthAdjust="spacingAndGlyphs">T_CELL_RECEPTOR_SIGNALING_PATHWAY(ES=0.2685,NP=0.3508)</text>
<rect x="324.00" y="407.80" width="2.40" height="1.10" fill="#7080c4"/>
<text class="s" x="327.60" y="410.20" font-family='"Liberation Serif", serif' font-size="5.3" fill="#111" textLength="158.4" lengthAdjust="spacingAndGlyphs">DRUG_METABOLISM_CYTOCHROME_P450(ES=0.3807,NP=0.3176)</text>
<rect x="324.00" y="416.72" width="2.40" height="1.10" fill="#8fd6cf"/>
<text class="s" x="327.60" y="419.12" font-family='"Liberation Serif", serif' font-size="5.3" fill="#111" textLength="125.7" lengthAdjust="spacingAndGlyphs">LONG_TERM_POTENTIATION(ES=0.2568,NP=0.3427)</text>
<rect x="324.00" y="425.64" width="2.40" height="1.10" fill="#e8242b"/>
<text class="s" x="327.60" y="428.04" font-family='"Liberation Serif", serif' font-size="5.3" fill="#111" textLength="184.6" lengthAdjust="spacingAndGlyphs">PROXIMAL_TUBULE_BICARBONATE_RECLAMATION(ES=0.4490,NP=0.3488)</text>
<rect x="324.00" y="434.56" width="2.40" height="1.10" fill="#8a6a55"/>
<text class="s" x="327.60" y="436.96" font-family='"Liberation Serif", serif' font-size="5.3" fill="#111" textLength="160.5" lengthAdjust="spacingAndGlyphs">B_CELL_RECEPTOR_SIGNALING_PATHWAY(ES=0.2557,NP=0.3340)</text>
<rect x="324.00" y="443.48" width="2.40" height="1.10" fill="#c19a72"/>
<text class="s" x="327.60" y="445.88" font-family='"Liberation Serif", serif' font-size="5.3" fill="#111" textLength="185.1" lengthAdjust="spacingAndGlyphs">PROGESTERONE_MEDIATED_OOCYTE_MATURATION(ES=0.3088,NP=0.4818)</text>
</svg></body></html>
